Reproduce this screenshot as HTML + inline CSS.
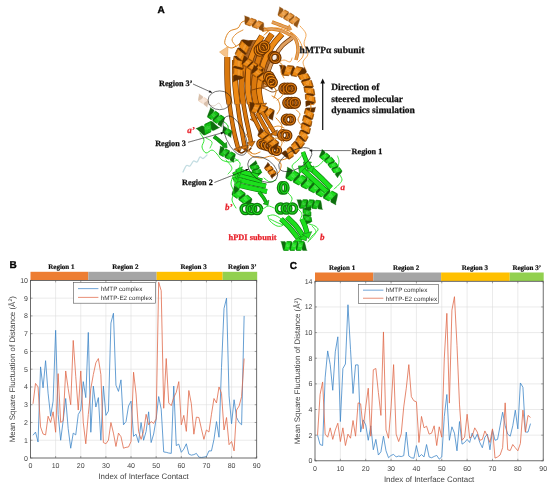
<!DOCTYPE html>
<html><head><meta charset="utf-8"><title>Figure</title>
<style>
html,body{margin:0;padding:0;background:#fff;}
svg{display:block;font-family:"Liberation Sans",sans-serif;}
</style></head><body>
<svg width="550" height="488" viewBox="0 0 550 488" text-rendering="geometricPrecision">
<rect width="550" height="488" fill="#fff"/>
<defs><filter id="soft2" x="-2%" y="-2%" width="104%" height="104%"><feGaussianBlur stdDeviation="0.3"/></filter><filter id="soft" x="-5%" y="-5%" width="110%" height="110%"><feGaussianBlur stdDeviation="0.45"/></filter></defs>
<g id="protein" filter="url(#soft)">
<path d="M266.0 33.0 C267.5 32.2 271.7 28.5 275.0 28.0 C278.3 27.5 282.5 28.7 286.0 30.0 C289.5 31.3 293.3 33.3 296.0 36.0 C298.7 38.7 300.8 42.7 302.0 46.0 C303.2 49.3 303.7 53.3 303.0 56.0 C302.3 58.7 298.8 61.0 298.0 62.0" fill="none" stroke="#f0a04a" stroke-width="1.0" stroke-linecap="round" opacity="1"/>
<path d="M300.0 26.0 C301.0 27.3 305.3 31.0 306.0 34.0 C306.7 37.0 303.7 40.7 304.0 44.0 C304.3 47.3 308.2 51.0 308.0 54.0 C307.8 57.0 303.3 59.3 303.0 62.0 C302.7 64.7 305.5 68.7 306.0 70.0" fill="none" stroke="#f0a04a" stroke-width="0.9" stroke-linecap="round" opacity="1"/>
<path d="M279.0 62.0 C279.8 61.7 282.2 60.0 284.0 60.0 C285.8 60.0 288.7 62.3 290.0 62.0 C291.3 61.7 291.7 58.7 292.0 58.0" fill="none" stroke="#f0a04a" stroke-width="0.9" stroke-linecap="round" opacity="1"/>
<g opacity="1">
<path d="M296.0 60.0 C296.3 58.3 298.0 53.3 298.0 50.0 C298.0 46.7 297.3 42.8 296.0 40.0 C294.7 37.2 291.0 34.2 290.0 33.0" fill="none" stroke="#d9780c" stroke-width="3.4" stroke-linecap="butt"/>
<path d="M296.0 60.0 C296.3 58.3 298.0 53.3 298.0 50.0 C298.0 46.7 297.3 42.8 296.0 40.0 C294.7 37.2 291.0 34.2 290.0 33.0" fill="none" stroke="#e0a060" stroke-width="2.1" stroke-linecap="butt"/>
</g>
<g opacity="1">
<path d="M272.0 22.0 C273.3 22.5 277.3 24.0 280.0 25.0 C282.7 26.0 286.7 27.5 288.0 28.0" fill="none" stroke="#d9780c" stroke-width="3.6" stroke-linecap="butt"/>
<path d="M272.0 22.0 C273.3 22.5 277.3 24.0 280.0 25.0 C282.7 26.0 286.7 27.5 288.0 28.0" fill="none" stroke="#e0a060" stroke-width="2.3" stroke-linecap="butt"/>
<path d="M291.7 29.4 L286.8 31.2 L289.2 24.8 Z" fill="#e0a060" stroke="#d9780c" stroke-width="0.6"/>
</g>
<g opacity="1">
<path d="M262.0 30.0 C263.7 29.8 268.7 28.8 272.0 29.0 C275.3 29.2 278.7 29.8 282.0 31.0 C285.3 32.2 290.3 35.2 292.0 36.0" fill="none" stroke="#d9780c" stroke-width="3.4" stroke-linecap="butt"/>
<path d="M262.0 30.0 C263.7 29.8 268.7 28.8 272.0 29.0 C275.3 29.2 278.7 29.8 282.0 31.0 C285.3 32.2 290.3 35.2 292.0 36.0" fill="none" stroke="#e0a060" stroke-width="2.1" stroke-linecap="butt"/>
</g>
<path d="M250.0 20.0 C248.7 20.3 244.0 20.7 242.0 22.0 C240.0 23.3 240.0 26.5 238.0 28.0 C236.0 29.5 232.0 29.5 230.0 31.0 C228.0 32.5 226.8 34.8 226.0 37.0 C225.2 39.2 224.2 42.2 225.0 44.0 C225.8 45.8 228.8 47.8 231.0 48.0 C233.2 48.2 236.0 46.3 238.0 45.0 C240.0 43.7 242.2 40.8 243.0 40.0" fill="none" stroke="#d9780c" stroke-width="0.9" stroke-linecap="round" opacity="1"/>
<path d="M243.0 30.0 C241.8 30.7 237.8 32.3 236.0 34.0 C234.2 35.7 232.0 38.0 232.0 40.0 C232.0 42.0 235.3 45.0 236.0 46.0" fill="none" stroke="#d9780c" stroke-width="0.8" stroke-linecap="round" opacity="1"/>
<path d="M264.0 27.0 C264.7 27.7 268.0 29.7 268.0 31.0 C268.0 32.3 264.7 34.3 264.0 35.0" fill="none" stroke="#d9780c" stroke-width="0.8" stroke-linecap="round" opacity="1"/>
<path d="M219.5 52 L228 46.5 L227.5 58.5 Z" fill="#f6c38a" stroke="#e39a45" stroke-width="0.5"/>
<path d="M240 46 L250 40 L262 40 L270 46 L270 60 L268 74 L270 86 L260 89 L246 84 L236 70 Z" fill="#9c520a" opacity="0.9"/>
<g opacity="1">
<path d="M292.0 38.0 C290.3 39.3 285.0 42.7 282.0 46.0 C279.0 49.3 276.3 53.7 274.0 58.0 C271.7 62.3 269.5 67.3 268.0 72.0 C266.5 76.7 265.5 83.7 265.0 86.0" fill="none" stroke="#6e3403" stroke-width="4.4" stroke-linecap="butt"/>
<path d="M292.0 38.0 C290.3 39.3 285.0 42.7 282.0 46.0 C279.0 49.3 276.3 53.7 274.0 58.0 C271.7 62.3 269.5 67.3 268.0 72.0 C266.5 76.7 265.5 83.7 265.0 86.0" fill="none" stroke="#e0a060" stroke-width="3.1" stroke-linecap="butt"/>
</g>
<g opacity="1">
<path d="M282.0 34.0 C280.3 36.0 275.0 41.3 272.0 46.0 C269.0 50.7 266.0 56.7 264.0 62.0 C262.0 67.3 260.8 73.0 260.0 78.0 C259.2 83.0 258.8 87.7 259.0 92.0 C259.2 96.3 260.7 102.0 261.0 104.0" fill="none" stroke="#6e3403" stroke-width="6.0" stroke-linecap="butt"/>
<path d="M282.0 34.0 C280.3 36.0 275.0 41.3 272.0 46.0 C269.0 50.7 266.0 56.7 264.0 62.0 C262.0 67.3 260.8 73.0 260.0 78.0 C259.2 83.0 258.8 87.7 259.0 92.0 C259.2 96.3 260.7 102.0 261.0 104.0" fill="none" stroke="#ee8a12" stroke-width="4.7" stroke-linecap="butt"/>
<path d="M262.1 110.5 L255.4 104.9 L266.6 103.1 Z" fill="#ee8a12" stroke="#6e3403" stroke-width="0.6"/>
</g>
<g opacity="1">
<path d="M272.0 34.0 C270.5 36.3 265.5 43.0 263.0 48.0 C260.5 53.0 258.4 58.7 257.0 64.0 C255.6 69.3 255.0 75.3 254.5 80.0 C254.0 84.7 253.8 88.0 254.0 92.0 C254.2 96.0 255.7 102.0 256.0 104.0" fill="none" stroke="#6e3403" stroke-width="6.0" stroke-linecap="butt"/>
<path d="M272.0 34.0 C270.5 36.3 265.5 43.0 263.0 48.0 C260.5 53.0 258.4 58.7 257.0 64.0 C255.6 69.3 255.0 75.3 254.5 80.0 C254.0 84.7 253.8 88.0 254.0 92.0 C254.2 96.0 255.7 102.0 256.0 104.0" fill="none" stroke="#d9780c" stroke-width="4.7" stroke-linecap="butt"/>
<path d="M257.1 110.5 L250.4 104.9 L261.6 103.1 Z" fill="#d9780c" stroke="#6e3403" stroke-width="0.6"/>
</g>
<g opacity="1">
<path d="M250.0 104.0 C250.3 105.3 251.3 109.7 252.0 112.0 C252.7 114.3 253.7 117.0 254.0 118.0" fill="none" stroke="#6e3403" stroke-width="4.4" stroke-linecap="butt"/>
<path d="M250.0 104.0 C250.3 105.3 251.3 109.7 252.0 112.0 C252.7 114.3 253.7 117.0 254.0 118.0" fill="none" stroke="#d9780c" stroke-width="3.1" stroke-linecap="butt"/>
<path d="M255.5 122.6 L250.0 119.3 L258.0 116.7 Z" fill="#d9780c" stroke="#6e3403" stroke-width="0.6"/>
</g>
<g opacity="1">
<path d="M262.0 36.0 C260.7 38.3 256.2 45.0 254.0 50.0 C251.8 55.0 250.0 60.7 249.0 66.0 C248.0 71.3 248.0 77.7 247.8 82.0 C247.6 86.3 247.6 88.3 248.0 92.0 C248.4 95.7 249.7 102.0 250.0 104.0" fill="none" stroke="#6e3403" stroke-width="6.0" stroke-linecap="butt"/>
<path d="M262.0 36.0 C260.7 38.3 256.2 45.0 254.0 50.0 C251.8 55.0 250.0 60.7 249.0 66.0 C248.0 71.3 248.0 77.7 247.8 82.0 C247.6 86.3 247.6 88.3 248.0 92.0 C248.4 95.7 249.7 102.0 250.0 104.0" fill="none" stroke="#ee8a12" stroke-width="4.7" stroke-linecap="butt"/>
</g>
<g opacity="1">
<path d="M243.5 104.0 C243.9 106.3 245.1 113.3 246.0 118.0 C246.9 122.7 248.2 128.0 249.0 132.0 C249.8 136.0 250.7 140.3 251.0 142.0" fill="none" stroke="#6e3403" stroke-width="4.4" stroke-linecap="butt"/>
<path d="M243.5 104.0 C243.9 106.3 245.1 113.3 246.0 118.0 C246.9 122.7 248.2 128.0 249.0 132.0 C249.8 136.0 250.7 140.3 251.0 142.0" fill="none" stroke="#d9780c" stroke-width="3.1" stroke-linecap="butt"/>
<path d="M251.9 146.7 L246.9 142.8 L255.1 141.2 Z" fill="#d9780c" stroke="#6e3403" stroke-width="0.6"/>
</g>
<g opacity="1">
<path d="M244.0 62.0 C243.6 65.0 242.2 75.0 241.8 80.0 C241.4 85.0 241.5 88.0 241.8 92.0 C242.1 96.0 243.2 102.0 243.5 104.0" fill="none" stroke="#6e3403" stroke-width="6.0" stroke-linecap="butt"/>
<path d="M244.0 62.0 C243.6 65.0 242.2 75.0 241.8 80.0 C241.4 85.0 241.5 88.0 241.8 92.0 C242.1 96.0 243.2 102.0 243.5 104.0" fill="none" stroke="#d9780c" stroke-width="4.7" stroke-linecap="butt"/>
</g>
<g opacity="1">
<path d="M237.5 104.0 C237.8 106.3 238.8 113.3 239.5 118.0 C240.2 122.7 241.2 127.3 242.0 132.0 C242.8 136.7 244.1 143.7 244.5 146.0" fill="none" stroke="#6e3403" stroke-width="4.4" stroke-linecap="butt"/>
<path d="M237.5 104.0 C237.8 106.3 238.8 113.3 239.5 118.0 C240.2 122.7 241.2 127.3 242.0 132.0 C242.8 136.7 244.1 143.7 244.5 146.0" fill="none" stroke="#d9780c" stroke-width="3.1" stroke-linecap="butt"/>
<path d="M245.4 150.8 L240.4 146.7 L248.6 145.3 Z" fill="#d9780c" stroke="#6e3403" stroke-width="0.6"/>
</g>
<g opacity="1">
<path d="M235.0 60.0 C235.0 63.3 234.8 74.7 235.0 80.0 C235.2 85.3 235.6 88.0 236.0 92.0 C236.4 96.0 237.2 102.0 237.5 104.0" fill="none" stroke="#6e3403" stroke-width="6.0" stroke-linecap="butt"/>
<path d="M235.0 60.0 C235.0 63.3 234.8 74.7 235.0 80.0 C235.2 85.3 235.6 88.0 236.0 92.0 C236.4 96.0 237.2 102.0 237.5 104.0" fill="none" stroke="#ee8a12" stroke-width="4.7" stroke-linecap="butt"/>
</g>
<g opacity="1">
<path d="M229.5 104.0 C229.8 106.3 230.7 113.0 231.5 118.0 C232.3 123.0 233.4 129.0 234.5 134.0 C235.6 139.0 237.4 145.7 238.0 148.0" fill="none" stroke="#6e3403" stroke-width="4.4" stroke-linecap="butt"/>
<path d="M229.5 104.0 C229.8 106.3 230.7 113.0 231.5 118.0 C232.3 123.0 233.4 129.0 234.5 134.0 C235.6 139.0 237.4 145.7 238.0 148.0" fill="none" stroke="#d9780c" stroke-width="3.1" stroke-linecap="butt"/>
<path d="M239.2 152.7 L233.9 149.0 L242.1 147.0 Z" fill="#d9780c" stroke="#6e3403" stroke-width="0.6"/>
</g>
<g opacity="1">
<path d="M227.3 57.0 C227.3 60.0 227.2 69.2 227.3 75.0 C227.4 80.8 227.6 87.2 228.0 92.0 C228.4 96.8 229.2 102.0 229.5 104.0" fill="none" stroke="#6e3403" stroke-width="6.0" stroke-linecap="butt"/>
<path d="M227.3 57.0 C227.3 60.0 227.2 69.2 227.3 75.0 C227.4 80.8 227.6 87.2 228.0 92.0 C228.4 96.8 229.2 102.0 229.5 104.0" fill="none" stroke="#d9780c" stroke-width="4.7" stroke-linecap="butt"/>
</g>
<path d="M238.0 150.0 C238.5 150.5 239.8 152.8 241.0 153.0 C242.2 153.2 244.3 151.3 245.0 151.0" fill="none" stroke="#6e3403" stroke-width="1.6" stroke-linecap="round" opacity="1"/>
<path d="M245.0 149.0 C245.5 149.3 247.0 151.2 248.0 151.0 C249.0 150.8 250.5 148.5 251.0 148.0" fill="none" stroke="#6e3403" stroke-width="1.6" stroke-linecap="round" opacity="1"/>
<g opacity="1">
<path d="M279.4 6.8 L279.6 7.6 L279.3 9.1 L278.8 11.2 L278.2 13.2 L277.9 14.8 L278.1 15.5 L281.9 17.6 L281.7 16.9 L281.9 15.3 L282.5 13.3 L283.0 11.2 L283.3 9.7 L283.1 8.9 Z" fill="#945617" stroke="#945617" stroke-width="0.3" stroke-linejoin="round"/>
<path d="M284.9 9.9 L285.1 10.7 L284.8 12.2 L284.2 14.3 L283.7 16.3 L283.4 17.9 L283.6 18.6 L287.3 20.7 L287.2 20.0 L287.4 18.4 L288.0 16.4 L288.5 14.3 L288.8 12.8 L288.6 12.0 Z" fill="#945617" stroke="#945617" stroke-width="0.3" stroke-linejoin="round"/>
<path d="M290.4 13.0 L290.6 13.7 L290.3 15.3 L289.7 17.4 L289.0 19.3 L288.6 20.8 L288.7 21.6 L292.3 24.0 L292.1 23.3 L292.5 21.7 L293.3 19.8 L294.0 17.8 L294.4 16.2 L294.3 15.5 Z" fill="#945617" stroke="#945617" stroke-width="0.3" stroke-linejoin="round"/>
<path d="M296.0 16.6 L296.1 17.4 L295.7 18.9 L294.9 20.9 L294.2 22.9 L293.8 24.4 L293.9 25.2 L297.4 27.6 L297.3 26.8 L297.7 25.3 L298.5 23.3 L299.2 21.3 L299.6 19.8 L299.5 19.1 Z" fill="#945617" stroke="#945617" stroke-width="0.3" stroke-linejoin="round"/>
<path d="M278.1 15.5 L278.4 15.5 L278.7 15.4 L279.2 15.0 L282.9 17.1 L282.5 17.5 L282.1 17.6 L281.9 17.6 Z" fill="#c67b2a" stroke="#c67b2a" stroke-width="0.3" stroke-linejoin="round"/>
<path d="M279.2 15.0 L279.7 14.5 L280.4 13.9 L281.1 13.2 L284.8 15.3 L284.1 16.0 L283.5 16.6 L282.9 17.1 Z" fill="#eb9a3e" stroke="#eb9a3e" stroke-width="0.3" stroke-linejoin="round"/>
<path d="M281.1 13.2 L281.6 12.7 L282.1 12.1 L282.6 11.6 L286.3 13.7 L285.8 14.2 L285.3 14.8 L284.8 15.3 Z" fill="#eda655" stroke="#eda655" stroke-width="0.3" stroke-linejoin="round"/>
<path d="M282.6 11.6 L283.1 11.0 L283.6 10.6 L284.1 10.2 L287.8 12.3 L287.4 12.7 L286.9 13.1 L286.3 13.7 Z" fill="#eb9a3e" stroke="#eb9a3e" stroke-width="0.3" stroke-linejoin="round"/>
<path d="M284.1 10.2 L284.4 10.0 L284.7 9.9 L284.9 9.9 L288.6 12.0 L288.4 12.0 L288.1 12.1 L287.8 12.3 Z" fill="#c67b2a" stroke="#c67b2a" stroke-width="0.3" stroke-linejoin="round"/>
<path d="M283.6 18.6 L283.9 18.6 L284.2 18.5 L284.7 18.1 L288.4 20.2 L288.0 20.6 L287.6 20.7 L287.3 20.7 Z" fill="#c67b2a" stroke="#c67b2a" stroke-width="0.3" stroke-linejoin="round"/>
<path d="M284.7 18.1 L285.2 17.6 L285.9 17.0 L286.5 16.3 L290.2 18.4 L289.5 19.1 L288.8 19.6 L288.4 20.2 Z" fill="#eb9a3e" stroke="#eb9a3e" stroke-width="0.3" stroke-linejoin="round"/>
<path d="M286.5 16.3 L287.1 15.7 L287.6 15.2 L288.1 14.7 L291.9 16.9 L291.3 17.4 L290.8 17.9 L290.2 18.4 Z" fill="#eda655" stroke="#eda655" stroke-width="0.3" stroke-linejoin="round"/>
<path d="M288.1 14.7 L288.6 14.1 L289.1 13.6 L289.6 13.3 L293.5 15.7 L293.0 16.0 L292.5 16.4 L291.9 16.9 Z" fill="#eb9a3e" stroke="#eb9a3e" stroke-width="0.3" stroke-linejoin="round"/>
<path d="M289.6 13.3 L289.9 13.1 L290.2 13.0 L290.4 13.0 L294.3 15.5 L294.1 15.4 L293.8 15.5 L293.5 15.7 Z" fill="#c67b2a" stroke="#c67b2a" stroke-width="0.3" stroke-linejoin="round"/>
<path d="M288.7 21.6 L289.0 21.6 L289.3 21.5 L289.8 21.2 L293.4 23.6 L292.9 23.9 L292.5 24.1 L292.3 24.0 Z" fill="#c67b2a" stroke="#c67b2a" stroke-width="0.3" stroke-linejoin="round"/>
<path d="M289.8 21.2 L290.4 20.8 L291.1 20.2 L291.9 19.6 L295.4 22.0 L294.6 22.6 L294.0 23.2 L293.4 23.6 Z" fill="#eb9a3e" stroke="#eb9a3e" stroke-width="0.3" stroke-linejoin="round"/>
<path d="M291.9 19.6 L292.4 19.1 L293.0 18.6 L293.5 18.1 L297.0 20.5 L296.5 21.0 L295.9 21.5 L295.4 22.0 Z" fill="#eda655" stroke="#eda655" stroke-width="0.3" stroke-linejoin="round"/>
<path d="M293.5 18.1 L294.1 17.6 L294.7 17.2 L295.1 16.8 L298.7 19.3 L298.2 19.6 L297.6 20.0 L297.0 20.5 Z" fill="#eb9a3e" stroke="#eb9a3e" stroke-width="0.3" stroke-linejoin="round"/>
<path d="M295.1 16.8 L295.5 16.6 L295.8 16.6 L296.0 16.6 L299.5 19.1 L299.3 19.0 L299.0 19.1 L298.7 19.3 Z" fill="#c67b2a" stroke="#c67b2a" stroke-width="0.3" stroke-linejoin="round"/>
</g>
<g opacity="1">
<path d="M244.4 15.7 L244.8 16.4 L244.9 18.0 L244.8 20.0 L244.8 22.1 L244.9 23.6 L245.3 24.3 L250.1 26.0 L249.7 25.3 L249.6 23.8 L249.6 21.7 L249.7 19.7 L249.6 18.1 L249.2 17.4 Z" fill="#894b0e" stroke="#894b0e" stroke-width="0.3" stroke-linejoin="round"/>
<path d="M251.4 18.2 L251.9 18.9 L252.0 20.5 L251.9 22.5 L251.8 24.6 L251.9 26.1 L252.3 26.8 L257.0 28.6 L256.6 27.9 L256.5 26.3 L256.7 24.3 L256.8 22.2 L256.6 20.6 L256.2 19.9 Z" fill="#894b0e" stroke="#894b0e" stroke-width="0.3" stroke-linejoin="round"/>
<path d="M258.6 20.8 L259.0 21.6 L259.0 23.1 L258.9 25.2 L258.8 27.2 L258.8 28.8 L259.2 29.5 L263.9 31.4 L263.5 30.6 L263.5 29.1 L263.6 27.1 L263.8 25.0 L263.7 23.5 L263.3 22.7 Z" fill="#894b0e" stroke="#894b0e" stroke-width="0.3" stroke-linejoin="round"/>
<path d="M245.3 24.3 L245.6 24.3 L245.9 24.1 L246.4 23.8 L251.2 25.5 L250.7 25.8 L250.4 26.0 L250.1 26.0 Z" fill="#bf701f" stroke="#bf701f" stroke-width="0.3" stroke-linejoin="round"/>
<path d="M246.4 23.8 L246.9 23.2 L247.4 22.5 L248.0 21.8 L252.8 23.5 L252.2 24.2 L251.7 24.9 L251.2 25.5 Z" fill="#ea9232" stroke="#ea9232" stroke-width="0.3" stroke-linejoin="round"/>
<path d="M248.0 21.8 L248.4 21.2 L248.8 20.6 L249.3 20.1 L254.1 21.8 L253.6 22.3 L253.2 22.9 L252.8 23.5 Z" fill="#ed9f4b" stroke="#ed9f4b" stroke-width="0.3" stroke-linejoin="round"/>
<path d="M249.3 20.1 L249.7 19.5 L250.2 19.0 L250.6 18.6 L255.4 20.3 L255.0 20.7 L254.5 21.2 L254.1 21.8 Z" fill="#ea9232" stroke="#ea9232" stroke-width="0.3" stroke-linejoin="round"/>
<path d="M250.6 18.6 L250.9 18.3 L251.2 18.2 L251.4 18.2 L256.2 19.9 L256.0 19.9 L255.7 20.0 L255.4 20.3 Z" fill="#bf701f" stroke="#bf701f" stroke-width="0.3" stroke-linejoin="round"/>
<path d="M252.3 26.8 L252.6 26.8 L253.0 26.6 L253.4 26.3 L258.1 28.1 L257.6 28.4 L257.3 28.6 L257.0 28.6 Z" fill="#bf701f" stroke="#bf701f" stroke-width="0.3" stroke-linejoin="round"/>
<path d="M253.4 26.3 L253.9 25.7 L254.5 25.1 L255.0 24.3 L259.7 26.2 L259.1 26.9 L258.6 27.5 L258.1 28.1 Z" fill="#ea9232" stroke="#ea9232" stroke-width="0.3" stroke-linejoin="round"/>
<path d="M255.0 24.3 L255.5 23.7 L255.9 23.1 L256.3 22.6 L261.1 24.5 L260.7 25.0 L260.2 25.6 L259.7 26.2 Z" fill="#ed9f4b" stroke="#ed9f4b" stroke-width="0.3" stroke-linejoin="round"/>
<path d="M256.3 22.6 L256.9 22.0 L257.3 21.5 L257.8 21.2 L262.5 23.0 L262.1 23.4 L261.6 23.9 L261.1 24.5 Z" fill="#ea9232" stroke="#ea9232" stroke-width="0.3" stroke-linejoin="round"/>
<path d="M257.8 21.2 L258.1 20.9 L258.4 20.8 L258.6 20.8 L263.3 22.7 L263.1 22.7 L262.8 22.8 L262.5 23.0 Z" fill="#bf701f" stroke="#bf701f" stroke-width="0.3" stroke-linejoin="round"/>
</g>
<g opacity="1">
<path d="M252.9 40.5 L252.0 40.8 L249.9 40.7 L247.2 40.2 L244.5 39.8 L242.5 39.7 L241.5 40.0 L239.0 45.5 L239.9 45.1 L242.0 45.3 L244.7 45.7 L247.4 46.2 L249.4 46.3 L250.4 45.9 Z" fill="#612e03" stroke="#612e03" stroke-width="0.3" stroke-linejoin="round"/>
<path d="M249.2 48.5 L248.2 48.9 L246.2 48.7 L243.5 48.3 L240.8 47.9 L238.7 47.7 L237.8 48.1 L235.2 53.6 L236.2 53.2 L238.2 53.3 L240.9 53.8 L243.6 54.2 L245.6 54.4 L246.6 54.0 Z" fill="#612e03" stroke="#612e03" stroke-width="0.3" stroke-linejoin="round"/>
<path d="M245.4 56.6 L244.4 56.9 L242.4 56.8 L239.7 56.4 L237.0 55.9 L235.0 55.8 L234.0 56.2 L232.9 64.4 L233.5 63.6 L235.4 62.8 L238.1 62.0 L240.7 61.2 L242.6 60.4 L242.8 62.0 Z" fill="#612e03" stroke="#612e03" stroke-width="0.3" stroke-linejoin="round"/>
<path d="M243.3 62.5 L242.6 63.3 L240.7 64.1 L238.1 64.9 L235.5 65.7 L233.6 66.5 L232.9 67.2 L233.1 73.3 L233.8 72.5 L235.7 71.7 L238.3 70.9 L240.9 70.1 L242.8 69.3 L243.5 68.6 Z" fill="#612e03" stroke="#612e03" stroke-width="0.3" stroke-linejoin="round"/>
<path d="M243.6 71.4 L242.9 72.2 L241.0 72.9 L238.4 73.8 L235.8 74.6 L233.9 75.4 L233.2 76.1 L233.3 82.2 L234.0 81.4 L235.9 80.6 L238.5 79.8 L241.1 79.0 L243.0 78.2 L243.7 77.4 Z" fill="#612e03" stroke="#612e03" stroke-width="0.3" stroke-linejoin="round"/>
<path d="M241.5 40.0 L241.5 40.4 L241.7 40.9 L242.2 41.4 L239.6 46.9 L239.2 46.3 L239.0 45.9 L239.0 45.5 Z" fill="#a85b0a" stroke="#a85b0a" stroke-width="0.3" stroke-linejoin="round"/>
<path d="M242.2 41.4 L242.9 42.1 L243.7 42.9 L244.7 43.7 L242.1 49.2 L241.2 48.4 L240.3 47.6 L239.6 46.9 Z" fill="#ee8a12" stroke="#ee8a12" stroke-width="0.3" stroke-linejoin="round"/>
<path d="M244.7 43.7 L245.4 44.3 L246.2 45.0 L246.9 45.6 L244.3 51.1 L243.6 50.4 L242.9 49.8 L242.1 49.2 Z" fill="#f0982e" stroke="#f0982e" stroke-width="0.3" stroke-linejoin="round"/>
<path d="M246.9 45.6 L247.6 46.3 L248.3 46.9 L248.8 47.4 L246.2 52.9 L245.7 52.4 L245.1 51.7 L244.3 51.1 Z" fill="#ee8a12" stroke="#ee8a12" stroke-width="0.3" stroke-linejoin="round"/>
<path d="M248.8 47.4 L249.0 47.9 L249.2 48.2 L249.2 48.5 L246.6 54.0 L246.6 53.7 L246.5 53.3 L246.2 52.9 Z" fill="#a85b0a" stroke="#a85b0a" stroke-width="0.3" stroke-linejoin="round"/>
<path d="M237.8 48.1 L237.7 48.5 L238.0 48.9 L238.4 49.5 L235.9 55.0 L235.4 54.4 L235.2 53.9 L235.2 53.6 Z" fill="#a85b0a" stroke="#a85b0a" stroke-width="0.3" stroke-linejoin="round"/>
<path d="M238.4 49.5 L239.1 50.2 L240.0 51.0 L240.9 51.8 L238.4 57.3 L237.4 56.4 L236.6 55.7 L235.9 55.0 Z" fill="#ee8a12" stroke="#ee8a12" stroke-width="0.3" stroke-linejoin="round"/>
<path d="M240.9 51.8 L241.7 52.4 L242.4 53.0 L243.1 53.6 L240.5 59.1 L239.8 58.5 L239.1 57.9 L238.4 57.3 Z" fill="#f0982e" stroke="#f0982e" stroke-width="0.3" stroke-linejoin="round"/>
<path d="M243.1 53.6 L243.9 54.3 L244.5 54.9 L245.0 55.5 L242.4 61.0 L241.9 60.4 L241.3 59.8 L240.5 59.1 Z" fill="#ee8a12" stroke="#ee8a12" stroke-width="0.3" stroke-linejoin="round"/>
<path d="M245.0 55.5 L245.3 55.9 L245.4 56.3 L245.4 56.6 L242.8 62.0 L242.9 61.8 L242.7 61.4 L242.4 61.0 Z" fill="#a85b0a" stroke="#a85b0a" stroke-width="0.3" stroke-linejoin="round"/>
<path d="M234.0 56.2 L234.0 56.5 L234.2 57.0 L234.7 57.5 L234.1 65.3 L233.4 65.0 L233.0 64.7 L232.9 64.4 Z" fill="#a85b0a" stroke="#a85b0a" stroke-width="0.3" stroke-linejoin="round"/>
<path d="M234.7 57.5 L235.4 58.2 L236.2 59.0 L237.2 60.2 L237.3 66.3 L236.1 66.0 L235.0 65.6 L234.1 65.3 Z" fill="#ee8a12" stroke="#ee8a12" stroke-width="0.3" stroke-linejoin="round"/>
<path d="M237.2 60.2 L238.1 60.5 L239.1 60.7 L240.0 60.9 L240.1 67.0 L239.2 66.7 L238.3 66.5 L237.3 66.3 Z" fill="#f0982e" stroke="#f0982e" stroke-width="0.3" stroke-linejoin="round"/>
<path d="M240.0 60.9 L240.9 61.2 L241.8 61.5 L242.5 61.7 L242.6 67.8 L241.9 67.5 L241.1 67.2 L240.1 67.0 Z" fill="#ee8a12" stroke="#ee8a12" stroke-width="0.3" stroke-linejoin="round"/>
<path d="M242.5 61.7 L242.9 62.0 L243.2 62.2 L243.3 62.5 L243.5 68.6 L243.4 68.3 L243.1 68.0 L242.6 67.8 Z" fill="#a85b0a" stroke="#a85b0a" stroke-width="0.3" stroke-linejoin="round"/>
<path d="M232.9 67.2 L233.1 67.6 L233.5 67.9 L234.2 68.2 L234.3 74.2 L233.7 73.9 L233.2 73.6 L233.1 73.3 Z" fill="#a85b0a" stroke="#a85b0a" stroke-width="0.3" stroke-linejoin="round"/>
<path d="M234.2 68.2 L235.1 68.5 L236.2 68.8 L237.4 69.1 L237.6 75.2 L236.4 74.8 L235.3 74.5 L234.3 74.2 Z" fill="#ee8a12" stroke="#ee8a12" stroke-width="0.3" stroke-linejoin="round"/>
<path d="M237.4 69.1 L238.4 69.3 L239.3 69.6 L240.2 69.8 L240.4 75.8 L239.4 75.6 L238.5 75.4 L237.6 75.2 Z" fill="#f0982e" stroke="#f0982e" stroke-width="0.3" stroke-linejoin="round"/>
<path d="M240.2 69.8 L241.2 70.1 L242.0 70.3 L242.7 70.6 L242.9 76.7 L242.2 76.4 L241.3 76.1 L240.4 75.8 Z" fill="#ee8a12" stroke="#ee8a12" stroke-width="0.3" stroke-linejoin="round"/>
<path d="M242.7 70.6 L243.2 70.9 L243.5 71.1 L243.6 71.4 L243.7 77.4 L243.6 77.2 L243.3 76.9 L242.9 76.7 Z" fill="#a85b0a" stroke="#a85b0a" stroke-width="0.3" stroke-linejoin="round"/>
</g>
<g opacity="1">
<ellipse cx="259.8" cy="50.3" rx="4.6" ry="4.8" fill="none" stroke="#6e3403" stroke-width="3.4"/>
<ellipse cx="259.8" cy="50.3" rx="4.6" ry="4.8" fill="none" stroke="#ee8a12" stroke-width="1.18"/>
<ellipse cx="262.0" cy="48.5" rx="4.6" ry="4.8" fill="none" stroke="#6e3403" stroke-width="3.4"/>
<ellipse cx="262.0" cy="48.5" rx="4.6" ry="4.8" fill="none" stroke="#ee8a12" stroke-width="1.18"/>
<ellipse cx="264.2" cy="46.7" rx="4.6" ry="4.8" fill="none" stroke="#6e3403" stroke-width="3.4"/>
<ellipse cx="264.2" cy="46.7" rx="4.6" ry="4.8" fill="none" stroke="#ee8a12" stroke-width="1.18"/>
</g>
<g opacity="1">
<path d="M243.8 55.6 L243.9 56.4 L243.5 58.0 L242.9 60.0 L242.2 62.1 L241.8 63.7 L241.9 64.5 L245.6 66.7 L245.4 66.0 L245.8 64.4 L246.5 62.3 L247.2 60.2 L247.5 58.6 L247.4 57.9 Z" fill="#612e03" stroke="#612e03" stroke-width="0.3" stroke-linejoin="round"/>
<path d="M249.1 58.9 L249.2 59.7 L248.9 61.3 L248.2 63.4 L247.5 65.4 L247.1 67.0 L247.3 67.8 L250.9 70.1 L250.8 69.3 L251.1 67.7 L251.8 65.6 L252.5 63.6 L252.9 62.0 L252.7 61.2 Z" fill="#612e03" stroke="#612e03" stroke-width="0.3" stroke-linejoin="round"/>
<path d="M254.4 62.3 L254.6 63.0 L254.2 64.6 L253.5 66.7 L252.8 68.8 L252.5 70.4 L252.6 71.1 L256.2 73.4 L256.1 72.6 L256.5 71.0 L257.1 69.0 L257.8 66.9 L258.2 65.3 L258.1 64.5 Z" fill="#612e03" stroke="#612e03" stroke-width="0.3" stroke-linejoin="round"/>
<path d="M259.8 65.6 L259.9 66.4 L259.5 68.0 L258.9 70.0 L258.2 72.1 L257.8 73.7 L257.9 74.5 L261.6 76.7 L261.4 76.0 L261.8 74.4 L262.5 72.3 L263.2 70.2 L263.5 68.6 L263.4 67.9 Z" fill="#612e03" stroke="#612e03" stroke-width="0.3" stroke-linejoin="round"/>
<path d="M241.9 64.5 L242.2 64.5 L242.6 64.3 L243.0 64.0 L246.7 66.3 L246.2 66.6 L245.8 66.8 L245.6 66.7 Z" fill="#a85b0a" stroke="#a85b0a" stroke-width="0.3" stroke-linejoin="round"/>
<path d="M243.0 64.0 L243.6 63.5 L244.3 62.9 L245.0 62.2 L248.7 64.4 L247.9 65.2 L247.3 65.8 L246.7 66.3 Z" fill="#ee8a12" stroke="#ee8a12" stroke-width="0.3" stroke-linejoin="round"/>
<path d="M245.0 62.2 L245.6 61.6 L246.1 61.1 L246.7 60.6 L250.3 62.8 L249.8 63.4 L249.2 63.9 L248.7 64.4 Z" fill="#f0982e" stroke="#f0982e" stroke-width="0.3" stroke-linejoin="round"/>
<path d="M246.7 60.6 L247.3 60.0 L247.8 59.5 L248.3 59.2 L251.9 61.5 L251.4 61.8 L250.9 62.3 L250.3 62.8 Z" fill="#ee8a12" stroke="#ee8a12" stroke-width="0.3" stroke-linejoin="round"/>
<path d="M248.3 59.2 L248.6 59.0 L248.9 58.9 L249.1 58.9 L252.7 61.2 L252.5 61.2 L252.3 61.2 L251.9 61.5 Z" fill="#a85b0a" stroke="#a85b0a" stroke-width="0.3" stroke-linejoin="round"/>
<path d="M247.3 67.8 L247.5 67.8 L247.9 67.7 L248.4 67.3 L252.0 69.6 L251.5 69.9 L251.1 70.1 L250.9 70.1 Z" fill="#a85b0a" stroke="#a85b0a" stroke-width="0.3" stroke-linejoin="round"/>
<path d="M248.4 67.3 L249.0 66.8 L249.6 66.2 L250.4 65.5 L254.0 67.8 L253.3 68.5 L252.6 69.1 L252.0 69.6 Z" fill="#ee8a12" stroke="#ee8a12" stroke-width="0.3" stroke-linejoin="round"/>
<path d="M250.4 65.5 L250.9 65.0 L251.5 64.4 L252.0 63.9 L255.6 66.2 L255.1 66.7 L254.5 67.2 L254.0 67.8 Z" fill="#f0982e" stroke="#f0982e" stroke-width="0.3" stroke-linejoin="round"/>
<path d="M252.0 63.9 L252.6 63.4 L253.1 62.9 L253.6 62.5 L257.2 64.8 L256.8 65.1 L256.2 65.6 L255.6 66.2 Z" fill="#ee8a12" stroke="#ee8a12" stroke-width="0.3" stroke-linejoin="round"/>
<path d="M253.6 62.5 L254.0 62.3 L254.2 62.2 L254.4 62.3 L258.1 64.5 L257.9 64.5 L257.6 64.6 L257.2 64.8 Z" fill="#a85b0a" stroke="#a85b0a" stroke-width="0.3" stroke-linejoin="round"/>
<path d="M252.6 71.1 L252.9 71.2 L253.2 71.0 L253.7 70.7 L257.3 72.9 L256.9 73.3 L256.5 73.4 L256.2 73.4 Z" fill="#a85b0a" stroke="#a85b0a" stroke-width="0.3" stroke-linejoin="round"/>
<path d="M253.7 70.7 L254.3 70.2 L255.0 69.6 L255.7 68.8 L259.3 71.1 L258.6 71.8 L257.9 72.4 L257.3 72.9 Z" fill="#ee8a12" stroke="#ee8a12" stroke-width="0.3" stroke-linejoin="round"/>
<path d="M255.7 68.8 L256.3 68.3 L256.8 67.8 L257.3 67.2 L261.0 69.5 L260.4 70.0 L259.9 70.6 L259.3 71.1 Z" fill="#f0982e" stroke="#f0982e" stroke-width="0.3" stroke-linejoin="round"/>
<path d="M257.3 67.2 L257.9 66.7 L258.5 66.2 L258.9 65.9 L262.6 68.1 L262.1 68.5 L261.6 69.0 L261.0 69.5 Z" fill="#ee8a12" stroke="#ee8a12" stroke-width="0.3" stroke-linejoin="round"/>
<path d="M258.9 65.9 L259.3 65.6 L259.6 65.6 L259.8 65.6 L263.4 67.9 L263.2 67.8 L262.9 67.9 L262.6 68.1 Z" fill="#a85b0a" stroke="#a85b0a" stroke-width="0.3" stroke-linejoin="round"/>
</g>
<g opacity="1">
<path d="M253.8 65.0 L253.9 65.8 L253.4 67.4 L252.6 69.5 L251.8 71.5 L251.4 73.1 L251.5 73.9 L255.4 76.9 L255.3 76.0 L255.7 74.4 L256.5 72.4 L257.3 70.3 L257.8 68.7 L257.6 67.9 Z" fill="#612e03" stroke="#612e03" stroke-width="0.3" stroke-linejoin="round"/>
<path d="M259.5 69.3 L259.6 70.1 L259.1 71.7 L258.3 73.8 L257.5 75.8 L257.1 77.4 L257.2 78.2 L261.1 81.1 L261.0 80.3 L261.4 78.7 L262.2 76.7 L263.0 74.6 L263.5 73.0 L263.3 72.2 Z" fill="#612e03" stroke="#612e03" stroke-width="0.3" stroke-linejoin="round"/>
<path d="M265.2 73.6 L265.3 74.4 L264.8 76.0 L264.0 78.0 L263.2 80.1 L262.7 81.7 L262.8 82.5 L266.7 85.5 L266.6 84.6 L267.0 83.1 L267.9 81.0 L268.7 79.0 L269.2 77.4 L269.1 76.6 Z" fill="#612e03" stroke="#612e03" stroke-width="0.3" stroke-linejoin="round"/>
<path d="M270.9 78.0 L271.0 78.8 L270.5 80.4 L269.7 82.4 L268.8 84.5 L268.4 86.1 L268.5 86.9 L272.3 89.8 L272.2 89.0 L272.7 87.4 L273.5 85.4 L274.3 83.4 L274.8 81.8 L274.7 80.9 Z" fill="#612e03" stroke="#612e03" stroke-width="0.3" stroke-linejoin="round"/>
<path d="M251.5 73.9 L251.8 74.0 L252.2 73.9 L252.7 73.6 L256.6 76.5 L256.1 76.8 L255.7 76.9 L255.4 76.9 Z" fill="#a85b0a" stroke="#a85b0a" stroke-width="0.3" stroke-linejoin="round"/>
<path d="M252.7 73.6 L253.4 73.2 L254.1 72.7 L254.9 72.0 L258.8 75.0 L258.0 75.6 L257.3 76.1 L256.6 76.5 Z" fill="#ee8a12" stroke="#ee8a12" stroke-width="0.3" stroke-linejoin="round"/>
<path d="M254.9 72.0 L255.6 71.6 L256.2 71.1 L256.8 70.6 L260.6 73.5 L260.1 74.0 L259.4 74.5 L258.8 75.0 Z" fill="#f0982e" stroke="#f0982e" stroke-width="0.3" stroke-linejoin="round"/>
<path d="M256.8 70.6 L257.4 70.1 L258.0 69.7 L258.6 69.4 L262.4 72.3 L261.9 72.6 L261.3 73.0 L260.6 73.5 Z" fill="#ee8a12" stroke="#ee8a12" stroke-width="0.3" stroke-linejoin="round"/>
<path d="M258.6 69.4 L258.9 69.3 L259.2 69.2 L259.5 69.3 L263.3 72.2 L263.1 72.1 L262.8 72.2 L262.4 72.3 Z" fill="#a85b0a" stroke="#a85b0a" stroke-width="0.3" stroke-linejoin="round"/>
<path d="M257.2 78.2 L257.5 78.3 L257.9 78.2 L258.4 77.9 L262.3 80.8 L261.7 81.1 L261.4 81.2 L261.1 81.1 Z" fill="#a85b0a" stroke="#a85b0a" stroke-width="0.3" stroke-linejoin="round"/>
<path d="M258.4 77.9 L259.1 77.5 L259.8 76.9 L260.7 76.3 L264.5 79.2 L263.7 79.8 L262.9 80.4 L262.3 80.8 Z" fill="#ee8a12" stroke="#ee8a12" stroke-width="0.3" stroke-linejoin="round"/>
<path d="M260.7 76.3 L261.3 75.8 L261.9 75.4 L262.5 74.9 L266.4 77.9 L265.8 78.3 L265.1 78.8 L264.5 79.2 Z" fill="#f0982e" stroke="#f0982e" stroke-width="0.3" stroke-linejoin="round"/>
<path d="M262.5 74.9 L263.1 74.4 L263.7 74.0 L264.3 73.7 L268.2 76.7 L267.6 77.0 L267.0 77.4 L266.4 77.9 Z" fill="#ee8a12" stroke="#ee8a12" stroke-width="0.3" stroke-linejoin="round"/>
<path d="M264.3 73.7 L264.6 73.5 L265.0 73.5 L265.2 73.6 L269.1 76.6 L268.9 76.5 L268.6 76.5 L268.2 76.7 Z" fill="#a85b0a" stroke="#a85b0a" stroke-width="0.3" stroke-linejoin="round"/>
<path d="M262.8 82.5 L263.1 82.6 L263.5 82.5 L264.1 82.2 L267.9 85.2 L267.4 85.4 L266.9 85.5 L266.7 85.5 Z" fill="#a85b0a" stroke="#a85b0a" stroke-width="0.3" stroke-linejoin="round"/>
<path d="M264.1 82.2 L264.7 81.8 L265.5 81.2 L266.3 80.6 L270.1 83.6 L269.3 84.2 L268.6 84.8 L267.9 85.2 Z" fill="#ee8a12" stroke="#ee8a12" stroke-width="0.3" stroke-linejoin="round"/>
<path d="M266.3 80.6 L266.9 80.2 L267.6 79.7 L268.2 79.3 L272.0 82.2 L271.4 82.7 L270.8 83.1 L270.1 83.6 Z" fill="#f0982e" stroke="#f0982e" stroke-width="0.3" stroke-linejoin="round"/>
<path d="M268.2 79.3 L268.8 78.8 L269.4 78.4 L270.0 78.1 L273.8 81.1 L273.3 81.4 L272.7 81.8 L272.0 82.2 Z" fill="#ee8a12" stroke="#ee8a12" stroke-width="0.3" stroke-linejoin="round"/>
<path d="M270.0 78.1 L270.4 77.9 L270.7 77.9 L270.9 78.0 L274.7 80.9 L274.5 80.9 L274.2 80.9 L273.8 81.1 Z" fill="#a85b0a" stroke="#a85b0a" stroke-width="0.3" stroke-linejoin="round"/>
</g>
<circle cx="274.6" cy="57.4" r="4" fill="#fff" opacity="0.8"/>
<g opacity="1">
<ellipse cx="273.9" cy="57.1" rx="4.6" ry="4.6" fill="none" stroke="#6e3403" stroke-width="3.4"/>
<ellipse cx="273.9" cy="57.1" rx="4.6" ry="4.6" fill="none" stroke="#d9780c" stroke-width="1.18"/>
<ellipse cx="275.3" cy="57.7" rx="4.6" ry="4.6" fill="none" stroke="#6e3403" stroke-width="3.4"/>
<ellipse cx="275.3" cy="57.7" rx="4.6" ry="4.6" fill="none" stroke="#d9780c" stroke-width="1.18"/>
</g>
<g opacity="1">
<ellipse cx="268.9" cy="76.7" rx="4.2" ry="4.2" fill="none" stroke="#6e3403" stroke-width="3.4"/>
<ellipse cx="268.9" cy="76.7" rx="4.2" ry="4.2" fill="none" stroke="#ee8a12" stroke-width="1.18"/>
<ellipse cx="270.5" cy="79.5" rx="4.2" ry="4.2" fill="none" stroke="#6e3403" stroke-width="3.4"/>
<ellipse cx="270.5" cy="79.5" rx="4.2" ry="4.2" fill="none" stroke="#ee8a12" stroke-width="1.18"/>
<ellipse cx="272.1" cy="82.3" rx="4.2" ry="4.2" fill="none" stroke="#6e3403" stroke-width="3.4"/>
<ellipse cx="272.1" cy="82.3" rx="4.2" ry="4.2" fill="none" stroke="#ee8a12" stroke-width="1.18"/>
</g>
<path d="M252.0 90.0 C253.7 89.7 258.7 87.7 262.0 88.0 C265.3 88.3 269.3 91.7 272.0 92.0 C274.7 92.3 277.0 90.3 278.0 90.0" fill="none" stroke="#6e3403" stroke-width="0.8" stroke-linecap="round" opacity="1"/>
<g opacity="1">
<path d="M279.1 65.1 L279.8 65.8 L280.4 67.6 L280.9 70.2 L281.5 72.7 L282.1 74.6 L282.8 75.3 L288.6 75.7 L287.9 75.0 L287.3 73.1 L286.8 70.5 L286.2 68.0 L285.6 66.1 L284.9 65.4 Z" fill="#612e03" stroke="#612e03" stroke-width="0.3" stroke-linejoin="round"/>
<path d="M287.7 65.6 L288.4 66.3 L289.0 68.2 L289.5 70.7 L290.1 73.3 L290.7 75.1 L291.4 75.8 L296.4 76.6 L295.8 75.8 L295.5 73.9 L295.3 71.3 L295.2 68.7 L294.2 66.7 L293.5 66.0 Z" fill="#612e03" stroke="#612e03" stroke-width="0.3" stroke-linejoin="round"/>
<path d="M297.0 66.5 L297.6 67.4 L297.9 69.3 L298.0 71.9 L298.2 74.5 L298.5 76.4 L299.1 77.2 L304.8 78.5 L304.2 77.7 L303.9 75.8 L303.8 73.2 L303.6 70.6 L303.3 68.6 L302.7 67.8 Z" fill="#612e03" stroke="#612e03" stroke-width="0.3" stroke-linejoin="round"/>
<path d="M282.8 75.3 L283.1 75.2 L283.4 74.8 L283.8 74.2 L289.6 74.6 L289.3 75.2 L288.9 75.6 L288.6 75.7 Z" fill="#a85b0a" stroke="#a85b0a" stroke-width="0.3" stroke-linejoin="round"/>
<path d="M283.8 74.2 L284.2 73.4 L284.6 72.4 L285.0 71.2 L290.8 71.6 L290.4 72.7 L290.0 73.7 L289.6 74.6 Z" fill="#ee8a12" stroke="#ee8a12" stroke-width="0.3" stroke-linejoin="round"/>
<path d="M285.0 71.2 L285.3 70.3 L285.6 69.5 L285.9 68.6 L291.7 69.0 L291.4 69.8 L291.1 70.7 L290.8 71.6 Z" fill="#f0982e" stroke="#f0982e" stroke-width="0.3" stroke-linejoin="round"/>
<path d="M285.9 68.6 L286.2 67.7 L286.5 67.0 L286.9 66.3 L292.7 66.7 L292.4 67.3 L292.0 68.1 L291.7 69.0 Z" fill="#ee8a12" stroke="#ee8a12" stroke-width="0.3" stroke-linejoin="round"/>
<path d="M286.9 66.3 L287.2 65.9 L287.4 65.7 L287.7 65.6 L293.5 66.0 L293.3 66.0 L293.0 66.3 L292.7 66.7 Z" fill="#a85b0a" stroke="#a85b0a" stroke-width="0.3" stroke-linejoin="round"/>
<path d="M291.4 75.8 L291.7 75.7 L292.0 75.4 L292.4 74.8 L297.5 75.7 L297.1 76.3 L296.7 76.6 L296.4 76.6 Z" fill="#a85b0a" stroke="#a85b0a" stroke-width="0.3" stroke-linejoin="round"/>
<path d="M292.4 74.8 L292.8 73.9 L293.2 72.9 L293.6 71.8 L299.2 73.0 L298.6 74.0 L298.0 75.0 L297.5 75.7 Z" fill="#ee8a12" stroke="#ee8a12" stroke-width="0.3" stroke-linejoin="round"/>
<path d="M293.6 71.8 L293.9 70.9 L294.3 70.1 L294.7 69.3 L300.5 70.5 L300.0 71.3 L299.6 72.1 L299.2 73.0 Z" fill="#f0982e" stroke="#f0982e" stroke-width="0.3" stroke-linejoin="round"/>
<path d="M294.7 69.3 L295.2 68.4 L295.7 67.7 L296.1 67.1 L301.8 68.4 L301.4 69.0 L300.9 69.7 L300.5 70.5 Z" fill="#ee8a12" stroke="#ee8a12" stroke-width="0.3" stroke-linejoin="round"/>
<path d="M296.1 67.1 L296.4 66.8 L296.7 66.6 L297.0 66.5 L302.7 67.8 L302.5 67.9 L302.2 68.1 L301.8 68.4 Z" fill="#a85b0a" stroke="#a85b0a" stroke-width="0.3" stroke-linejoin="round"/>
</g>
<g opacity="1">
<ellipse cx="284.5" cy="88.6" rx="4.6" ry="4.4" fill="none" stroke="#6e3403" stroke-width="3.4"/>
<ellipse cx="284.5" cy="88.6" rx="4.6" ry="4.4" fill="none" stroke="#d9780c" stroke-width="1.18"/>
<ellipse cx="287.7" cy="88.6" rx="4.6" ry="4.4" fill="none" stroke="#6e3403" stroke-width="3.4"/>
<ellipse cx="287.7" cy="88.6" rx="4.6" ry="4.4" fill="none" stroke="#d9780c" stroke-width="1.18"/>
<ellipse cx="290.9" cy="88.6" rx="4.6" ry="4.4" fill="none" stroke="#6e3403" stroke-width="3.4"/>
<ellipse cx="290.9" cy="88.6" rx="4.6" ry="4.4" fill="none" stroke="#d9780c" stroke-width="1.18"/>
</g>
<g opacity="1">
<ellipse cx="288.4" cy="102.8" rx="4.6" ry="4.4" fill="none" stroke="#6e3403" stroke-width="3.4"/>
<ellipse cx="288.4" cy="102.8" rx="4.6" ry="4.4" fill="none" stroke="#d9780c" stroke-width="1.18"/>
<ellipse cx="291.6" cy="102.8" rx="4.6" ry="4.4" fill="none" stroke="#6e3403" stroke-width="3.4"/>
<ellipse cx="291.6" cy="102.8" rx="4.6" ry="4.4" fill="none" stroke="#d9780c" stroke-width="1.18"/>
<ellipse cx="294.8" cy="102.8" rx="4.6" ry="4.4" fill="none" stroke="#6e3403" stroke-width="3.4"/>
<ellipse cx="294.8" cy="102.8" rx="4.6" ry="4.4" fill="none" stroke="#d9780c" stroke-width="1.18"/>
</g>
<g opacity="1">
<ellipse cx="286.7" cy="119.6" rx="4.4" ry="4.4" fill="none" stroke="#6e3403" stroke-width="3.4"/>
<ellipse cx="286.7" cy="119.6" rx="4.4" ry="4.4" fill="none" stroke="#d9780c" stroke-width="1.18"/>
<ellipse cx="290.1" cy="119.6" rx="4.4" ry="4.4" fill="none" stroke="#6e3403" stroke-width="3.4"/>
<ellipse cx="290.1" cy="119.6" rx="4.4" ry="4.4" fill="none" stroke="#d9780c" stroke-width="1.18"/>
</g>
<g opacity="1">
<ellipse cx="283.0" cy="135.1" rx="4.4" ry="4.4" fill="none" stroke="#6e3403" stroke-width="3.4"/>
<ellipse cx="283.0" cy="135.1" rx="4.4" ry="4.4" fill="none" stroke="#d9780c" stroke-width="1.18"/>
<ellipse cx="286.4" cy="135.5" rx="4.4" ry="4.4" fill="none" stroke="#6e3403" stroke-width="3.4"/>
<ellipse cx="286.4" cy="135.5" rx="4.4" ry="4.4" fill="none" stroke="#d9780c" stroke-width="1.18"/>
</g>
<g opacity="1">
<path d="M304.0 67.1 L303.8 68.0 L302.6 69.4 L300.8 71.1 L299.0 72.8 L297.8 74.2 L297.6 75.0 L300.1 79.6 L300.4 78.7 L301.6 77.3 L303.3 75.6 L305.1 73.9 L306.3 72.5 L306.6 71.6 Z" fill="#612e03" stroke="#612e03" stroke-width="0.3" stroke-linejoin="round"/>
<path d="M307.7 73.8 L307.5 74.6 L306.3 76.0 L304.5 77.7 L302.8 79.4 L301.5 80.8 L301.3 81.7 L303.8 86.2 L304.1 85.4 L305.3 84.0 L307.0 82.3 L308.8 80.6 L310.0 79.2 L310.3 78.3 Z" fill="#612e03" stroke="#612e03" stroke-width="0.3" stroke-linejoin="round"/>
<path d="M311.4 80.4 L311.2 81.3 L310.0 82.7 L308.1 84.4 L305.9 85.5 L304.3 86.5 L303.8 87.3 L304.8 92.3 L305.3 91.6 L306.9 90.6 L309.1 89.5 L311.3 88.4 L312.9 87.5 L313.4 86.7 Z" fill="#612e03" stroke="#612e03" stroke-width="0.3" stroke-linejoin="round"/>
<path d="M313.9 89.1 L313.4 89.9 L311.8 90.8 L309.6 91.9 L307.4 93.0 L305.8 94.0 L305.3 94.7 L305.5 99.2 L306.1 98.5 L307.8 97.8 L310.2 97.1 L312.5 96.3 L314.2 95.6 L314.8 94.9 Z" fill="#612e03" stroke="#612e03" stroke-width="0.3" stroke-linejoin="round"/>
<path d="M314.9 97.4 L314.3 98.0 L312.6 98.8 L310.3 99.5 L307.9 100.3 L306.2 101.0 L305.6 101.6 L305.9 106.8 L306.5 106.2 L308.2 105.4 L310.5 104.7 L312.9 103.9 L314.6 103.2 L315.2 102.5 Z" fill="#612e03" stroke="#612e03" stroke-width="0.3" stroke-linejoin="round"/>
<path d="M297.6 75.0 L297.8 75.2 L298.3 75.3 L298.9 75.2 L301.5 79.8 L300.8 79.8 L300.4 79.8 L300.1 79.6 Z" fill="#a85b0a" stroke="#a85b0a" stroke-width="0.3" stroke-linejoin="round"/>
<path d="M298.9 75.2 L299.8 75.1 L300.8 74.9 L301.9 74.6 L304.4 79.1 L303.3 79.4 L302.3 79.6 L301.5 79.8 Z" fill="#ee8a12" stroke="#ee8a12" stroke-width="0.3" stroke-linejoin="round"/>
<path d="M301.9 74.6 L302.8 74.4 L303.6 74.2 L304.4 74.0 L306.9 78.5 L306.1 78.7 L305.3 78.9 L304.4 79.1 Z" fill="#f0982e" stroke="#f0982e" stroke-width="0.3" stroke-linejoin="round"/>
<path d="M304.4 74.0 L305.3 73.7 L306.1 73.6 L306.8 73.5 L309.3 78.1 L308.6 78.1 L307.8 78.3 L306.9 78.5 Z" fill="#ee8a12" stroke="#ee8a12" stroke-width="0.3" stroke-linejoin="round"/>
<path d="M306.8 73.5 L307.2 73.5 L307.6 73.6 L307.7 73.8 L310.3 78.3 L310.1 78.1 L309.7 78.1 L309.3 78.1 Z" fill="#a85b0a" stroke="#a85b0a" stroke-width="0.3" stroke-linejoin="round"/>
<path d="M301.3 81.7 L301.5 81.9 L302.0 82.0 L302.7 81.9 L304.6 85.5 L303.9 85.3 L303.5 85.1 L303.8 86.2 Z" fill="#a85b0a" stroke="#a85b0a" stroke-width="0.3" stroke-linejoin="round"/>
<path d="M302.7 81.9 L303.5 81.8 L304.5 81.5 L305.6 81.3 L307.6 85.8 L306.5 85.7 L305.4 85.6 L304.6 85.5 Z" fill="#ee8a12" stroke="#ee8a12" stroke-width="0.3" stroke-linejoin="round"/>
<path d="M305.6 81.3 L306.5 81.0 L307.3 80.8 L308.1 80.6 L310.2 85.9 L309.3 85.8 L308.5 85.8 L307.6 85.8 Z" fill="#f0982e" stroke="#f0982e" stroke-width="0.3" stroke-linejoin="round"/>
<path d="M308.1 80.6 L309.0 80.4 L309.8 80.3 L310.5 80.2 L312.5 86.2 L311.9 86.1 L311.1 86.0 L310.2 85.9 Z" fill="#ee8a12" stroke="#ee8a12" stroke-width="0.3" stroke-linejoin="round"/>
<path d="M310.5 80.2 L310.9 80.2 L311.3 80.3 L311.4 80.4 L313.4 86.7 L313.3 86.5 L313.0 86.3 L312.5 86.2 Z" fill="#a85b0a" stroke="#a85b0a" stroke-width="0.3" stroke-linejoin="round"/>
<path d="M303.8 87.3 L304.0 87.5 L304.4 87.7 L305.0 87.9 L306.1 92.9 L305.4 92.8 L305.0 92.6 L304.8 92.3 Z" fill="#a85b0a" stroke="#a85b0a" stroke-width="0.3" stroke-linejoin="round"/>
<path d="M305.0 87.9 L305.9 88.0 L306.9 88.1 L308.1 88.1 L309.1 93.2 L308.0 93.2 L306.9 93.1 L306.1 92.9 Z" fill="#ee8a12" stroke="#ee8a12" stroke-width="0.3" stroke-linejoin="round"/>
<path d="M308.1 88.1 L308.9 88.2 L309.8 88.2 L310.6 88.3 L311.7 93.4 L310.8 93.3 L310.0 93.3 L309.1 93.2 Z" fill="#f0982e" stroke="#f0982e" stroke-width="0.3" stroke-linejoin="round"/>
<path d="M310.6 88.3 L311.6 88.4 L312.4 88.5 L313.0 88.6 L314.0 94.3 L313.4 94.1 L312.6 93.5 L311.7 93.4 Z" fill="#ee8a12" stroke="#ee8a12" stroke-width="0.3" stroke-linejoin="round"/>
<path d="M313.0 88.6 L313.5 88.7 L313.7 88.9 L313.9 89.1 L314.8 94.9 L314.7 94.7 L314.4 94.5 L314.0 94.3 Z" fill="#a85b0a" stroke="#a85b0a" stroke-width="0.3" stroke-linejoin="round"/>
<path d="M305.3 94.7 L305.4 94.3 L305.8 94.6 L306.4 94.8 L306.6 100.0 L306.0 99.7 L305.6 99.5 L305.5 99.2 Z" fill="#a85b0a" stroke="#a85b0a" stroke-width="0.3" stroke-linejoin="round"/>
<path d="M306.4 94.8 L307.2 95.1 L308.2 95.3 L309.3 95.5 L309.6 100.7 L308.5 100.5 L307.5 100.2 L306.6 100.0 Z" fill="#ee8a12" stroke="#ee8a12" stroke-width="0.3" stroke-linejoin="round"/>
<path d="M309.3 95.5 L310.2 95.7 L311.0 95.9 L311.9 96.1 L312.1 101.2 L311.3 101.1 L310.4 100.9 L309.6 100.7 Z" fill="#f0982e" stroke="#f0982e" stroke-width="0.3" stroke-linejoin="round"/>
<path d="M311.9 96.1 L312.7 96.3 L313.5 96.5 L314.2 96.7 L314.4 101.9 L313.8 101.7 L313.0 101.5 L312.1 101.2 Z" fill="#ee8a12" stroke="#ee8a12" stroke-width="0.3" stroke-linejoin="round"/>
<path d="M314.2 96.7 L314.6 96.9 L314.8 97.1 L314.9 97.4 L315.2 102.5 L315.1 102.3 L314.8 102.1 L314.4 101.9 Z" fill="#a85b0a" stroke="#a85b0a" stroke-width="0.3" stroke-linejoin="round"/>
</g>
<g opacity="1">
<path d="M315.6 107.1 L314.9 107.5 L313.0 107.7 L310.6 107.7 L308.1 107.8 L306.3 107.9 L305.5 108.4 L304.3 113.3 L305.0 112.9 L306.9 112.7 L309.3 112.7 L311.8 112.6 L313.6 112.4 L314.4 112.0 Z" fill="#612e03" stroke="#612e03" stroke-width="0.3" stroke-linejoin="round"/>
<path d="M313.8 114.3 L313.1 114.8 L311.2 114.9 L308.8 115.0 L306.3 115.0 L304.5 115.2 L303.7 115.6 L302.5 120.5 L303.2 120.1 L305.1 119.9 L307.5 119.9 L310.0 119.8 L311.8 119.7 L312.6 119.2 Z" fill="#612e03" stroke="#612e03" stroke-width="0.3" stroke-linejoin="round"/>
<path d="M312.0 121.5 L311.2 122.0 L309.4 122.2 L307.0 122.2 L304.5 122.3 L302.7 122.6 L301.9 123.0 L300.9 128.0 L301.6 127.5 L303.5 127.3 L305.9 127.1 L308.4 127.0 L310.2 126.8 L311.0 126.3 Z" fill="#612e03" stroke="#612e03" stroke-width="0.3" stroke-linejoin="round"/>
<path d="M310.5 128.6 L309.7 129.1 L307.9 129.4 L305.4 129.5 L303.0 129.6 L301.2 129.8 L300.4 130.3 L299.2 133.7 L300.1 133.5 L301.9 133.8 L304.3 134.4 L306.9 134.3 L308.7 134.1 L309.4 133.6 Z" fill="#612e03" stroke="#612e03" stroke-width="0.3" stroke-linejoin="round"/>
<path d="M308.2 137.1 L307.3 137.4 L305.5 137.1 L303.1 136.5 L300.8 135.9 L298.9 135.6 L298.1 135.8 L295.6 140.2 L296.5 140.0 L298.3 140.3 L300.7 140.9 L303.0 141.5 L304.9 141.8 L305.7 141.6 Z" fill="#612e03" stroke="#612e03" stroke-width="0.3" stroke-linejoin="round"/>
<path d="M304.6 143.7 L303.7 143.9 L301.9 143.6 L299.5 143.0 L297.3 141.9 L295.6 141.2 L294.7 141.2 L291.4 145.0 L292.3 145.0 L294.0 145.6 L296.2 146.8 L298.3 147.9 L300.1 148.6 L300.9 148.5 Z" fill="#612e03" stroke="#612e03" stroke-width="0.3" stroke-linejoin="round"/>
<path d="M299.4 150.3 L298.5 150.3 L296.8 149.7 L294.6 148.5 L292.4 147.4 L290.7 146.7 L289.8 146.8 L287.0 149.3 L287.8 149.5 L289.3 150.6 L291.1 152.2 L293.4 153.4 L295.1 154.1 L296.0 154.1 Z" fill="#612e03" stroke="#612e03" stroke-width="0.3" stroke-linejoin="round"/>
<path d="M293.3 156.5 L292.5 156.3 L291.0 155.2 L289.2 153.6 L287.3 151.9 L285.8 150.8 L285.0 150.6 L280.8 153.5 L281.6 153.6 L283.1 154.7 L284.9 156.4 L286.8 158.0 L288.3 159.1 L289.1 159.3 Z" fill="#612e03" stroke="#612e03" stroke-width="0.3" stroke-linejoin="round"/>
<path d="M305.5 108.4 L305.6 108.7 L305.9 109.0 L306.4 109.5 L305.1 114.4 L304.6 114.0 L304.3 113.6 L304.3 113.3 Z" fill="#a85b0a" stroke="#a85b0a" stroke-width="0.3" stroke-linejoin="round"/>
<path d="M306.4 109.5 L307.1 109.9 L308.0 110.4 L309.0 111.0 L307.8 115.9 L306.8 115.4 L305.9 114.8 L305.1 114.4 Z" fill="#ee8a12" stroke="#ee8a12" stroke-width="0.3" stroke-linejoin="round"/>
<path d="M309.0 111.0 L309.8 111.4 L310.5 111.8 L311.3 112.2 L310.0 117.1 L309.3 116.7 L308.5 116.3 L307.8 115.9 Z" fill="#f0982e" stroke="#f0982e" stroke-width="0.3" stroke-linejoin="round"/>
<path d="M311.3 112.2 L312.0 112.7 L312.7 113.1 L313.3 113.5 L312.0 118.4 L311.5 118.0 L310.8 117.6 L310.0 117.1 Z" fill="#ee8a12" stroke="#ee8a12" stroke-width="0.3" stroke-linejoin="round"/>
<path d="M313.3 113.5 L313.6 113.8 L313.8 114.1 L313.8 114.3 L312.6 119.2 L312.6 119.0 L312.4 118.7 L312.0 118.4 Z" fill="#a85b0a" stroke="#a85b0a" stroke-width="0.3" stroke-linejoin="round"/>
<path d="M303.7 115.6 L303.8 115.9 L304.0 116.3 L304.6 116.7 L303.3 121.7 L302.8 121.3 L302.5 120.8 L302.5 120.5 Z" fill="#a85b0a" stroke="#a85b0a" stroke-width="0.3" stroke-linejoin="round"/>
<path d="M304.6 116.7 L305.3 117.2 L306.2 117.7 L307.2 118.2 L306.0 123.2 L305.0 122.7 L304.1 122.2 L303.3 121.7 Z" fill="#ee8a12" stroke="#ee8a12" stroke-width="0.3" stroke-linejoin="round"/>
<path d="M307.2 118.2 L307.9 118.6 L308.7 119.0 L309.4 119.4 L308.3 124.3 L307.6 123.9 L306.8 123.5 L306.0 123.2 Z" fill="#f0982e" stroke="#f0982e" stroke-width="0.3" stroke-linejoin="round"/>
<path d="M309.4 119.4 L310.2 119.9 L310.9 120.3 L311.5 120.7 L310.4 125.5 L309.8 125.1 L309.1 124.7 L308.3 124.3 Z" fill="#ee8a12" stroke="#ee8a12" stroke-width="0.3" stroke-linejoin="round"/>
<path d="M311.5 120.7 L311.8 121.0 L312.0 121.3 L312.0 121.5 L311.0 126.3 L310.9 126.1 L310.7 125.8 L310.4 125.5 Z" fill="#a85b0a" stroke="#a85b0a" stroke-width="0.3" stroke-linejoin="round"/>
<path d="M301.9 123.0 L302.0 123.3 L302.3 123.7 L302.8 124.1 L301.8 129.0 L301.3 128.6 L301.0 128.3 L300.9 128.0 Z" fill="#a85b0a" stroke="#a85b0a" stroke-width="0.3" stroke-linejoin="round"/>
<path d="M302.8 124.1 L303.6 124.5 L304.5 125.0 L305.5 125.5 L304.5 130.5 L303.5 129.9 L302.6 129.5 L301.8 129.0 Z" fill="#ee8a12" stroke="#ee8a12" stroke-width="0.3" stroke-linejoin="round"/>
<path d="M305.5 125.5 L306.3 125.9 L307.1 126.3 L307.8 126.6 L306.8 131.6 L306.0 131.2 L305.3 130.8 L304.5 130.5 Z" fill="#f0982e" stroke="#f0982e" stroke-width="0.3" stroke-linejoin="round"/>
<path d="M307.8 126.6 L308.6 127.0 L309.3 127.4 L309.9 127.8 L308.9 132.8 L308.3 132.4 L307.6 132.0 L306.8 131.6 Z" fill="#ee8a12" stroke="#ee8a12" stroke-width="0.3" stroke-linejoin="round"/>
<path d="M309.9 127.8 L310.2 128.1 L310.4 128.4 L310.5 128.6 L309.4 133.6 L309.4 133.3 L309.2 133.1 L308.9 132.8 Z" fill="#a85b0a" stroke="#a85b0a" stroke-width="0.3" stroke-linejoin="round"/>
<path d="M300.4 130.3 L300.5 130.6 L300.8 131.0 L301.3 131.4 L299.8 134.9 L299.4 134.4 L299.2 134.0 L299.2 133.7 Z" fill="#a85b0a" stroke="#a85b0a" stroke-width="0.3" stroke-linejoin="round"/>
<path d="M301.3 131.4 L302.1 131.8 L303.0 132.3 L304.0 132.8 L301.9 137.1 L301.1 136.3 L300.4 135.6 L299.8 134.9 Z" fill="#ee8a12" stroke="#ee8a12" stroke-width="0.3" stroke-linejoin="round"/>
<path d="M304.0 132.8 L304.8 133.2 L305.6 133.5 L306.3 133.9 L303.8 138.9 L303.2 138.3 L302.6 137.7 L301.9 137.1 Z" fill="#f0982e" stroke="#f0982e" stroke-width="0.3" stroke-linejoin="round"/>
<path d="M306.3 133.9 L307.1 134.3 L307.4 135.7 L307.9 136.2 L305.4 140.6 L305.0 140.1 L304.4 139.5 L303.8 138.9 Z" fill="#ee8a12" stroke="#ee8a12" stroke-width="0.3" stroke-linejoin="round"/>
<path d="M307.9 136.2 L308.1 136.6 L308.2 136.9 L308.2 137.1 L305.7 141.6 L305.8 141.3 L305.7 141.0 L305.4 140.6 Z" fill="#a85b0a" stroke="#a85b0a" stroke-width="0.3" stroke-linejoin="round"/>
<path d="M298.1 135.8 L298.1 136.1 L298.2 136.5 L298.6 137.0 L296.6 140.8 L295.8 140.9 L295.6 140.5 L295.6 140.2 Z" fill="#a85b0a" stroke="#a85b0a" stroke-width="0.3" stroke-linejoin="round"/>
<path d="M298.6 137.0 L299.2 137.7 L299.9 138.4 L300.8 139.2 L298.2 143.3 L297.6 142.4 L297.0 141.5 L296.6 140.8 Z" fill="#ee8a12" stroke="#ee8a12" stroke-width="0.3" stroke-linejoin="round"/>
<path d="M300.8 139.2 L301.4 139.8 L302.0 140.4 L302.6 141.0 L299.6 145.5 L299.2 144.8 L298.7 144.1 L298.2 143.3 Z" fill="#f0982e" stroke="#f0982e" stroke-width="0.3" stroke-linejoin="round"/>
<path d="M302.6 141.0 L303.3 141.6 L303.8 142.2 L304.2 142.7 L300.8 147.5 L300.5 146.9 L300.1 146.2 L299.6 145.5 Z" fill="#ee8a12" stroke="#ee8a12" stroke-width="0.3" stroke-linejoin="round"/>
<path d="M304.2 142.7 L304.5 143.1 L304.6 143.4 L304.6 143.7 L300.9 148.5 L301.0 148.3 L301.0 148.0 L300.8 147.5 Z" fill="#a85b0a" stroke="#a85b0a" stroke-width="0.3" stroke-linejoin="round"/>
<path d="M294.7 141.2 L294.6 141.5 L294.7 142.0 L295.0 142.5 L291.6 146.3 L291.4 145.7 L291.3 145.3 L291.4 145.0 Z" fill="#a85b0a" stroke="#a85b0a" stroke-width="0.3" stroke-linejoin="round"/>
<path d="M295.0 142.5 L295.4 143.3 L296.0 144.2 L296.6 145.1 L293.3 148.9 L292.6 148.0 L292.1 147.1 L291.6 146.3 Z" fill="#ee8a12" stroke="#ee8a12" stroke-width="0.3" stroke-linejoin="round"/>
<path d="M296.6 145.1 L297.1 145.8 L297.6 146.6 L298.1 147.3 L294.7 151.0 L294.2 150.3 L293.7 149.6 L293.3 148.9 Z" fill="#f0982e" stroke="#f0982e" stroke-width="0.3" stroke-linejoin="round"/>
<path d="M298.1 147.3 L298.5 148.0 L299.0 148.7 L299.3 149.3 L295.9 153.1 L295.6 152.5 L295.2 151.8 L294.7 151.0 Z" fill="#ee8a12" stroke="#ee8a12" stroke-width="0.3" stroke-linejoin="round"/>
<path d="M299.3 149.3 L299.4 149.8 L299.4 150.1 L299.4 150.3 L296.0 154.1 L296.1 153.9 L296.0 153.5 L295.9 153.1 Z" fill="#a85b0a" stroke="#a85b0a" stroke-width="0.3" stroke-linejoin="round"/>
<path d="M289.8 146.8 L289.7 147.1 L289.8 147.5 L290.1 148.1 L286.9 150.7 L286.8 150.0 L286.8 149.6 L287.0 149.3 Z" fill="#a85b0a" stroke="#a85b0a" stroke-width="0.3" stroke-linejoin="round"/>
<path d="M290.1 148.1 L290.5 148.9 L291.0 149.7 L291.7 150.7 L287.8 153.6 L287.4 152.5 L287.1 151.5 L286.9 150.7 Z" fill="#ee8a12" stroke="#ee8a12" stroke-width="0.3" stroke-linejoin="round"/>
<path d="M291.7 150.7 L292.2 151.4 L292.6 152.1 L293.1 152.8 L288.6 156.0 L288.4 155.2 L288.1 154.4 L287.8 153.6 Z" fill="#f0982e" stroke="#f0982e" stroke-width="0.3" stroke-linejoin="round"/>
<path d="M293.1 152.8 L293.6 153.6 L293.3 154.8 L293.5 155.5 L289.3 158.3 L289.1 157.7 L288.9 156.9 L288.6 156.0 Z" fill="#ee8a12" stroke="#ee8a12" stroke-width="0.3" stroke-linejoin="round"/>
<path d="M293.5 155.5 L293.5 156.0 L293.5 156.3 L293.3 156.5 L289.1 159.3 L289.3 159.1 L289.3 158.8 L289.3 158.3 Z" fill="#a85b0a" stroke="#a85b0a" stroke-width="0.3" stroke-linejoin="round"/>
</g>
<path d="M310.5 104.0 C311.1 104.1 313.2 105.0 314.0 104.5 C314.8 104.0 315.2 101.6 315.4 101.0" fill="none" stroke="#d9780c" stroke-width="1.0" stroke-linecap="round" opacity="1"/>
<path d="M310.5 104.0 C310.6 104.7 311.2 106.7 311.0 108.0 C310.8 109.3 309.8 111.3 309.5 112.0" fill="none" stroke="#d9780c" stroke-width="1.0" stroke-linecap="round" opacity="1"/>
<g opacity="1">
<path d="M249.5 102.1 L249.9 102.9 L250.0 104.7 L250.1 107.1 L250.1 109.6 L250.3 111.4 L250.7 112.1 L255.2 113.1 L254.8 112.4 L254.6 110.6 L254.6 108.1 L254.6 105.7 L254.4 103.9 L254.0 103.1 Z" fill="#612e03" stroke="#612e03" stroke-width="0.3" stroke-linejoin="round"/>
<path d="M256.1 103.6 L256.5 104.3 L256.7 106.2 L256.7 108.6 L256.8 111.0 L256.9 112.9 L257.4 113.6 L261.9 114.6 L261.4 113.9 L261.3 112.0 L261.2 109.6 L261.2 107.2 L261.0 105.3 L260.6 104.6 Z" fill="#612e03" stroke="#612e03" stroke-width="0.3" stroke-linejoin="round"/>
<path d="M262.7 105.1 L263.1 105.8 L263.3 107.6 L263.3 110.2 L262.8 112.5 L262.5 114.4 L262.7 115.2 L266.9 117.2 L266.6 116.4 L266.9 114.6 L267.5 112.2 L268.0 109.9 L268.3 108.0 L268.1 107.2 Z" fill="#612e03" stroke="#612e03" stroke-width="0.3" stroke-linejoin="round"/>
<path d="M270.0 108.2 L270.2 109.0 L270.0 110.8 L269.4 113.2 L268.9 115.6 L268.6 117.4 L268.8 118.2 L272.9 120.3 L272.7 119.5 L273.0 117.7 L273.5 115.3 L274.1 112.9 L274.4 111.1 L274.2 110.3 Z" fill="#612e03" stroke="#612e03" stroke-width="0.3" stroke-linejoin="round"/>
<path d="M250.7 112.1 L251.0 112.1 L251.3 111.8 L251.7 111.2 L256.2 112.2 L255.8 112.8 L255.5 113.1 L255.2 113.1 Z" fill="#a85b0a" stroke="#a85b0a" stroke-width="0.3" stroke-linejoin="round"/>
<path d="M251.7 111.2 L252.1 110.5 L252.6 109.6 L253.1 108.6 L257.6 109.6 L257.1 110.6 L256.6 111.5 L256.2 112.2 Z" fill="#ee8a12" stroke="#ee8a12" stroke-width="0.3" stroke-linejoin="round"/>
<path d="M253.1 108.6 L253.4 107.8 L253.8 107.0 L254.2 106.2 L258.7 107.3 L258.3 108.0 L258.0 108.8 L257.6 109.6 Z" fill="#f0982e" stroke="#f0982e" stroke-width="0.3" stroke-linejoin="round"/>
<path d="M254.2 106.2 L254.6 105.4 L255.0 104.7 L255.3 104.2 L259.8 105.2 L259.5 105.7 L259.1 106.4 L258.7 107.3 Z" fill="#ee8a12" stroke="#ee8a12" stroke-width="0.3" stroke-linejoin="round"/>
<path d="M255.3 104.2 L255.6 103.8 L255.9 103.6 L256.1 103.6 L260.6 104.6 L260.4 104.6 L260.1 104.8 L259.8 105.2 Z" fill="#a85b0a" stroke="#a85b0a" stroke-width="0.3" stroke-linejoin="round"/>
<path d="M257.4 113.6 L257.6 113.5 L257.9 113.2 L258.3 112.7 L261.9 113.6 L261.4 114.0 L261.1 114.2 L261.9 114.6 Z" fill="#a85b0a" stroke="#a85b0a" stroke-width="0.3" stroke-linejoin="round"/>
<path d="M258.3 112.7 L258.8 112.0 L259.2 111.0 L259.7 110.0 L263.9 111.3 L263.2 112.2 L262.5 112.9 L261.9 113.6 Z" fill="#ee8a12" stroke="#ee8a12" stroke-width="0.3" stroke-linejoin="round"/>
<path d="M259.7 110.0 L260.1 109.3 L260.5 108.5 L260.8 107.7 L265.6 109.3 L265.0 110.0 L264.5 110.6 L263.9 111.3 Z" fill="#f0982e" stroke="#f0982e" stroke-width="0.3" stroke-linejoin="round"/>
<path d="M260.8 107.7 L261.2 106.9 L261.6 106.2 L262.0 105.7 L267.2 107.6 L266.7 108.1 L266.2 108.6 L265.6 109.3 Z" fill="#ee8a12" stroke="#ee8a12" stroke-width="0.3" stroke-linejoin="round"/>
<path d="M262.0 105.7 L262.3 105.3 L262.5 105.1 L262.7 105.1 L268.1 107.2 L267.8 107.2 L267.6 107.3 L267.2 107.6 Z" fill="#a85b0a" stroke="#a85b0a" stroke-width="0.3" stroke-linejoin="round"/>
<path d="M262.7 115.2 L263.0 115.2 L263.4 115.0 L263.9 114.5 L268.0 116.6 L267.5 117.0 L267.1 117.2 L266.9 117.2 Z" fill="#a85b0a" stroke="#a85b0a" stroke-width="0.3" stroke-linejoin="round"/>
<path d="M263.9 114.5 L264.5 113.9 L265.2 113.1 L265.9 112.3 L270.0 114.3 L269.3 115.2 L268.6 116.0 L268.0 116.6 Z" fill="#ee8a12" stroke="#ee8a12" stroke-width="0.3" stroke-linejoin="round"/>
<path d="M265.9 112.3 L266.4 111.6 L267.0 110.9 L267.5 110.3 L271.7 112.4 L271.1 113.0 L270.6 113.7 L270.0 114.3 Z" fill="#f0982e" stroke="#f0982e" stroke-width="0.3" stroke-linejoin="round"/>
<path d="M267.5 110.3 L268.1 109.6 L268.7 109.0 L269.1 108.6 L273.3 110.7 L272.8 111.1 L272.2 111.7 L271.7 112.4 Z" fill="#ee8a12" stroke="#ee8a12" stroke-width="0.3" stroke-linejoin="round"/>
<path d="M269.1 108.6 L269.5 108.3 L269.8 108.2 L270.0 108.2 L274.2 110.3 L273.9 110.2 L273.6 110.4 L273.3 110.7 Z" fill="#a85b0a" stroke="#a85b0a" stroke-width="0.3" stroke-linejoin="round"/>
</g>
<g opacity="1">
<path d="M252.0 114.0 C253.0 116.0 256.0 122.0 258.0 126.0 C260.0 130.0 263.0 136.0 264.0 138.0" fill="none" stroke="#6e3403" stroke-width="4.2" stroke-linecap="butt"/>
<path d="M252.0 114.0 C253.0 116.0 256.0 122.0 258.0 126.0 C260.0 130.0 263.0 136.0 264.0 138.0" fill="none" stroke="#d9780c" stroke-width="2.9" stroke-linecap="butt"/>
<path d="M266.1 142.1 L260.4 139.8 L267.6 136.2 Z" fill="#d9780c" stroke="#6e3403" stroke-width="0.6"/>
</g>
<g opacity="1">
<path d="M257.0 113.0 C258.0 114.8 261.0 120.3 263.0 124.0 C265.0 127.7 268.0 133.2 269.0 135.0" fill="none" stroke="#6e3403" stroke-width="4.2" stroke-linecap="butt"/>
<path d="M257.0 113.0 C258.0 114.8 261.0 120.3 263.0 124.0 C265.0 127.7 268.0 133.2 269.0 135.0" fill="none" stroke="#d9780c" stroke-width="2.9" stroke-linecap="butt"/>
<path d="M271.2 139.1 L265.5 136.9 L272.5 133.1 Z" fill="#d9780c" stroke="#6e3403" stroke-width="0.6"/>
</g>
<g opacity="1">
<path d="M262.0 112.0 C263.0 113.7 266.0 118.7 268.0 122.0 C270.0 125.3 273.0 130.3 274.0 132.0" fill="none" stroke="#6e3403" stroke-width="4.2" stroke-linecap="butt"/>
<path d="M262.0 112.0 C263.0 113.7 266.0 118.7 268.0 122.0 C270.0 125.3 273.0 130.3 274.0 132.0" fill="none" stroke="#d9780c" stroke-width="2.9" stroke-linecap="butt"/>
<path d="M276.4 136.0 L270.6 134.1 L277.4 129.9 Z" fill="#d9780c" stroke="#6e3403" stroke-width="0.6"/>
</g>
<g opacity="1">
<ellipse cx="262.1" cy="144.0" rx="4.2" ry="4.0" fill="none" stroke="#6e3403" stroke-width="3.4"/>
<ellipse cx="262.1" cy="144.0" rx="4.2" ry="4.0" fill="none" stroke="#ee8a12" stroke-width="1.18"/>
<ellipse cx="265.5" cy="145.0" rx="4.2" ry="4.0" fill="none" stroke="#6e3403" stroke-width="3.4"/>
<ellipse cx="265.5" cy="145.0" rx="4.2" ry="4.0" fill="none" stroke="#ee8a12" stroke-width="1.18"/>
<ellipse cx="268.9" cy="146.0" rx="4.2" ry="4.0" fill="none" stroke="#6e3403" stroke-width="3.4"/>
<ellipse cx="268.9" cy="146.0" rx="4.2" ry="4.0" fill="none" stroke="#ee8a12" stroke-width="1.18"/>
</g>
<g opacity="1">
<ellipse cx="273.5" cy="149.5" rx="4.0" ry="3.8" fill="none" stroke="#6e3403" stroke-width="3.4"/>
<ellipse cx="273.5" cy="149.5" rx="4.0" ry="3.8" fill="none" stroke="#ee8a12" stroke-width="1.18"/>
<ellipse cx="276.5" cy="150.5" rx="4.0" ry="3.8" fill="none" stroke="#6e3403" stroke-width="3.4"/>
<ellipse cx="276.5" cy="150.5" rx="4.0" ry="3.8" fill="none" stroke="#ee8a12" stroke-width="1.18"/>
</g>
<g opacity="1">
<path d="M260.1 127.6 L260.2 128.3 L259.7 129.8 L259.0 131.7 L258.2 133.7 L257.8 135.1 L257.9 135.9 L261.3 138.5 L261.2 137.8 L261.7 136.3 L262.5 134.3 L263.2 132.4 L263.7 130.9 L263.6 130.2 Z" fill="#612e03" stroke="#612e03" stroke-width="0.3" stroke-linejoin="round"/>
<path d="M265.2 131.4 L265.3 132.2 L264.9 133.7 L264.1 135.6 L263.3 137.5 L262.9 139.0 L263.0 139.7 L266.5 142.4 L266.4 141.6 L266.8 140.1 L267.6 138.2 L268.4 136.3 L268.8 134.8 L268.7 134.0 Z" fill="#612e03" stroke="#612e03" stroke-width="0.3" stroke-linejoin="round"/>
<path d="M270.3 135.3 L270.5 136.0 L270.0 137.5 L269.2 139.4 L268.5 141.3 L267.8 142.7 L267.9 143.5 L271.2 146.3 L271.1 145.5 L271.7 144.1 L272.6 142.2 L273.5 140.3 L274.0 138.9 L274.0 138.1 Z" fill="#612e03" stroke="#612e03" stroke-width="0.3" stroke-linejoin="round"/>
<path d="M275.5 139.5 L275.6 140.2 L275.0 141.7 L274.1 143.5 L273.2 145.4 L272.7 146.9 L272.7 147.6 L276.1 150.5 L276.0 149.7 L276.5 148.2 L277.4 146.4 L278.3 144.5 L278.9 143.1 L278.8 142.3 Z" fill="#612e03" stroke="#612e03" stroke-width="0.3" stroke-linejoin="round"/>
<path d="M257.9 135.9 L258.1 135.9 L258.5 135.8 L259.0 135.6 L262.5 138.2 L262.0 138.5 L261.6 138.6 L261.3 138.5 Z" fill="#a85b0a" stroke="#a85b0a" stroke-width="0.3" stroke-linejoin="round"/>
<path d="M259.0 135.6 L259.6 135.2 L260.3 134.7 L261.0 134.1 L264.5 136.7 L263.8 137.3 L263.1 137.8 L262.5 138.2 Z" fill="#ee8a12" stroke="#ee8a12" stroke-width="0.3" stroke-linejoin="round"/>
<path d="M261.0 134.1 L261.6 133.6 L262.2 133.1 L262.7 132.7 L266.2 135.3 L265.7 135.8 L265.1 136.2 L264.5 136.7 Z" fill="#f0982e" stroke="#f0982e" stroke-width="0.3" stroke-linejoin="round"/>
<path d="M262.7 132.7 L263.3 132.2 L263.9 131.9 L264.4 131.6 L267.9 134.2 L267.4 134.5 L266.8 134.9 L266.2 135.3 Z" fill="#ee8a12" stroke="#ee8a12" stroke-width="0.3" stroke-linejoin="round"/>
<path d="M264.4 131.6 L264.7 131.4 L265.0 131.4 L265.2 131.4 L268.7 134.0 L268.5 134.0 L268.2 134.0 L267.9 134.2 Z" fill="#a85b0a" stroke="#a85b0a" stroke-width="0.3" stroke-linejoin="round"/>
<path d="M263.0 139.7 L263.2 139.8 L263.6 139.7 L264.1 139.4 L267.6 142.0 L267.1 142.3 L266.7 142.4 L266.5 142.4 Z" fill="#a85b0a" stroke="#a85b0a" stroke-width="0.3" stroke-linejoin="round"/>
<path d="M264.1 139.4 L264.7 139.0 L265.4 138.5 L266.2 137.9 L269.6 140.5 L268.9 141.1 L268.2 141.6 L267.6 142.0 Z" fill="#ee8a12" stroke="#ee8a12" stroke-width="0.3" stroke-linejoin="round"/>
<path d="M266.2 137.9 L266.7 137.4 L267.3 137.0 L267.9 136.6 L271.4 139.3 L270.8 139.7 L270.2 140.1 L269.6 140.5 Z" fill="#f0982e" stroke="#f0982e" stroke-width="0.3" stroke-linejoin="round"/>
<path d="M267.9 136.6 L268.5 136.1 L269.0 135.7 L269.5 135.4 L273.1 138.2 L272.6 138.5 L272.0 138.8 L271.4 139.3 Z" fill="#ee8a12" stroke="#ee8a12" stroke-width="0.3" stroke-linejoin="round"/>
<path d="M269.5 135.4 L269.9 135.3 L270.1 135.2 L270.3 135.3 L274.0 138.1 L273.8 138.1 L273.5 138.1 L273.1 138.2 Z" fill="#a85b0a" stroke="#a85b0a" stroke-width="0.3" stroke-linejoin="round"/>
<path d="M267.9 143.5 L268.1 143.5 L268.5 143.4 L269.0 143.2 L272.3 146.0 L271.8 146.3 L271.4 146.4 L271.2 146.3 Z" fill="#a85b0a" stroke="#a85b0a" stroke-width="0.3" stroke-linejoin="round"/>
<path d="M269.0 143.2 L269.7 142.8 L270.4 142.4 L271.2 141.8 L274.5 144.7 L273.7 145.2 L273.0 145.7 L272.3 146.0 Z" fill="#ee8a12" stroke="#ee8a12" stroke-width="0.3" stroke-linejoin="round"/>
<path d="M271.2 141.8 L271.8 141.4 L272.4 141.0 L272.9 140.6 L276.3 143.4 L275.7 143.8 L275.1 144.2 L274.5 144.7 Z" fill="#f0982e" stroke="#f0982e" stroke-width="0.3" stroke-linejoin="round"/>
<path d="M272.9 140.6 L273.6 140.2 L274.2 139.8 L274.7 139.6 L278.0 142.4 L277.5 142.6 L276.9 143.0 L276.3 143.4 Z" fill="#ee8a12" stroke="#ee8a12" stroke-width="0.3" stroke-linejoin="round"/>
<path d="M274.7 139.6 L275.0 139.4 L275.3 139.4 L275.5 139.5 L278.8 142.3 L278.6 142.2 L278.4 142.3 L278.0 142.4 Z" fill="#a85b0a" stroke="#a85b0a" stroke-width="0.3" stroke-linejoin="round"/>
</g>
<path d="M246.0 150.0 C247.0 151.0 249.3 154.7 252.0 156.0 C254.7 157.3 258.7 158.0 262.0 158.0 C265.3 158.0 269.0 155.7 272.0 156.0 C275.0 156.3 277.3 159.7 280.0 160.0 C282.7 160.3 286.7 158.3 288.0 158.0" fill="none" stroke="#d9780c" stroke-width="0.9" stroke-linecap="round" opacity="1"/>
<path d="M250.0 140.0 C249.5 141.3 246.7 145.8 247.0 148.0 C247.3 150.2 251.2 152.2 252.0 153.0" fill="none" stroke="#d9780c" stroke-width="0.9" stroke-linecap="round" opacity="1"/>
<path d="M275.0 158.0 C276.0 159.0 280.3 161.7 281.0 164.0 C281.7 166.3 280.2 170.0 279.0 172.0 C277.8 174.0 274.8 175.3 274.0 176.0" fill="none" stroke="#d9780c" stroke-width="0.9" stroke-linecap="round" opacity="1"/>
<g opacity="1">
<path d="M267.7 162.2 L267.7 162.8 L267.0 163.9 L266.1 165.3 L265.1 166.6 L264.5 167.7 L264.4 168.3 L266.6 170.9 L266.7 170.3 L267.3 169.2 L268.3 167.8 L269.3 166.5 L269.9 165.4 L269.9 164.8 Z" fill="#612e03" stroke="#612e03" stroke-width="0.3" stroke-linejoin="round"/>
<path d="M271.0 166.0 L270.9 166.6 L270.3 167.7 L269.3 169.1 L268.4 170.4 L267.7 171.5 L267.7 172.1 L269.5 174.6 L269.6 174.0 L270.4 173.0 L271.5 171.7 L272.6 170.5 L273.4 169.5 L273.2 168.6 Z" fill="#612e03" stroke="#612e03" stroke-width="0.3" stroke-linejoin="round"/>
<path d="M274.4 170.2 L274.2 170.8 L273.5 171.8 L272.4 173.0 L271.2 174.3 L270.5 175.3 L270.4 175.9 L272.2 178.7 L272.4 178.1 L273.1 177.1 L274.3 175.9 L275.4 174.6 L276.1 173.6 L276.3 173.0 Z" fill="#612e03" stroke="#612e03" stroke-width="0.3" stroke-linejoin="round"/>
<path d="M264.4 168.3 L264.6 168.4 L264.9 168.4 L265.3 168.3 L267.6 170.8 L267.1 171.0 L266.8 171.0 L266.6 170.9 Z" fill="#a85b0a" stroke="#a85b0a" stroke-width="0.3" stroke-linejoin="round"/>
<path d="M265.3 168.3 L265.9 168.0 L266.5 167.7 L267.2 167.4 L269.5 170.0 L268.8 170.3 L268.1 170.6 L267.6 170.8 Z" fill="#ee8a12" stroke="#ee8a12" stroke-width="0.3" stroke-linejoin="round"/>
<path d="M267.2 167.4 L267.8 167.1 L268.3 166.9 L268.8 166.6 L271.0 169.2 L270.5 169.4 L270.0 169.7 L269.5 170.0 Z" fill="#f0982e" stroke="#f0982e" stroke-width="0.3" stroke-linejoin="round"/>
<path d="M268.8 166.6 L269.4 166.3 L269.9 166.1 L270.3 166.0 L272.5 168.6 L272.1 168.7 L271.6 168.9 L271.0 169.2 Z" fill="#ee8a12" stroke="#ee8a12" stroke-width="0.3" stroke-linejoin="round"/>
<path d="M270.3 166.0 L270.6 165.9 L270.8 165.9 L271.0 166.0 L273.2 168.6 L273.1 168.5 L272.8 168.5 L272.5 168.6 Z" fill="#a85b0a" stroke="#a85b0a" stroke-width="0.3" stroke-linejoin="round"/>
<path d="M267.7 172.1 L267.9 172.2 L268.2 172.2 L268.6 172.1 L270.4 174.6 L269.9 174.7 L269.6 174.7 L269.5 174.6 Z" fill="#a85b0a" stroke="#a85b0a" stroke-width="0.3" stroke-linejoin="round"/>
<path d="M268.6 172.1 L269.2 171.8 L269.8 171.5 L270.5 171.2 L272.4 174.0 L271.6 174.2 L271.0 174.4 L270.4 174.6 Z" fill="#ee8a12" stroke="#ee8a12" stroke-width="0.3" stroke-linejoin="round"/>
<path d="M270.5 171.2 L271.0 170.9 L271.6 170.7 L272.1 170.5 L274.0 173.4 L273.5 173.6 L272.9 173.8 L272.4 174.0 Z" fill="#f0982e" stroke="#f0982e" stroke-width="0.3" stroke-linejoin="round"/>
<path d="M272.1 170.5 L272.7 170.3 L273.3 170.2 L273.7 170.1 L275.6 172.9 L275.1 173.0 L274.6 173.2 L274.0 173.4 Z" fill="#ee8a12" stroke="#ee8a12" stroke-width="0.3" stroke-linejoin="round"/>
<path d="M273.7 170.1 L274.0 170.1 L274.2 170.1 L274.4 170.2 L276.3 173.0 L276.1 172.9 L275.9 172.9 L275.6 172.9 Z" fill="#a85b0a" stroke="#a85b0a" stroke-width="0.3" stroke-linejoin="round"/>
</g>
<path d="M276.0 118.0 C277.0 119.3 281.5 123.3 282.0 126.0 C282.5 128.7 278.7 131.3 279.0 134.0 C279.3 136.7 283.2 140.7 284.0 142.0" fill="none" stroke="#d9780c" stroke-width="0.9" stroke-linecap="round" opacity="1"/>
<path d="M272.0 96.0 C273.0 96.7 276.7 98.0 278.0 100.0 C279.3 102.0 280.2 105.7 280.0 108.0 C279.8 110.3 277.5 113.0 277.0 114.0" fill="none" stroke="#d9780c" stroke-width="0.9" stroke-linecap="round" opacity="1"/>
<path d="M279.0 62.0 C279.7 62.7 282.7 64.3 283.0 66.0 C283.3 67.7 280.8 70.0 281.0 72.0 C281.2 74.0 283.5 77.0 284.0 78.0" fill="none" stroke="#d9780c" stroke-width="0.9" stroke-linecap="round" opacity="1"/>
<path d="M270.0 84.0 C271.0 85.0 275.3 87.7 276.0 90.0 C276.7 92.3 274.3 96.7 274.0 98.0" fill="none" stroke="#d9780c" stroke-width="0.9" stroke-linecap="round" opacity="1"/>
<path d="M246.0 134.0 C246.7 135.3 249.7 139.3 250.0 142.0 C250.3 144.7 247.3 148.0 248.0 150.0 C248.7 152.0 252.0 153.7 254.0 154.0 C256.0 154.3 259.0 152.3 260.0 152.0" fill="none" stroke="#d9780c" stroke-width="0.9" stroke-linecap="round" opacity="1"/>
<path d="M262.0 126.0 C263.3 126.3 267.3 128.0 270.0 128.0 C272.7 128.0 275.7 126.0 278.0 126.0 C280.3 126.0 283.0 127.7 284.0 128.0" fill="none" stroke="#d9780c" stroke-width="0.8" stroke-linecap="round" opacity="1"/>
<path d="M268.0 142.0 C269.3 141.3 273.7 138.0 276.0 138.0 C278.3 138.0 281.3 140.3 282.0 142.0 C282.7 143.7 280.3 147.0 280.0 148.0" fill="none" stroke="#d9780c" stroke-width="0.8" stroke-linecap="round" opacity="1"/>
<path d="M296.0 110.0 C296.7 110.7 299.7 112.3 300.0 114.0 C300.3 115.7 297.7 118.0 298.0 120.0 C298.3 122.0 301.3 125.0 302.0 126.0" fill="none" stroke="#d9780c" stroke-width="0.8" stroke-linecap="round" opacity="1"/>
<path d="M277.0 100.0 C277.8 99.3 280.8 97.7 282.0 96.0 C283.2 94.3 283.7 91.0 284.0 90.0" fill="none" stroke="#d9780c" stroke-width="0.8" stroke-linecap="round" opacity="1"/>
<g opacity="0.85">
<path d="M198.9 93.8 L199.2 94.5 L199.0 95.7 L198.7 97.3 L198.3 98.8 L198.2 100.1 L198.4 100.7 L202.3 103.3 L202.0 102.6 L202.1 101.4 L202.5 99.8 L202.9 98.3 L203.0 97.0 L202.8 96.4 Z" fill="#d3b69e" stroke="#d3b69e" stroke-width="0.3" stroke-linejoin="round"/>
<path d="M204.6 97.6 L204.8 98.3 L204.7 99.5 L204.3 101.0 L204.0 102.6 L203.6 103.7 L203.8 104.4 L207.4 107.3 L207.2 106.6 L207.5 105.4 L208.0 103.9 L208.5 102.4 L208.7 101.1 L208.5 100.5 Z" fill="#d3b69e" stroke="#d3b69e" stroke-width="0.3" stroke-linejoin="round"/>
<path d="M198.4 100.7 L198.7 100.8 L199.0 100.7 L199.4 100.6 L203.3 103.1 L202.9 103.3 L202.5 103.4 L202.3 103.3 Z" fill="#f4d8c1" stroke="#f4d8c1" stroke-width="0.3" stroke-linejoin="round"/>
<path d="M199.4 100.6 L199.9 100.3 L200.5 99.9 L201.1 99.5 L204.9 102.0 L204.3 102.5 L203.8 102.8 L203.3 103.1 Z" fill="#f8e2d0" stroke="#f8e2d0" stroke-width="0.3" stroke-linejoin="round"/>
<path d="M201.1 99.5 L201.5 99.1 L202.0 98.8 L202.4 98.5 L206.3 101.1 L205.9 101.4 L205.4 101.7 L204.9 102.0 Z" fill="#f9e5d6" stroke="#f9e5d6" stroke-width="0.3" stroke-linejoin="round"/>
<path d="M202.4 98.5 L202.9 98.1 L203.4 97.9 L203.8 97.7 L207.8 100.5 L207.3 100.6 L206.9 100.9 L206.3 101.1 Z" fill="#f8e2d0" stroke="#f8e2d0" stroke-width="0.3" stroke-linejoin="round"/>
<path d="M203.8 97.7 L204.1 97.6 L204.4 97.5 L204.6 97.6 L208.5 100.5 L208.3 100.4 L208.1 100.4 L207.8 100.5 Z" fill="#f4d8c1" stroke="#f4d8c1" stroke-width="0.3" stroke-linejoin="round"/>
</g>
<path d="M208.0 104.0 C209.0 104.3 212.2 106.2 214.0 106.0 C215.8 105.8 217.7 102.7 219.0 103.0 C220.3 103.3 221.5 107.2 222.0 108.0" fill="none" stroke="#d8c8b8" stroke-width="0.8" stroke-linecap="round" opacity="1"/>
<g opacity="1">
<path d="M210.3 107.5 L210.4 108.3 L209.8 110.1 L208.9 112.3 L208.0 114.6 L207.4 116.3 L207.5 117.1 L211.1 119.6 L211.0 118.8 L211.6 117.1 L212.5 114.8 L213.4 112.6 L214.0 110.8 L213.9 110.0 Z" fill="#096e09" stroke="#096e09" stroke-width="0.3" stroke-linejoin="round"/>
<path d="M215.6 111.2 L215.6 112.0 L215.1 113.8 L214.2 116.0 L213.2 118.3 L212.7 120.0 L212.8 120.8 L216.3 123.3 L216.2 122.5 L216.8 120.8 L217.8 118.5 L218.7 116.3 L219.2 114.5 L219.2 113.7 Z" fill="#096e09" stroke="#096e09" stroke-width="0.3" stroke-linejoin="round"/>
<path d="M220.9 115.0 L221.0 115.8 L220.4 117.5 L219.4 119.8 L218.5 122.0 L217.9 123.7 L217.9 124.6 L221.5 127.1 L221.4 126.3 L222.0 124.6 L223.0 122.3 L223.9 120.1 L224.5 118.4 L224.5 117.6 Z" fill="#096e09" stroke="#096e09" stroke-width="0.3" stroke-linejoin="round"/>
<path d="M207.5 117.1 L207.7 117.2 L208.2 117.0 L208.7 116.6 L212.3 119.2 L211.7 119.5 L211.3 119.7 L211.1 119.6 Z" fill="#0e9d0e" stroke="#0e9d0e" stroke-width="0.3" stroke-linejoin="round"/>
<path d="M208.7 116.6 L209.4 116.1 L210.1 115.4 L211.0 114.7 L214.6 117.2 L213.7 118.0 L213.0 118.6 L212.3 119.2 Z" fill="#14c414" stroke="#14c414" stroke-width="0.3" stroke-linejoin="round"/>
<path d="M211.0 114.7 L211.6 114.1 L212.2 113.5 L212.8 113.0 L216.4 115.5 L215.8 116.0 L215.2 116.6 L214.6 117.2 Z" fill="#30cb30" stroke="#30cb30" stroke-width="0.3" stroke-linejoin="round"/>
<path d="M212.8 113.0 L213.5 112.4 L214.1 111.9 L214.7 111.5 L218.3 114.0 L217.7 114.4 L217.1 114.9 L216.4 115.5 Z" fill="#14c414" stroke="#14c414" stroke-width="0.3" stroke-linejoin="round"/>
<path d="M214.7 111.5 L215.1 111.3 L215.4 111.2 L215.6 111.2 L219.2 113.7 L219.0 113.7 L218.7 113.8 L218.3 114.0 Z" fill="#0e9d0e" stroke="#0e9d0e" stroke-width="0.3" stroke-linejoin="round"/>
<path d="M212.8 120.8 L213.0 120.9 L213.4 120.7 L214.0 120.3 L217.5 122.9 L216.9 123.2 L216.5 123.4 L216.3 123.3 Z" fill="#0e9d0e" stroke="#0e9d0e" stroke-width="0.3" stroke-linejoin="round"/>
<path d="M214.0 120.3 L214.6 119.8 L215.4 119.1 L216.3 118.4 L219.8 121.0 L218.9 121.7 L218.2 122.3 L217.5 122.9 Z" fill="#14c414" stroke="#14c414" stroke-width="0.3" stroke-linejoin="round"/>
<path d="M216.3 118.4 L216.9 117.8 L217.5 117.2 L218.2 116.7 L221.7 119.3 L221.1 119.8 L220.4 120.4 L219.8 121.0 Z" fill="#30cb30" stroke="#30cb30" stroke-width="0.3" stroke-linejoin="round"/>
<path d="M218.2 116.7 L218.8 116.1 L219.5 115.6 L220.0 115.2 L223.6 117.8 L223.0 118.2 L222.4 118.7 L221.7 119.3 Z" fill="#14c414" stroke="#14c414" stroke-width="0.3" stroke-linejoin="round"/>
<path d="M220.0 115.2 L220.4 115.0 L220.7 114.9 L220.9 115.0 L224.5 117.6 L224.3 117.5 L223.9 117.6 L223.6 117.8 Z" fill="#0e9d0e" stroke="#0e9d0e" stroke-width="0.3" stroke-linejoin="round"/>
</g>
<g opacity="1">
<path d="M195.8 128.8 L196.9 129.0 L198.4 130.2 L200.2 132.0 L202.0 133.7 L203.5 134.9 L204.6 135.1 L210.7 132.0 L209.6 131.8 L208.1 130.6 L206.3 128.9 L204.5 127.1 L203.0 126.0 L201.9 125.8 Z" fill="#096e09" stroke="#096e09" stroke-width="0.3" stroke-linejoin="round"/>
<path d="M204.8 124.3 L205.9 124.5 L207.4 125.7 L209.2 127.5 L211.0 129.2 L212.5 130.4 L213.6 130.6 L219.7 127.5 L218.6 127.3 L217.1 126.1 L215.3 124.4 L213.5 122.6 L212.0 121.5 L210.9 121.3 Z" fill="#096e09" stroke="#096e09" stroke-width="0.3" stroke-linejoin="round"/>
<path d="M204.6 135.1 L204.8 134.8 L205.0 134.3 L205.1 133.6 L211.2 130.5 L211.1 131.2 L211.0 131.7 L210.7 132.0 Z" fill="#0e9d0e" stroke="#0e9d0e" stroke-width="0.3" stroke-linejoin="round"/>
<path d="M205.1 133.6 L205.0 132.7 L204.9 131.6 L204.8 130.5 L210.9 127.4 L211.1 128.6 L211.2 129.6 L211.2 130.5 Z" fill="#14c414" stroke="#14c414" stroke-width="0.3" stroke-linejoin="round"/>
<path d="M204.8 130.5 L204.7 129.6 L204.6 128.7 L204.4 127.9 L210.6 124.8 L210.7 125.7 L210.8 126.5 L210.9 127.4 Z" fill="#30cb30" stroke="#30cb30" stroke-width="0.3" stroke-linejoin="round"/>
<path d="M204.4 127.9 L204.4 126.9 L204.3 126.1 L204.3 125.4 L210.5 122.3 L210.4 123.0 L210.5 123.9 L210.6 124.8 Z" fill="#14c414" stroke="#14c414" stroke-width="0.3" stroke-linejoin="round"/>
<path d="M204.3 125.4 L204.4 124.9 L204.6 124.5 L204.8 124.3 L210.9 121.3 L210.7 121.5 L210.5 121.8 L210.5 122.3 Z" fill="#0e9d0e" stroke="#0e9d0e" stroke-width="0.3" stroke-linejoin="round"/>
</g>
<path d="M223.0 121.0 C223.8 121.8 227.3 124.0 228.0 126.0 C228.7 128.0 227.2 131.8 227.0 133.0" fill="none" stroke="#14c414" stroke-width="1" stroke-linecap="round" opacity="1"/>
<g opacity="1">
<path d="M223.3 125.9 L223.6 126.5 L223.4 127.7 L223.1 129.2 L222.7 130.8 L222.5 132.0 L222.8 132.6 L226.2 134.6 L225.9 134.0 L226.1 132.8 L226.4 131.3 L226.8 129.7 L227.0 128.5 L226.7 127.9 Z" fill="#096e09" stroke="#096e09" stroke-width="0.3" stroke-linejoin="round"/>
<path d="M228.3 128.9 L228.6 129.5 L228.4 130.7 L228.1 132.2 L227.7 133.8 L227.5 135.0 L227.8 135.6 L231.2 137.6 L230.9 137.0 L231.1 135.8 L231.4 134.3 L231.8 132.7 L232.0 131.5 L231.7 130.9 Z" fill="#096e09" stroke="#096e09" stroke-width="0.3" stroke-linejoin="round"/>
<path d="M222.8 132.6 L223.0 132.6 L223.3 132.5 L223.7 132.3 L227.1 134.3 L226.7 134.5 L226.4 134.6 L226.2 134.6 Z" fill="#0e9d0e" stroke="#0e9d0e" stroke-width="0.3" stroke-linejoin="round"/>
<path d="M223.7 132.3 L224.1 132.0 L224.6 131.5 L225.2 131.1 L228.6 133.1 L228.0 133.6 L227.5 134.0 L227.1 134.3 Z" fill="#14c414" stroke="#14c414" stroke-width="0.3" stroke-linejoin="round"/>
<path d="M225.2 131.1 L225.6 130.7 L226.0 130.3 L226.4 130.0 L229.8 132.0 L229.4 132.4 L229.0 132.7 L228.6 133.1 Z" fill="#30cb30" stroke="#30cb30" stroke-width="0.3" stroke-linejoin="round"/>
<path d="M226.4 130.0 L226.9 129.6 L227.3 129.3 L227.7 129.0 L231.1 131.1 L230.7 131.3 L230.3 131.6 L229.8 132.0 Z" fill="#14c414" stroke="#14c414" stroke-width="0.3" stroke-linejoin="round"/>
<path d="M227.7 129.0 L227.9 128.9 L228.2 128.9 L228.3 128.9 L231.7 130.9 L231.6 130.9 L231.3 130.9 L231.1 131.1 Z" fill="#0e9d0e" stroke="#0e9d0e" stroke-width="0.3" stroke-linejoin="round"/>
</g>
<g opacity="1">
<path d="M214.0 136.5 C214.8 137.2 217.3 139.1 219.0 140.5 C220.7 141.9 223.2 144.2 224.0 145.0" fill="none" stroke="#0a7d0a" stroke-width="3.8" stroke-linecap="butt"/>
<path d="M214.0 136.5 C214.8 137.2 217.3 139.1 219.0 140.5 C220.7 141.9 223.2 144.2 224.0 145.0" fill="none" stroke="#10a510" stroke-width="2.5" stroke-linecap="butt"/>
<path d="M227.1 147.8 L221.6 147.7 L226.4 142.3 Z" fill="#10a510" stroke="#0a7d0a" stroke-width="0.6"/>
</g>
<path d="M200.0 133.0 C200.7 134.2 203.7 137.7 204.0 140.0 C204.3 142.3 201.7 144.8 202.0 147.0 C202.3 149.2 204.3 152.5 206.0 153.0 C207.7 153.5 210.2 149.8 212.0 150.0 C213.8 150.2 215.3 152.3 217.0 154.0 C218.7 155.7 219.8 158.7 222.0 160.0 C224.2 161.3 227.3 162.0 230.0 162.0 C232.7 162.0 236.7 160.3 238.0 160.0" fill="none" stroke="#1fe01f" stroke-width="0.9" stroke-linecap="round" opacity="1"/>
<path d="M206.0 138.0 C207.0 138.7 211.3 140.3 212.0 142.0 C212.7 143.7 210.3 147.0 210.0 148.0" fill="none" stroke="#1fe01f" stroke-width="0.8" stroke-linecap="round" opacity="1"/>
<g opacity="1">
<path d="M220.1 146.1 L220.3 146.8 L220.1 148.3 L219.7 150.3 L219.3 152.4 L219.1 153.9 L219.3 154.6 L223.1 156.5 L222.9 155.8 L223.1 154.3 L223.5 152.3 L223.9 150.2 L224.1 148.7 L223.9 148.0 Z" fill="#096e09" stroke="#096e09" stroke-width="0.3" stroke-linejoin="round"/>
<path d="M225.7 148.9 L225.9 149.6 L225.7 151.1 L225.3 153.1 L224.9 155.2 L224.7 156.7 L224.9 157.4 L228.4 159.3 L228.2 158.6 L228.5 157.0 L229.1 155.1 L229.5 153.0 L229.7 151.5 L229.5 150.8 Z" fill="#096e09" stroke="#096e09" stroke-width="0.3" stroke-linejoin="round"/>
<path d="M231.5 151.9 L231.7 152.6 L231.4 154.1 L230.8 156.1 L230.2 158.1 L229.9 159.6 L230.1 160.3 L233.8 162.5 L233.6 161.8 L233.9 160.3 L234.5 158.3 L235.1 156.3 L235.4 154.8 L235.2 154.1 Z" fill="#096e09" stroke="#096e09" stroke-width="0.3" stroke-linejoin="round"/>
<path d="M219.3 154.6 L219.6 154.6 L219.9 154.5 L220.3 154.1 L224.1 156.0 L223.7 156.4 L223.4 156.5 L223.1 156.5 Z" fill="#0e9d0e" stroke="#0e9d0e" stroke-width="0.3" stroke-linejoin="round"/>
<path d="M220.3 154.1 L220.9 153.6 L221.4 153.0 L222.1 152.2 L225.9 154.1 L225.3 154.9 L224.7 155.5 L224.1 156.0 Z" fill="#14c414" stroke="#14c414" stroke-width="0.3" stroke-linejoin="round"/>
<path d="M222.1 152.2 L222.6 151.7 L223.0 151.1 L223.5 150.6 L227.3 152.5 L226.8 153.0 L226.4 153.6 L225.9 154.1 Z" fill="#30cb30" stroke="#30cb30" stroke-width="0.3" stroke-linejoin="round"/>
<path d="M223.5 150.6 L224.0 150.0 L224.5 149.5 L224.9 149.2 L228.7 151.1 L228.3 151.5 L227.8 151.9 L227.3 152.5 Z" fill="#14c414" stroke="#14c414" stroke-width="0.3" stroke-linejoin="round"/>
<path d="M224.9 149.2 L225.2 149.0 L225.5 148.9 L225.7 148.9 L229.5 150.8 L229.3 150.8 L229.0 150.9 L228.7 151.1 Z" fill="#0e9d0e" stroke="#0e9d0e" stroke-width="0.3" stroke-linejoin="round"/>
<path d="M224.9 157.4 L225.2 157.4 L225.5 157.3 L225.9 156.9 L229.5 158.9 L229.0 159.2 L228.6 159.3 L228.4 159.3 Z" fill="#0e9d0e" stroke="#0e9d0e" stroke-width="0.3" stroke-linejoin="round"/>
<path d="M225.9 156.9 L226.5 156.4 L227.1 155.8 L227.7 155.0 L231.3 157.1 L230.7 157.8 L230.0 158.4 L229.5 158.9 Z" fill="#14c414" stroke="#14c414" stroke-width="0.3" stroke-linejoin="round"/>
<path d="M227.7 155.0 L228.2 154.5 L228.6 153.9 L229.1 153.4 L232.9 155.6 L232.4 156.1 L231.9 156.6 L231.3 157.1 Z" fill="#30cb30" stroke="#30cb30" stroke-width="0.3" stroke-linejoin="round"/>
<path d="M229.1 153.4 L229.6 152.8 L230.1 152.4 L230.7 152.1 L234.4 154.3 L233.9 154.6 L233.4 155.1 L232.9 155.6 Z" fill="#14c414" stroke="#14c414" stroke-width="0.3" stroke-linejoin="round"/>
<path d="M230.7 152.1 L231.1 151.9 L231.3 151.8 L231.5 151.9 L235.2 154.1 L235.0 154.0 L234.7 154.1 L234.4 154.3 Z" fill="#0e9d0e" stroke="#0e9d0e" stroke-width="0.3" stroke-linejoin="round"/>
</g>
<path d="M234.0 158.0 C235.0 158.8 239.3 161.0 240.0 163.0 C240.7 165.0 239.2 167.8 238.0 170.0 C236.8 172.2 233.5 173.7 233.0 176.0 C232.5 178.3 234.7 182.7 235.0 184.0" fill="none" stroke="#1fe01f" stroke-width="0.9" stroke-linecap="round" opacity="1"/>
<path d="M226.0 160.0 C227.0 161.3 231.7 165.7 232.0 168.0 C232.3 170.3 228.7 173.0 228.0 174.0" fill="none" stroke="#1fe01f" stroke-width="0.8" stroke-linecap="round" opacity="1"/>
<path d="M207.0 155.0 C206.3 155.6 204.2 158.2 203.0 158.5 C201.8 158.8 201.0 156.4 200.0 157.0 C199.0 157.6 198.1 161.3 197.0 162.0 C195.9 162.7 194.7 160.3 193.5 161.0 C192.3 161.7 191.2 165.2 190.0 166.0 C188.8 166.8 187.7 164.5 186.5 165.5 C185.3 166.5 183.6 170.9 183.0 172.0" fill="none" stroke="#c3dde2" stroke-width="1.3" stroke-linecap="round" opacity="1"/>
<g opacity="1">
<path d="M255.7 160.4 L255.4 161.0 L254.3 162.1 L252.7 163.3 L251.1 164.6 L249.9 165.6 L249.7 166.3 L251.2 169.3 L251.5 168.7 L252.6 167.7 L254.2 166.4 L255.8 165.1 L256.9 164.1 L257.2 163.5 Z" fill="#096e09" stroke="#096e09" stroke-width="0.3" stroke-linejoin="round"/>
<path d="M257.9 164.9 L257.6 165.5 L256.5 166.6 L254.9 167.8 L253.3 169.1 L252.2 170.1 L251.9 170.8 L253.4 173.8 L253.7 173.2 L254.9 172.2 L256.5 170.9 L258.1 169.6 L259.2 168.6 L259.5 168.0 Z" fill="#096e09" stroke="#096e09" stroke-width="0.3" stroke-linejoin="round"/>
<path d="M260.2 169.4 L259.9 170.0 L258.8 171.1 L257.2 172.3 L255.6 173.6 L254.4 174.6 L254.2 175.3 L255.7 178.3 L256.0 177.7 L257.1 176.7 L258.7 175.4 L260.3 174.1 L261.4 173.1 L261.7 172.5 Z" fill="#096e09" stroke="#096e09" stroke-width="0.3" stroke-linejoin="round"/>
<path d="M249.7 166.3 L249.8 166.4 L250.2 166.4 L250.7 166.3 L252.3 169.4 L251.7 169.5 L251.4 169.4 L251.2 169.3 Z" fill="#0e9d0e" stroke="#0e9d0e" stroke-width="0.3" stroke-linejoin="round"/>
<path d="M250.7 166.3 L251.4 166.2 L252.3 166.0 L253.2 165.8 L254.7 168.8 L253.8 169.1 L253.0 169.3 L252.3 169.4 Z" fill="#14c414" stroke="#14c414" stroke-width="0.3" stroke-linejoin="round"/>
<path d="M253.2 165.8 L253.9 165.6 L254.6 165.4 L255.2 165.2 L256.8 168.3 L256.1 168.4 L255.4 168.6 L254.7 168.8 Z" fill="#30cb30" stroke="#30cb30" stroke-width="0.3" stroke-linejoin="round"/>
<path d="M255.2 165.2 L256.0 165.0 L256.6 164.9 L257.2 164.8 L258.7 167.9 L258.2 167.9 L257.5 168.1 L256.8 168.3 Z" fill="#14c414" stroke="#14c414" stroke-width="0.3" stroke-linejoin="round"/>
<path d="M257.2 164.8 L257.6 164.8 L257.8 164.8 L257.9 164.9 L259.5 168.0 L259.3 167.9 L259.1 167.8 L258.7 167.9 Z" fill="#0e9d0e" stroke="#0e9d0e" stroke-width="0.3" stroke-linejoin="round"/>
<path d="M251.9 170.8 L252.1 170.9 L252.4 170.9 L253.0 170.8 L254.5 173.9 L254.0 174.0 L253.6 173.9 L253.4 173.8 Z" fill="#0e9d0e" stroke="#0e9d0e" stroke-width="0.3" stroke-linejoin="round"/>
<path d="M253.0 170.8 L253.7 170.7 L254.5 170.5 L255.4 170.3 L257.0 173.3 L256.0 173.6 L255.2 173.8 L254.5 173.9 Z" fill="#14c414" stroke="#14c414" stroke-width="0.3" stroke-linejoin="round"/>
<path d="M255.4 170.3 L256.1 170.1 L256.8 169.9 L257.5 169.7 L259.0 172.8 L258.4 172.9 L257.7 173.1 L257.0 173.3 Z" fill="#30cb30" stroke="#30cb30" stroke-width="0.3" stroke-linejoin="round"/>
<path d="M257.5 169.7 L258.2 169.5 L258.9 169.4 L259.4 169.3 L261.0 172.4 L260.4 172.4 L259.8 172.6 L259.0 172.8 Z" fill="#14c414" stroke="#14c414" stroke-width="0.3" stroke-linejoin="round"/>
<path d="M259.4 169.3 L259.8 169.3 L260.1 169.3 L260.2 169.4 L261.7 172.5 L261.6 172.4 L261.3 172.3 L261.0 172.4 Z" fill="#0e9d0e" stroke="#0e9d0e" stroke-width="0.3" stroke-linejoin="round"/>
</g>
<g opacity="1">
<path d="M266.0 186.0 C263.7 185.5 256.7 184.1 252.0 183.0 C247.3 181.9 240.3 180.1 238.0 179.5" fill="none" stroke="#0a7d0a" stroke-width="5.2" stroke-linecap="butt"/>
<path d="M266.0 186.0 C263.7 185.5 256.7 184.1 252.0 183.0 C247.3 181.9 240.3 180.1 238.0 179.5" fill="none" stroke="#1fe01f" stroke-width="3.9" stroke-linecap="butt"/>
<path d="M232.5 178.1 L239.2 174.7 L236.8 184.3 Z" fill="#1fe01f" stroke="#0a7d0a" stroke-width="0.6"/>
</g>
<g opacity="1">
<path d="M267.0 191.5 C264.7 191.0 257.5 189.5 253.0 188.5 C248.5 187.5 242.2 186.0 240.0 185.5" fill="none" stroke="#0a7d0a" stroke-width="5.2" stroke-linecap="butt"/>
<path d="M267.0 191.5 C264.7 191.0 257.5 189.5 253.0 188.5 C248.5 187.5 242.2 186.0 240.0 185.5" fill="none" stroke="#1fe01f" stroke-width="3.9" stroke-linecap="butt"/>
<path d="M234.4 184.2 L241.1 180.7 L238.9 190.3 Z" fill="#1fe01f" stroke="#0a7d0a" stroke-width="0.6"/>
</g>
<g opacity="1">
<path d="M262.0 181.0 C259.8 180.4 253.0 178.6 249.0 177.5 C245.0 176.4 239.8 175.0 238.0 174.5" fill="none" stroke="#0a7d0a" stroke-width="5.2" stroke-linecap="butt"/>
<path d="M262.0 181.0 C259.8 180.4 253.0 178.6 249.0 177.5 C245.0 176.4 239.8 175.0 238.0 174.5" fill="none" stroke="#1fe01f" stroke-width="3.9" stroke-linecap="butt"/>
<path d="M232.5 173.0 L239.3 169.7 L236.7 179.3 Z" fill="#1fe01f" stroke="#0a7d0a" stroke-width="0.6"/>
</g>
<g opacity="1">
<path d="M258.0 176.5 C256.3 176.0 250.8 174.3 248.0 173.5 C245.2 172.7 242.2 171.8 241.0 171.5" fill="none" stroke="#0a7d0a" stroke-width="5.2" stroke-linecap="butt"/>
<path d="M258.0 176.5 C256.3 176.0 250.8 174.3 248.0 173.5 C245.2 172.7 242.2 171.8 241.0 171.5" fill="none" stroke="#1fe01f" stroke-width="3.9" stroke-linecap="butt"/>
<path d="M235.5 169.9 L242.4 166.8 L239.6 176.2 Z" fill="#1fe01f" stroke="#0a7d0a" stroke-width="0.6"/>
</g>
<g opacity="1">
<path d="M234.0 185.3 L234.2 186.2 L233.8 188.0 L233.1 190.2 L232.3 192.4 L231.9 194.2 L232.1 195.0 L236.7 198.3 L236.4 197.4 L236.8 195.7 L237.6 193.4 L238.4 191.2 L238.8 189.5 L238.5 188.6 Z" fill="#096e09" stroke="#096e09" stroke-width="0.3" stroke-linejoin="round"/>
<path d="M240.7 190.1 L240.9 191.0 L240.5 192.7 L239.7 195.0 L239.0 197.2 L238.6 198.9 L238.8 199.8 L243.0 203.0 L242.8 202.1 L243.3 200.4 L244.3 198.2 L245.0 196.0 L245.4 194.2 L245.2 193.3 Z" fill="#096e09" stroke="#096e09" stroke-width="0.3" stroke-linejoin="round"/>
<path d="M247.6 195.1 L247.7 196.0 L247.2 197.7 L246.3 199.9 L245.4 202.1 L244.8 203.8 L245.0 204.7 L249.3 208.2 L249.1 207.3 L249.7 205.6 L250.6 203.5 L251.5 201.3 L252.0 199.6 L251.9 198.7 Z" fill="#096e09" stroke="#096e09" stroke-width="0.3" stroke-linejoin="round"/>
<path d="M232.1 195.0 L232.4 195.1 L232.9 195.0 L233.4 194.7 L238.0 198.0 L237.4 198.3 L237.0 198.4 L236.7 198.3 Z" fill="#13aa13" stroke="#13aa13" stroke-width="0.3" stroke-linejoin="round"/>
<path d="M233.4 194.7 L234.2 194.3 L235.0 193.7 L235.8 193.0 L240.4 196.3 L239.5 196.9 L238.7 197.5 L238.0 198.0 Z" fill="#1fe01f" stroke="#1fe01f" stroke-width="0.3" stroke-linejoin="round"/>
<path d="M235.8 193.0 L236.5 192.5 L237.1 192.0 L237.8 191.5 L242.3 194.8 L241.7 195.2 L241.0 195.8 L240.4 196.3 Z" fill="#3ae43a" stroke="#3ae43a" stroke-width="0.3" stroke-linejoin="round"/>
<path d="M237.8 191.5 L238.5 191.0 L239.1 190.6 L239.7 190.2 L244.2 193.5 L243.7 193.8 L243.0 194.2 L242.3 194.8 Z" fill="#1fe01f" stroke="#1fe01f" stroke-width="0.3" stroke-linejoin="round"/>
<path d="M239.7 190.2 L240.1 190.1 L240.4 190.0 L240.7 190.1 L245.2 193.3 L245.0 193.3 L244.6 193.3 L244.2 193.5 Z" fill="#13aa13" stroke="#13aa13" stroke-width="0.3" stroke-linejoin="round"/>
<path d="M238.8 199.8 L239.1 199.9 L239.6 199.8 L240.1 199.5 L244.3 202.8 L243.7 203.0 L243.3 203.1 L243.0 203.0 Z" fill="#13aa13" stroke="#13aa13" stroke-width="0.3" stroke-linejoin="round"/>
<path d="M240.1 199.5 L240.8 199.0 L241.6 198.5 L242.5 197.8 L246.8 201.3 L245.9 201.9 L245.1 202.4 L244.3 202.8 Z" fill="#1fe01f" stroke="#1fe01f" stroke-width="0.3" stroke-linejoin="round"/>
<path d="M242.5 197.8 L243.2 197.3 L243.8 196.8 L244.4 196.3 L248.9 199.9 L248.2 200.3 L247.5 200.8 L246.8 201.3 Z" fill="#3ae43a" stroke="#3ae43a" stroke-width="0.3" stroke-linejoin="round"/>
<path d="M244.4 196.3 L245.1 195.8 L245.8 195.3 L246.6 195.2 L250.9 198.8 L250.3 199.0 L249.6 199.4 L248.9 199.9 Z" fill="#1fe01f" stroke="#1fe01f" stroke-width="0.3" stroke-linejoin="round"/>
<path d="M246.6 195.2 L247.0 195.1 L247.3 195.0 L247.6 195.1 L251.9 198.7 L251.6 198.6 L251.3 198.6 L250.9 198.8 Z" fill="#13aa13" stroke="#13aa13" stroke-width="0.3" stroke-linejoin="round"/>
</g>
<g opacity="1">
<ellipse cx="245.5" cy="209.0" rx="4.3" ry="4.5" fill="none" stroke="#0a7d0a" stroke-width="3.5"/>
<ellipse cx="245.5" cy="209.0" rx="4.3" ry="4.5" fill="none" stroke="#1fe01f" stroke-width="1.24"/>
<ellipse cx="251.3" cy="209.0" rx="4.3" ry="4.5" fill="none" stroke="#0a7d0a" stroke-width="3.5"/>
<ellipse cx="251.3" cy="209.0" rx="4.3" ry="4.5" fill="none" stroke="#1fe01f" stroke-width="1.24"/>
<ellipse cx="257.1" cy="209.0" rx="4.3" ry="4.5" fill="none" stroke="#0a7d0a" stroke-width="3.5"/>
<ellipse cx="257.1" cy="209.0" rx="4.3" ry="4.5" fill="none" stroke="#1fe01f" stroke-width="1.24"/>
</g>
<g opacity="1">
<path d="M259.0 192.0 C259.7 192.8 261.8 195.3 263.0 197.0 C264.2 198.7 265.5 201.2 266.0 202.0" fill="none" stroke="#0a7d0a" stroke-width="3.6" stroke-linecap="butt"/>
<path d="M259.0 192.0 C259.7 192.8 261.8 195.3 263.0 197.0 C264.2 198.7 265.5 201.2 266.0 202.0" fill="none" stroke="#14c414" stroke-width="2.3" stroke-linecap="butt"/>
<path d="M268.0 205.4 L263.1 203.8 L268.9 200.2 Z" fill="#14c414" stroke="#0a7d0a" stroke-width="0.6"/>
</g>
<path d="M233.0 176.0 C232.7 177.3 230.8 181.3 231.0 184.0 C231.2 186.7 233.8 189.3 234.0 192.0 C234.2 194.7 231.7 197.3 232.0 200.0 C232.3 202.7 235.3 206.7 236.0 208.0" fill="none" stroke="#1fe01f" stroke-width="0.9" stroke-linecap="round" opacity="1"/>
<path d="M262.0 210.0 C263.0 209.3 266.0 206.3 268.0 206.0 C270.0 205.7 273.0 207.7 274.0 208.0" fill="none" stroke="#1fe01f" stroke-width="0.9" stroke-linecap="round" opacity="1"/>
<g opacity="1">
<ellipse cx="282.0" cy="187.8" rx="3.6" ry="5.2" fill="none" stroke="#0a7d0a" stroke-width="3.3"/>
<ellipse cx="282.0" cy="187.8" rx="3.6" ry="5.2" fill="none" stroke="#1fe01f" stroke-width="1.12"/>
<ellipse cx="284.4" cy="187.8" rx="3.6" ry="5.2" fill="none" stroke="#0a7d0a" stroke-width="3.3"/>
<ellipse cx="284.4" cy="187.8" rx="3.6" ry="5.2" fill="none" stroke="#1fe01f" stroke-width="1.12"/>
</g>
<g opacity="1">
<ellipse cx="280.7" cy="208.5" rx="4.3" ry="4.5" fill="none" stroke="#0a7d0a" stroke-width="3.5"/>
<ellipse cx="280.7" cy="208.5" rx="4.3" ry="4.5" fill="none" stroke="#1fe01f" stroke-width="1.24"/>
<ellipse cx="286.5" cy="208.5" rx="4.3" ry="4.5" fill="none" stroke="#0a7d0a" stroke-width="3.5"/>
<ellipse cx="286.5" cy="208.5" rx="4.3" ry="4.5" fill="none" stroke="#1fe01f" stroke-width="1.24"/>
<ellipse cx="292.3" cy="208.5" rx="4.3" ry="4.5" fill="none" stroke="#0a7d0a" stroke-width="3.5"/>
<ellipse cx="292.3" cy="208.5" rx="4.3" ry="4.5" fill="none" stroke="#1fe01f" stroke-width="1.24"/>
</g>
<path d="M268.0 216.0 C269.0 215.8 271.8 214.5 274.0 215.0 C276.2 215.5 279.5 217.3 281.0 219.0 C282.5 220.7 283.7 223.8 283.0 225.0 C282.3 226.2 279.2 226.7 277.0 226.0 C274.8 225.3 271.5 222.7 270.0 221.0 C268.5 219.3 268.3 216.8 268.0 216.0" fill="none" stroke="#1fe01f" stroke-width="0.9" stroke-linecap="round" opacity="1"/>
<path d="M264.0 178.0 C265.0 178.7 268.0 181.7 270.0 182.0 C272.0 182.3 275.0 180.3 276.0 180.0" fill="none" stroke="#1fe01f" stroke-width="0.9" stroke-linecap="round" opacity="1"/>
<path d="M287.0 192.0 C287.8 193.0 291.5 196.0 292.0 198.0 C292.5 200.0 290.3 203.0 290.0 204.0" fill="none" stroke="#1fe01f" stroke-width="0.9" stroke-linecap="round" opacity="1"/>
<g opacity="1">
<path d="M287.2 167.0 L287.5 167.9 L287.2 170.0 L286.6 172.6 L286.0 175.2 L285.7 177.3 L285.9 178.2 L291.0 181.0 L290.7 180.0 L291.0 178.0 L291.7 175.4 L292.3 172.7 L292.6 170.7 L292.3 169.7 Z" fill="#096e09" stroke="#096e09" stroke-width="0.3" stroke-linejoin="round"/>
<path d="M294.7 171.0 L295.0 172.0 L294.7 174.0 L294.1 176.7 L293.4 179.3 L293.1 181.3 L293.4 182.3 L298.5 185.1 L298.2 184.1 L298.5 182.1 L299.1 179.4 L299.8 176.8 L300.1 174.8 L299.8 173.8 Z" fill="#096e09" stroke="#096e09" stroke-width="0.3" stroke-linejoin="round"/>
<path d="M302.2 175.1 L302.5 176.1 L302.2 178.1 L301.5 180.7 L301.0 183.4 L300.7 185.5 L301.1 186.4 L306.2 189.0 L305.9 188.0 L306.1 186.0 L306.7 183.3 L307.2 180.7 L307.5 178.6 L307.1 177.7 Z" fill="#096e09" stroke="#096e09" stroke-width="0.3" stroke-linejoin="round"/>
<path d="M309.6 178.9 L309.9 179.9 L309.7 181.9 L309.1 184.6 L308.6 187.2 L308.4 189.3 L308.7 190.2 L313.6 192.8 L313.3 191.8 L313.6 189.8 L314.3 187.2 L314.8 184.5 L315.1 182.4 L314.7 181.5 Z" fill="#096e09" stroke="#096e09" stroke-width="0.3" stroke-linejoin="round"/>
<path d="M317.3 182.8 L317.6 183.8 L317.3 185.8 L316.7 188.5 L316.0 191.1 L315.7 193.1 L316.0 194.1 L321.1 196.9 L320.8 195.9 L321.1 193.9 L321.7 191.2 L322.4 188.6 L322.7 186.6 L322.4 185.6 Z" fill="#096e09" stroke="#096e09" stroke-width="0.3" stroke-linejoin="round"/>
<path d="M324.8 186.9 L325.1 187.9 L324.8 189.9 L324.1 192.5 L323.5 195.2 L323.2 197.2 L323.5 198.2 L328.6 200.9 L328.3 200.0 L328.6 197.9 L329.2 195.3 L329.8 192.7 L330.1 190.6 L329.9 189.7 Z" fill="#096e09" stroke="#096e09" stroke-width="0.3" stroke-linejoin="round"/>
<path d="M332.2 191.0 L332.5 191.9 L332.2 194.0 L331.6 196.6 L331.0 199.2 L330.7 201.3 L330.9 202.2 L336.0 205.0 L335.7 204.0 L336.0 202.0 L336.7 199.4 L337.3 196.7 L337.6 194.7 L337.3 193.7 Z" fill="#096e09" stroke="#096e09" stroke-width="0.3" stroke-linejoin="round"/>
<path d="M285.9 178.2 L286.3 178.3 L286.8 178.0 L287.3 177.6 L292.4 180.4 L291.8 180.8 L291.4 181.0 L291.0 181.0 Z" fill="#13aa13" stroke="#13aa13" stroke-width="0.3" stroke-linejoin="round"/>
<path d="M287.3 177.6 L288.1 177.0 L288.9 176.2 L289.7 175.3 L294.8 178.0 L294.0 178.9 L293.1 179.7 L292.4 180.4 Z" fill="#1fe01f" stroke="#1fe01f" stroke-width="0.3" stroke-linejoin="round"/>
<path d="M289.7 175.3 L290.4 174.6 L291.1 173.9 L291.7 173.2 L296.8 175.9 L296.1 176.6 L295.5 177.3 L294.8 178.0 Z" fill="#3ae43a" stroke="#3ae43a" stroke-width="0.3" stroke-linejoin="round"/>
<path d="M291.7 173.2 L292.4 172.5 L293.1 171.9 L293.6 171.4 L298.7 174.2 L298.1 174.6 L297.5 175.2 L296.8 175.9 Z" fill="#1fe01f" stroke="#1fe01f" stroke-width="0.3" stroke-linejoin="round"/>
<path d="M293.6 171.4 L294.1 171.1 L294.4 171.0 L294.7 171.0 L299.8 173.8 L299.5 173.8 L299.2 173.9 L298.7 174.2 Z" fill="#13aa13" stroke="#13aa13" stroke-width="0.3" stroke-linejoin="round"/>
<path d="M293.4 182.3 L293.8 182.3 L294.2 182.1 L294.8 181.7 L299.9 184.5 L299.3 184.9 L298.8 185.1 L298.5 185.1 Z" fill="#13aa13" stroke="#13aa13" stroke-width="0.3" stroke-linejoin="round"/>
<path d="M294.8 181.7 L295.5 181.0 L296.3 180.2 L297.2 179.3 L302.3 182.1 L301.5 183.0 L300.7 183.9 L299.9 184.5 Z" fill="#1fe01f" stroke="#1fe01f" stroke-width="0.3" stroke-linejoin="round"/>
<path d="M297.2 179.3 L297.9 178.6 L298.5 177.9 L299.2 177.3 L304.2 179.9 L303.6 180.6 L303.0 181.4 L302.3 182.1 Z" fill="#3ae43a" stroke="#3ae43a" stroke-width="0.3" stroke-linejoin="round"/>
<path d="M299.2 177.3 L299.9 176.5 L300.5 175.9 L301.1 175.5 L306.1 178.1 L305.5 178.6 L304.9 179.2 L304.2 179.9 Z" fill="#1fe01f" stroke="#1fe01f" stroke-width="0.3" stroke-linejoin="round"/>
<path d="M301.1 175.5 L301.5 175.2 L301.9 175.1 L302.2 175.1 L307.1 177.7 L306.9 177.7 L306.5 177.8 L306.1 178.1 Z" fill="#13aa13" stroke="#13aa13" stroke-width="0.3" stroke-linejoin="round"/>
<path d="M301.1 186.4 L301.4 186.4 L301.9 186.2 L302.4 185.7 L307.6 188.3 L307.0 188.8 L306.6 189.0 L306.2 189.0 Z" fill="#13aa13" stroke="#13aa13" stroke-width="0.3" stroke-linejoin="round"/>
<path d="M302.4 185.7 L303.1 185.1 L303.9 184.2 L304.8 183.3 L309.9 185.9 L309.1 186.8 L308.3 187.7 L307.6 188.3 Z" fill="#1fe01f" stroke="#1fe01f" stroke-width="0.3" stroke-linejoin="round"/>
<path d="M304.8 183.3 L305.4 182.6 L306.0 181.9 L306.6 181.2 L311.8 183.7 L311.2 184.4 L310.6 185.2 L309.9 185.9 Z" fill="#3ae43a" stroke="#3ae43a" stroke-width="0.3" stroke-linejoin="round"/>
<path d="M306.6 181.2 L307.3 180.4 L308.0 179.8 L308.5 179.3 L313.7 181.9 L313.1 182.4 L312.5 183.0 L311.8 183.7 Z" fill="#1fe01f" stroke="#1fe01f" stroke-width="0.3" stroke-linejoin="round"/>
<path d="M308.5 179.3 L308.9 179.0 L309.3 178.9 L309.6 178.9 L314.7 181.5 L314.5 181.5 L314.1 181.6 L313.7 181.9 Z" fill="#13aa13" stroke="#13aa13" stroke-width="0.3" stroke-linejoin="round"/>
<path d="M308.7 190.2 L309.0 190.2 L309.5 190.0 L310.0 189.5 L315.0 192.2 L314.4 192.6 L314.0 192.8 L313.6 192.8 Z" fill="#13aa13" stroke="#13aa13" stroke-width="0.3" stroke-linejoin="round"/>
<path d="M310.0 189.5 L310.7 188.9 L311.5 188.0 L312.4 187.1 L317.4 189.8 L316.6 190.7 L315.8 191.5 L315.0 192.2 Z" fill="#1fe01f" stroke="#1fe01f" stroke-width="0.3" stroke-linejoin="round"/>
<path d="M312.4 187.1 L313.0 186.4 L313.6 185.7 L314.2 185.0 L319.4 187.7 L318.7 188.4 L318.1 189.1 L317.4 189.8 Z" fill="#3ae43a" stroke="#3ae43a" stroke-width="0.3" stroke-linejoin="round"/>
<path d="M314.2 185.0 L314.9 184.2 L315.6 183.6 L316.3 183.2 L321.3 185.9 L320.8 186.4 L320.1 187.0 L319.4 187.7 Z" fill="#1fe01f" stroke="#1fe01f" stroke-width="0.3" stroke-linejoin="round"/>
<path d="M316.3 183.2 L316.7 182.9 L317.1 182.8 L317.3 182.8 L322.4 185.6 L322.1 185.6 L321.8 185.7 L321.3 185.9 Z" fill="#13aa13" stroke="#13aa13" stroke-width="0.3" stroke-linejoin="round"/>
<path d="M316.0 194.1 L316.4 194.1 L316.8 193.9 L317.4 193.5 L322.5 196.2 L321.9 196.7 L321.4 196.9 L321.1 196.9 Z" fill="#13aa13" stroke="#13aa13" stroke-width="0.3" stroke-linejoin="round"/>
<path d="M317.4 193.5 L318.1 192.8 L319.0 192.0 L319.8 191.1 L324.9 193.9 L324.0 194.8 L323.2 195.6 L322.5 196.2 Z" fill="#1fe01f" stroke="#1fe01f" stroke-width="0.3" stroke-linejoin="round"/>
<path d="M319.8 191.1 L320.5 190.4 L321.1 189.7 L321.8 189.0 L326.9 191.8 L326.2 192.5 L325.6 193.2 L324.9 193.9 Z" fill="#3ae43a" stroke="#3ae43a" stroke-width="0.3" stroke-linejoin="round"/>
<path d="M321.8 189.0 L322.5 188.3 L323.1 187.7 L323.7 187.3 L328.8 190.0 L328.2 190.5 L327.6 191.1 L326.9 191.8 Z" fill="#1fe01f" stroke="#1fe01f" stroke-width="0.3" stroke-linejoin="round"/>
<path d="M323.7 187.3 L324.2 187.0 L324.5 186.9 L324.8 186.9 L329.9 189.7 L329.6 189.6 L329.2 189.7 L328.8 190.0 Z" fill="#13aa13" stroke="#13aa13" stroke-width="0.3" stroke-linejoin="round"/>
<path d="M323.5 198.2 L323.8 198.2 L324.3 198.0 L324.9 197.5 L330.0 200.3 L329.4 200.7 L328.9 200.9 L328.6 200.9 Z" fill="#13aa13" stroke="#13aa13" stroke-width="0.3" stroke-linejoin="round"/>
<path d="M324.9 197.5 L325.6 196.9 L326.4 196.1 L327.3 195.2 L332.4 198.0 L331.5 198.9 L330.7 199.7 L330.0 200.3 Z" fill="#1fe01f" stroke="#1fe01f" stroke-width="0.3" stroke-linejoin="round"/>
<path d="M327.3 195.2 L327.9 194.5 L328.6 193.8 L329.2 193.1 L334.3 195.9 L333.7 196.5 L333.0 197.2 L332.4 198.0 Z" fill="#3ae43a" stroke="#3ae43a" stroke-width="0.3" stroke-linejoin="round"/>
<path d="M329.2 193.1 L330.0 192.4 L330.6 191.8 L331.2 191.3 L336.3 194.1 L335.7 194.6 L335.0 195.2 L334.3 195.9 Z" fill="#1fe01f" stroke="#1fe01f" stroke-width="0.3" stroke-linejoin="round"/>
<path d="M331.2 191.3 L331.6 191.1 L332.0 190.9 L332.2 191.0 L337.3 193.7 L337.1 193.7 L336.7 193.8 L336.3 194.1 Z" fill="#13aa13" stroke="#13aa13" stroke-width="0.3" stroke-linejoin="round"/>
</g>
<g opacity="1">
<path d="M331.0 188.0 C329.2 186.2 323.8 180.7 320.0 177.0 C316.2 173.3 310.0 167.8 308.0 166.0" fill="none" stroke="#0a7d0a" stroke-width="5.5" stroke-linecap="butt"/>
<path d="M331.0 188.0 C329.2 186.2 323.8 180.7 320.0 177.0 C316.2 173.3 310.0 167.8 308.0 166.0" fill="none" stroke="#1fe01f" stroke-width="4.2" stroke-linecap="butt"/>
<path d="M303.5 161.9 L311.5 162.1 L304.5 169.9 Z" fill="#1fe01f" stroke="#0a7d0a" stroke-width="0.6"/>
</g>
<g opacity="1">
<path d="M326.0 191.0 C324.0 189.2 317.8 183.5 314.0 180.0 C310.2 176.5 304.8 171.7 303.0 170.0" fill="none" stroke="#0a7d0a" stroke-width="5.5" stroke-linecap="butt"/>
<path d="M326.0 191.0 C324.0 189.2 317.8 183.5 314.0 180.0 C310.2 176.5 304.8 171.7 303.0 170.0" fill="none" stroke="#1fe01f" stroke-width="4.2" stroke-linecap="butt"/>
<path d="M298.5 165.9 L306.5 166.1 L299.5 173.9 Z" fill="#1fe01f" stroke="#0a7d0a" stroke-width="0.6"/>
</g>
<g opacity="1">
<path d="M321.9 149.3 L322.0 150.0 L321.5 151.4 L320.7 153.2 L319.9 155.0 L319.4 156.4 L319.5 157.1 L322.7 159.8 L322.6 159.0 L323.1 157.6 L323.9 155.9 L324.7 154.1 L325.2 152.7 L325.1 151.9 Z" fill="#096e09" stroke="#096e09" stroke-width="0.3" stroke-linejoin="round"/>
<path d="M326.7 153.2 L326.7 153.9 L326.3 155.3 L325.5 157.1 L324.6 158.9 L324.2 160.3 L324.2 161.0 L326.7 163.2 L326.8 162.5 L327.6 161.2 L328.7 159.7 L329.5 158.0 L330.0 156.5 L329.9 155.8 Z" fill="#096e09" stroke="#096e09" stroke-width="0.3" stroke-linejoin="round"/>
<path d="M332.0 157.7 L331.9 158.4 L331.1 159.7 L330.0 161.2 L328.8 162.8 L328.0 164.1 L327.9 164.8 L330.4 168.1 L330.5 167.4 L331.3 166.1 L332.5 164.6 L333.7 163.0 L334.5 161.7 L334.6 161.0 Z" fill="#096e09" stroke="#096e09" stroke-width="0.3" stroke-linejoin="round"/>
<path d="M335.8 162.6 L335.7 163.3 L334.9 164.6 L333.7 166.1 L332.5 167.6 L331.7 168.9 L331.6 169.6 L334.0 173.0 L334.1 172.3 L335.0 171.0 L336.2 169.5 L337.4 167.9 L338.2 166.7 L338.3 166.0 Z" fill="#096e09" stroke="#096e09" stroke-width="0.3" stroke-linejoin="round"/>
<path d="M339.5 167.6 L339.4 168.3 L338.6 169.5 L337.4 171.1 L336.1 172.6 L335.3 173.8 L335.2 174.6 L337.7 177.9 L337.8 177.2 L338.6 176.0 L339.8 174.4 L341.1 172.9 L341.9 171.7 L342.0 171.0 Z" fill="#096e09" stroke="#096e09" stroke-width="0.3" stroke-linejoin="round"/>
<path d="M319.5 157.1 L319.7 157.2 L320.1 157.1 L320.6 156.9 L323.8 159.5 L323.3 159.7 L323.0 159.8 L322.7 159.8 Z" fill="#13aa13" stroke="#13aa13" stroke-width="0.3" stroke-linejoin="round"/>
<path d="M320.6 156.9 L321.2 156.5 L321.8 156.0 L322.6 155.5 L325.8 158.2 L325.1 158.7 L324.4 159.2 L323.8 159.5 Z" fill="#1fe01f" stroke="#1fe01f" stroke-width="0.3" stroke-linejoin="round"/>
<path d="M322.6 155.5 L323.1 155.1 L323.7 154.7 L324.2 154.3 L327.5 156.9 L326.9 157.3 L326.4 157.7 L325.8 158.2 Z" fill="#3ae43a" stroke="#3ae43a" stroke-width="0.3" stroke-linejoin="round"/>
<path d="M324.2 154.3 L324.8 153.9 L325.4 153.5 L325.9 153.3 L329.1 155.9 L328.6 156.2 L328.1 156.5 L327.5 156.9 Z" fill="#1fe01f" stroke="#1fe01f" stroke-width="0.3" stroke-linejoin="round"/>
<path d="M325.9 153.3 L326.2 153.2 L326.5 153.1 L326.7 153.2 L329.9 155.8 L329.7 155.8 L329.5 155.8 L329.1 155.9 Z" fill="#13aa13" stroke="#13aa13" stroke-width="0.3" stroke-linejoin="round"/>
<path d="M324.2 161.0 L324.5 161.1 L324.8 161.0 L325.3 160.8 L327.8 163.2 L327.3 163.3 L326.9 163.3 L326.7 163.2 Z" fill="#13aa13" stroke="#13aa13" stroke-width="0.3" stroke-linejoin="round"/>
<path d="M325.3 160.8 L325.9 160.4 L326.6 159.9 L327.3 159.4 L330.1 162.4 L329.2 162.7 L328.5 163.0 L327.8 163.2 Z" fill="#1fe01f" stroke="#1fe01f" stroke-width="0.3" stroke-linejoin="round"/>
<path d="M327.3 159.4 L327.9 159.0 L328.5 158.6 L329.0 158.2 L332.0 161.6 L331.3 161.8 L330.7 162.1 L330.1 162.4 Z" fill="#3ae43a" stroke="#3ae43a" stroke-width="0.3" stroke-linejoin="round"/>
<path d="M329.0 158.2 L329.6 157.8 L330.2 157.4 L330.6 157.2 L333.8 160.9 L333.3 161.1 L332.6 161.3 L332.0 161.6 Z" fill="#1fe01f" stroke="#1fe01f" stroke-width="0.3" stroke-linejoin="round"/>
<path d="M330.6 157.2 L331.0 157.1 L331.2 157.0 L332.0 157.7 L334.6 161.0 L334.4 160.9 L334.1 160.9 L333.8 160.9 Z" fill="#13aa13" stroke="#13aa13" stroke-width="0.3" stroke-linejoin="round"/>
<path d="M327.9 164.8 L328.1 164.9 L328.5 164.9 L329.0 164.8 L331.5 168.1 L331.0 168.2 L330.6 168.2 L330.4 168.1 Z" fill="#13aa13" stroke="#13aa13" stroke-width="0.3" stroke-linejoin="round"/>
<path d="M329.0 164.8 L329.7 164.6 L330.4 164.3 L331.3 163.9 L333.8 167.2 L333.0 167.6 L332.2 167.8 L331.5 168.1 Z" fill="#1fe01f" stroke="#1fe01f" stroke-width="0.3" stroke-linejoin="round"/>
<path d="M331.3 163.9 L331.9 163.6 L332.5 163.4 L333.2 163.1 L335.7 166.5 L335.1 166.7 L334.4 167.0 L333.8 167.2 Z" fill="#3ae43a" stroke="#3ae43a" stroke-width="0.3" stroke-linejoin="round"/>
<path d="M333.2 163.1 L333.8 162.9 L334.5 162.6 L335.0 162.5 L337.5 165.9 L337.0 166.0 L336.4 166.2 L335.7 166.5 Z" fill="#1fe01f" stroke="#1fe01f" stroke-width="0.3" stroke-linejoin="round"/>
<path d="M335.0 162.5 L335.3 162.5 L335.6 162.5 L335.8 162.6 L338.3 166.0 L338.2 165.9 L337.9 165.9 L337.5 165.9 Z" fill="#13aa13" stroke="#13aa13" stroke-width="0.3" stroke-linejoin="round"/>
<path d="M331.6 169.6 L331.8 169.7 L332.1 169.7 L332.7 169.6 L335.1 173.0 L334.6 173.1 L334.2 173.1 L334.0 173.0 Z" fill="#13aa13" stroke="#13aa13" stroke-width="0.3" stroke-linejoin="round"/>
<path d="M332.7 169.6 L333.3 169.4 L334.1 169.1 L335.0 168.8 L337.4 172.2 L336.6 172.5 L335.8 172.8 L335.1 173.0 Z" fill="#1fe01f" stroke="#1fe01f" stroke-width="0.3" stroke-linejoin="round"/>
<path d="M335.0 168.8 L335.6 168.6 L336.3 168.3 L336.9 168.1 L339.4 171.4 L338.7 171.7 L338.1 171.9 L337.4 172.2 Z" fill="#3ae43a" stroke="#3ae43a" stroke-width="0.3" stroke-linejoin="round"/>
<path d="M336.9 168.1 L337.6 167.8 L338.2 167.6 L338.7 167.5 L341.2 170.9 L340.7 171.0 L340.0 171.2 L339.4 171.4 Z" fill="#1fe01f" stroke="#1fe01f" stroke-width="0.3" stroke-linejoin="round"/>
<path d="M338.7 167.5 L339.1 167.4 L339.3 167.5 L339.5 167.6 L342.0 171.0 L341.8 170.9 L341.5 170.8 L341.2 170.9 Z" fill="#13aa13" stroke="#13aa13" stroke-width="0.3" stroke-linejoin="round"/>
</g>
<path d="M340.0 175.0 C340.3 175.8 342.2 178.3 342.0 180.0 C341.8 181.7 339.8 183.5 338.5 185.0 C337.2 186.5 334.8 188.3 334.0 189.0" fill="none" stroke="#1fe01f" stroke-width="0.9" stroke-linecap="round" opacity="1"/>
<path d="M337.5 156.0 C337.8 156.8 338.9 159.3 339.0 161.0 C339.1 162.7 338.2 165.2 338.0 166.0" fill="none" stroke="#1fe01f" stroke-width="0.8" stroke-linecap="round" opacity="1"/>
<g opacity="1">
<path d="M303.0 152.0 C303.5 153.3 304.8 157.3 306.0 160.0 C307.2 162.7 309.3 166.7 310.0 168.0" fill="none" stroke="#0a7d0a" stroke-width="4.5" stroke-linecap="butt"/>
<path d="M303.0 152.0 C303.5 153.3 304.8 157.3 306.0 160.0 C307.2 162.7 309.3 166.7 310.0 168.0" fill="none" stroke="#1fe01f" stroke-width="3.2" stroke-linecap="butt"/>
<path d="M312.2 172.4 L306.2 169.9 L313.8 166.1 Z" fill="#1fe01f" stroke="#0a7d0a" stroke-width="0.6"/>
</g>
<path d="M310.0 168.0 C311.3 167.7 315.7 167.3 318.0 166.0 C320.3 164.7 323.0 161.0 324.0 160.0" fill="none" stroke="#1fe01f" stroke-width="0.9" stroke-linecap="round" opacity="1"/>
<path d="M296.0 172.0 C295.3 171.0 291.7 168.0 292.0 166.0 C292.3 164.0 296.2 162.0 298.0 160.0 C299.8 158.0 302.2 155.0 303.0 154.0" fill="none" stroke="#1fe01f" stroke-width="0.9" stroke-linecap="round" opacity="1"/>
<g opacity="1">
<path d="M296.7 199.8 L297.2 200.3 L297.7 201.9 L298.3 204.0 L298.8 206.1 L299.3 207.7 L299.8 208.2 L304.2 208.2 L303.6 207.7 L303.1 206.1 L302.6 204.0 L302.0 201.9 L301.5 200.3 L301.0 199.8 Z" fill="#096e09" stroke="#096e09" stroke-width="0.3" stroke-linejoin="round"/>
<path d="M303.0 199.8 L303.5 200.3 L304.1 201.9 L304.6 204.0 L305.1 206.1 L305.7 207.7 L306.2 208.2 L310.5 208.2 L310.0 207.7 L309.5 206.1 L308.9 204.0 L308.4 201.9 L307.9 200.3 L307.3 199.8 Z" fill="#096e09" stroke="#096e09" stroke-width="0.3" stroke-linejoin="round"/>
<path d="M309.4 199.8 L309.9 200.3 L310.4 201.9 L311.0 204.0 L311.5 206.1 L311.6 207.7 L312.1 208.3 L316.4 208.8 L315.9 208.1 L315.5 206.5 L315.3 204.4 L315.0 202.2 L314.6 200.6 L314.1 200.0 Z" fill="#096e09" stroke="#096e09" stroke-width="0.3" stroke-linejoin="round"/>
<path d="M316.2 200.2 L316.6 200.8 L317.0 202.4 L317.3 204.6 L317.6 206.8 L317.9 208.4 L318.4 209.0 L322.7 209.5 L322.2 208.8 L321.9 207.2 L321.6 205.1 L321.3 202.9 L320.9 201.3 L320.5 200.7 Z" fill="#096e09" stroke="#096e09" stroke-width="0.3" stroke-linejoin="round"/>
<path d="M299.8 208.2 L300.1 208.1 L300.3 207.8 L300.5 207.3 L304.9 207.3 L304.6 207.8 L304.4 208.1 L304.2 208.2 Z" fill="#0e9d0e" stroke="#0e9d0e" stroke-width="0.3" stroke-linejoin="round"/>
<path d="M300.5 207.3 L300.8 206.5 L301.0 205.6 L301.3 204.7 L305.6 204.7 L305.3 205.6 L305.1 206.5 L304.9 207.3 Z" fill="#14c414" stroke="#14c414" stroke-width="0.3" stroke-linejoin="round"/>
<path d="M301.3 204.7 L301.4 203.9 L301.6 203.2 L301.8 202.4 L306.1 202.4 L305.9 203.2 L305.8 203.9 L305.6 204.7 Z" fill="#30cb30" stroke="#30cb30" stroke-width="0.3" stroke-linejoin="round"/>
<path d="M301.8 202.4 L302.0 201.6 L302.2 201.0 L302.4 200.4 L306.8 200.4 L306.6 201.0 L306.3 201.6 L306.1 202.4 Z" fill="#14c414" stroke="#14c414" stroke-width="0.3" stroke-linejoin="round"/>
<path d="M302.4 200.4 L302.6 200.0 L302.8 199.8 L303.0 199.8 L307.3 199.8 L307.1 199.8 L307.0 200.0 L306.8 200.4 Z" fill="#0e9d0e" stroke="#0e9d0e" stroke-width="0.3" stroke-linejoin="round"/>
<path d="M306.2 208.2 L306.4 208.1 L306.7 207.8 L306.9 207.3 L311.2 207.3 L311.0 207.8 L310.7 208.1 L310.5 208.2 Z" fill="#0e9d0e" stroke="#0e9d0e" stroke-width="0.3" stroke-linejoin="round"/>
<path d="M306.9 207.3 L307.1 206.5 L307.4 205.6 L307.6 204.7 L311.9 204.7 L311.7 205.6 L311.5 206.5 L311.2 207.3 Z" fill="#14c414" stroke="#14c414" stroke-width="0.3" stroke-linejoin="round"/>
<path d="M307.6 204.7 L307.8 203.9 L308.0 203.2 L308.2 202.4 L312.7 202.5 L312.4 203.2 L312.1 203.9 L311.9 204.7 Z" fill="#30cb30" stroke="#30cb30" stroke-width="0.3" stroke-linejoin="round"/>
<path d="M308.2 202.4 L308.4 201.6 L308.6 201.0 L308.8 200.4 L313.5 200.6 L313.2 201.1 L312.9 201.7 L312.7 202.5 Z" fill="#14c414" stroke="#14c414" stroke-width="0.3" stroke-linejoin="round"/>
<path d="M308.8 200.4 L309.0 200.0 L309.2 199.8 L309.4 199.8 L314.1 200.0 L313.9 200.0 L313.7 200.2 L313.5 200.6 Z" fill="#0e9d0e" stroke="#0e9d0e" stroke-width="0.3" stroke-linejoin="round"/>
<path d="M312.1 208.3 L312.3 208.2 L312.6 207.9 L312.9 207.4 L317.2 207.9 L316.9 208.4 L316.6 208.7 L316.4 208.8 Z" fill="#0e9d0e" stroke="#0e9d0e" stroke-width="0.3" stroke-linejoin="round"/>
<path d="M312.9 207.4 L313.2 206.7 L313.5 205.8 L313.9 204.9 L318.2 205.4 L317.8 206.3 L317.5 207.2 L317.2 207.9 Z" fill="#14c414" stroke="#14c414" stroke-width="0.3" stroke-linejoin="round"/>
<path d="M313.9 204.9 L314.1 204.1 L314.4 203.4 L314.7 202.7 L319.0 203.2 L318.7 203.9 L318.4 204.6 L318.2 205.4 Z" fill="#30cb30" stroke="#30cb30" stroke-width="0.3" stroke-linejoin="round"/>
<path d="M314.7 202.7 L315.0 202.0 L315.3 201.3 L315.5 200.8 L319.8 201.3 L319.5 201.8 L319.3 202.4 L319.0 203.2 Z" fill="#14c414" stroke="#14c414" stroke-width="0.3" stroke-linejoin="round"/>
<path d="M315.5 200.8 L315.8 200.4 L316.0 200.2 L316.2 200.2 L320.5 200.7 L320.3 200.7 L320.0 200.9 L319.8 201.3 Z" fill="#0e9d0e" stroke="#0e9d0e" stroke-width="0.3" stroke-linejoin="round"/>
</g>
<g opacity="1">
<path d="M311.0 205.9 L310.5 206.4 L309.0 206.9 L307.0 207.4 L305.0 207.9 L303.5 208.4 L303.0 208.9 L303.0 213.1 L303.5 212.6 L305.0 212.0 L307.0 211.5 L309.0 211.0 L310.5 210.5 L311.0 210.0 Z" fill="#096e09" stroke="#096e09" stroke-width="0.3" stroke-linejoin="round"/>
<path d="M311.0 212.0 L310.5 212.5 L309.0 213.0 L307.0 213.5 L305.0 214.0 L303.5 214.5 L303.0 215.0 L303.4 219.7 L303.8 219.1 L305.2 218.4 L307.1 217.6 L309.0 216.8 L310.5 216.6 L311.0 216.1 Z" fill="#096e09" stroke="#096e09" stroke-width="0.3" stroke-linejoin="round"/>
<path d="M311.1 217.3 L310.7 217.9 L309.3 218.7 L307.4 219.5 L305.5 220.3 L304.2 221.0 L303.7 221.6 L304.4 225.7 L304.8 225.1 L306.2 224.4 L308.1 223.5 L310.0 222.7 L311.3 222.0 L311.8 221.4 Z" fill="#096e09" stroke="#096e09" stroke-width="0.3" stroke-linejoin="round"/>
<path d="M303.0 208.9 L303.1 209.2 L303.4 209.4 L303.9 209.6 L303.9 213.7 L303.4 213.5 L303.1 213.3 L303.0 213.1 Z" fill="#0e9d0e" stroke="#0e9d0e" stroke-width="0.3" stroke-linejoin="round"/>
<path d="M303.9 209.6 L304.6 209.8 L305.4 210.1 L306.4 210.3 L306.4 214.4 L305.4 214.2 L304.6 214.0 L303.9 213.7 Z" fill="#14c414" stroke="#14c414" stroke-width="0.3" stroke-linejoin="round"/>
<path d="M306.4 210.3 L307.1 210.5 L307.8 210.6 L308.5 210.8 L308.5 214.9 L307.8 214.8 L307.1 214.6 L306.4 214.4 Z" fill="#30cb30" stroke="#30cb30" stroke-width="0.3" stroke-linejoin="round"/>
<path d="M308.5 210.8 L309.2 211.0 L309.9 211.2 L310.4 211.4 L310.4 215.5 L309.9 215.3 L309.2 215.1 L308.5 214.9 Z" fill="#14c414" stroke="#14c414" stroke-width="0.3" stroke-linejoin="round"/>
<path d="M310.4 211.4 L310.7 211.6 L310.9 211.8 L311.0 212.0 L311.0 216.1 L310.9 215.9 L310.7 215.7 L310.4 215.5 Z" fill="#0e9d0e" stroke="#0e9d0e" stroke-width="0.3" stroke-linejoin="round"/>
<path d="M303.0 215.0 L303.1 215.2 L303.4 215.4 L303.9 215.7 L304.4 220.2 L303.9 220.1 L303.5 219.9 L303.4 219.7 Z" fill="#0e9d0e" stroke="#0e9d0e" stroke-width="0.3" stroke-linejoin="round"/>
<path d="M303.9 215.7 L304.6 215.9 L305.4 216.1 L306.4 216.3 L307.0 220.5 L306.0 220.4 L305.1 220.3 L304.4 220.2 Z" fill="#14c414" stroke="#14c414" stroke-width="0.3" stroke-linejoin="round"/>
<path d="M306.4 216.3 L307.1 216.5 L307.8 216.7 L308.5 216.9 L309.1 220.7 L308.4 220.6 L307.7 220.6 L307.0 220.5 Z" fill="#30cb30" stroke="#30cb30" stroke-width="0.3" stroke-linejoin="round"/>
<path d="M308.5 216.9 L309.2 216.7 L309.9 216.8 L310.4 216.9 L311.1 221.0 L310.5 220.8 L309.9 220.7 L309.1 220.7 Z" fill="#14c414" stroke="#14c414" stroke-width="0.3" stroke-linejoin="round"/>
<path d="M310.4 216.9 L310.8 217.0 L311.0 217.2 L311.1 217.3 L311.8 221.4 L311.7 221.2 L311.5 221.1 L311.1 221.0 Z" fill="#0e9d0e" stroke="#0e9d0e" stroke-width="0.3" stroke-linejoin="round"/>
</g>
<g opacity="1">
<path d="M281.0 219.0 C282.5 220.5 287.2 224.8 290.0 228.0 C292.8 231.2 296.7 236.3 298.0 238.0" fill="none" stroke="#0a7d0a" stroke-width="5.2" stroke-linecap="butt"/>
<path d="M281.0 219.0 C282.5 220.5 287.2 224.8 290.0 228.0 C292.8 231.2 296.7 236.3 298.0 238.0" fill="none" stroke="#1fe01f" stroke-width="3.9" stroke-linecap="butt"/>
<path d="M301.6 242.5 L294.1 241.1 L301.9 234.9 Z" fill="#1fe01f" stroke="#0a7d0a" stroke-width="0.6"/>
</g>
<g opacity="1">
<path d="M287.0 217.0 C288.5 218.5 293.3 222.8 296.0 226.0 C298.7 229.2 301.8 234.3 303.0 236.0" fill="none" stroke="#0a7d0a" stroke-width="5.2" stroke-linecap="butt"/>
<path d="M287.0 217.0 C288.5 218.5 293.3 222.8 296.0 226.0 C298.7 229.2 301.8 234.3 303.0 236.0" fill="none" stroke="#1fe01f" stroke-width="3.9" stroke-linecap="butt"/>
<path d="M306.3 240.7 L299.0 238.8 L307.0 233.2 Z" fill="#1fe01f" stroke="#0a7d0a" stroke-width="0.6"/>
</g>
<g opacity="1">
<path d="M302.0 219.0 C302.5 220.2 304.2 223.7 305.0 226.0 C305.8 228.3 306.7 231.8 307.0 233.0" fill="none" stroke="#0a7d0a" stroke-width="5.2" stroke-linecap="butt"/>
<path d="M302.0 219.0 C302.5 220.2 304.2 223.7 305.0 226.0 C305.8 228.3 306.7 231.8 307.0 233.0" fill="none" stroke="#1fe01f" stroke-width="3.9" stroke-linecap="butt"/>
<path d="M308.6 238.5 L302.3 234.4 L311.7 231.6 Z" fill="#1fe01f" stroke="#0a7d0a" stroke-width="0.6"/>
</g>
<g opacity="1">
<path d="M280.7 241.5 L281.2 242.1 L281.7 243.8 L282.3 246.0 L282.8 248.2 L283.3 249.9 L283.8 250.5 L288.2 250.5 L287.6 249.9 L287.1 248.2 L286.6 246.0 L286.0 243.8 L285.5 242.1 L285.0 241.5 Z" fill="#096e09" stroke="#096e09" stroke-width="0.3" stroke-linejoin="round"/>
<path d="M287.0 241.5 L287.5 242.1 L288.1 243.8 L288.6 246.0 L289.1 248.2 L289.7 249.9 L290.2 250.5 L294.5 250.5 L294.0 249.9 L293.4 248.2 L292.9 246.0 L292.4 243.8 L291.8 242.1 L291.3 241.5 Z" fill="#096e09" stroke="#096e09" stroke-width="0.3" stroke-linejoin="round"/>
<path d="M293.3 241.5 L293.9 242.1 L294.4 243.8 L294.9 246.0 L295.5 248.2 L296.0 249.9 L296.5 250.5 L300.8 250.5 L300.3 249.9 L299.8 248.2 L299.2 246.0 L298.7 243.8 L298.2 242.1 L297.7 241.5 Z" fill="#096e09" stroke="#096e09" stroke-width="0.3" stroke-linejoin="round"/>
<path d="M299.7 241.5 L300.2 242.1 L300.7 243.8 L301.3 246.0 L301.8 248.2 L302.3 249.9 L302.8 250.5 L307.2 250.5 L306.6 249.9 L306.1 248.2 L305.6 246.0 L305.0 243.8 L304.5 242.1 L304.0 241.5 Z" fill="#096e09" stroke="#096e09" stroke-width="0.3" stroke-linejoin="round"/>
<path d="M283.8 250.5 L284.1 250.4 L284.3 250.0 L284.5 249.5 L288.9 249.5 L288.6 250.0 L288.4 250.4 L288.2 250.5 Z" fill="#13aa13" stroke="#13aa13" stroke-width="0.3" stroke-linejoin="round"/>
<path d="M284.5 249.5 L284.8 248.7 L285.0 247.7 L285.3 246.7 L289.6 246.7 L289.3 247.7 L289.1 248.7 L288.9 249.5 Z" fill="#1fe01f" stroke="#1fe01f" stroke-width="0.3" stroke-linejoin="round"/>
<path d="M285.3 246.7 L285.5 245.9 L285.6 245.1 L285.8 244.3 L290.1 244.3 L289.9 245.1 L289.8 245.9 L289.6 246.7 Z" fill="#3ae43a" stroke="#3ae43a" stroke-width="0.3" stroke-linejoin="round"/>
<path d="M285.8 244.3 L286.0 243.5 L286.2 242.8 L286.4 242.2 L290.8 242.2 L290.5 242.8 L290.3 243.5 L290.1 244.3 Z" fill="#1fe01f" stroke="#1fe01f" stroke-width="0.3" stroke-linejoin="round"/>
<path d="M286.4 242.2 L286.6 241.8 L286.8 241.6 L287.0 241.5 L291.3 241.5 L291.1 241.6 L290.9 241.8 L290.8 242.2 Z" fill="#13aa13" stroke="#13aa13" stroke-width="0.3" stroke-linejoin="round"/>
<path d="M290.2 250.5 L290.4 250.4 L290.6 250.0 L290.9 249.5 L295.2 249.5 L295.0 250.0 L294.7 250.4 L294.5 250.5 Z" fill="#13aa13" stroke="#13aa13" stroke-width="0.3" stroke-linejoin="round"/>
<path d="M290.9 249.5 L291.1 248.7 L291.4 247.7 L291.6 246.7 L295.9 246.7 L295.7 247.7 L295.4 248.7 L295.2 249.5 Z" fill="#1fe01f" stroke="#1fe01f" stroke-width="0.3" stroke-linejoin="round"/>
<path d="M291.6 246.7 L291.8 245.9 L292.0 245.1 L292.1 244.3 L296.4 244.3 L296.3 245.1 L296.1 245.9 L295.9 246.7 Z" fill="#3ae43a" stroke="#3ae43a" stroke-width="0.3" stroke-linejoin="round"/>
<path d="M292.1 244.3 L292.4 243.5 L292.6 242.8 L292.8 242.2 L297.1 242.2 L296.9 242.8 L296.7 243.5 L296.4 244.3 Z" fill="#1fe01f" stroke="#1fe01f" stroke-width="0.3" stroke-linejoin="round"/>
<path d="M292.8 242.2 L293.0 241.8 L293.2 241.6 L293.3 241.5 L297.7 241.5 L297.5 241.6 L297.3 241.8 L297.1 242.2 Z" fill="#13aa13" stroke="#13aa13" stroke-width="0.3" stroke-linejoin="round"/>
<path d="M296.5 250.5 L296.7 250.4 L297.0 250.0 L297.2 249.5 L301.5 249.5 L301.3 250.0 L301.1 250.4 L300.8 250.5 Z" fill="#13aa13" stroke="#13aa13" stroke-width="0.3" stroke-linejoin="round"/>
<path d="M297.2 249.5 L297.5 248.7 L297.7 247.7 L297.9 246.7 L302.2 246.7 L302.0 247.7 L301.8 248.7 L301.5 249.5 Z" fill="#1fe01f" stroke="#1fe01f" stroke-width="0.3" stroke-linejoin="round"/>
<path d="M297.9 246.7 L298.1 245.9 L298.3 245.1 L298.5 244.3 L302.8 244.3 L302.6 245.1 L302.4 245.9 L302.2 246.7 Z" fill="#3ae43a" stroke="#3ae43a" stroke-width="0.3" stroke-linejoin="round"/>
<path d="M298.5 244.3 L298.7 243.5 L298.9 242.8 L299.1 242.2 L303.4 242.2 L303.2 242.8 L303.0 243.5 L302.8 244.3 Z" fill="#1fe01f" stroke="#1fe01f" stroke-width="0.3" stroke-linejoin="round"/>
<path d="M299.1 242.2 L299.3 241.8 L299.5 241.6 L299.7 241.5 L304.0 241.5 L303.8 241.6 L303.6 241.8 L303.4 242.2 Z" fill="#13aa13" stroke="#13aa13" stroke-width="0.3" stroke-linejoin="round"/>
</g>
<path d="M309.0 224.0 C310.0 224.3 313.5 225.0 315.0 226.0 C316.5 227.0 318.5 228.3 318.0 230.0 C317.5 231.7 313.7 234.0 312.0 236.0 C310.3 238.0 308.7 241.0 308.0 242.0" fill="none" stroke="#1fe01f" stroke-width="0.9" stroke-linecap="round" opacity="1"/>
<path d="M312.0 226.0 C312.7 227.0 316.3 229.7 316.0 232.0 C315.7 234.3 311.0 238.7 310.0 240.0" fill="none" stroke="#1fe01f" stroke-width="0.8" stroke-linecap="round" opacity="1"/>
<path d="M270.0 219.0 C271.0 219.5 273.8 221.0 276.0 222.0 C278.2 223.0 281.8 224.5 283.0 225.0" fill="none" stroke="#1fe01f" stroke-width="0.9" stroke-linecap="round" opacity="1"/>
<path d="M298.0 209.0 C298.7 209.8 301.7 212.2 302.0 214.0 C302.3 215.8 300.3 219.0 300.0 220.0" fill="none" stroke="#1fe01f" stroke-width="0.9" stroke-linecap="round" opacity="1"/>
</g>
<g id="labels" filter="url(#soft2)">

<text x="157.5" y="13.2" font-weight="bold" font-size="10" fill="#000" stroke="#000" stroke-width="0.35">A</text>
<text x="299.6" y="52.6" font-family="Liberation Serif, serif" font-weight="bold" stroke-width="0.25" paint-order="stroke" font-size="9.5" fill="#111" stroke="#111">hMTPα subunit</text>
<text x="331.2" y="89.9" font-family="Liberation Serif, serif" font-weight="bold" stroke-width="0.25" paint-order="stroke" font-size="9.5" fill="#111" stroke="#111">Direction of</text>
<text x="331.2" y="101.7" font-family="Liberation Serif, serif" font-weight="bold" stroke-width="0.25" paint-order="stroke" font-size="9.5" fill="#111" stroke="#111">steered molecular</text>
<text x="331.2" y="113.2" font-family="Liberation Serif, serif" font-weight="bold" stroke-width="0.25" paint-order="stroke" font-size="9.5" fill="#111" stroke="#111">dynamics simulation</text>
<line x1="322.7" y1="130" x2="322.7" y2="82" stroke="#111" stroke-width="1.2"/>
<path d="M322.7 78.6 L320.4 83.6 L325 83.6 Z" fill="#111"/>
<text x="159" y="85.6" font-family="Liberation Serif, serif" font-weight="bold" stroke-width="0.25" paint-order="stroke" font-size="8.2" fill="#111" stroke="#111">Region 3’</text>
<line x1="193" y1="84" x2="212" y2="92.6" stroke="#111" stroke-width="0.6"/>
<path d="M212.0 92.6 L208.7 92.5 L209.8 90.2 Z" fill="#111"/>
<text x="155.2" y="146" font-family="Liberation Serif, serif" font-weight="bold" stroke-width="0.25" paint-order="stroke" font-size="8.2" fill="#111" stroke="#111">Region 3</text>
<line x1="188" y1="142.3" x2="223.8" y2="132.4" stroke="#111" stroke-width="0.6"/>
<path d="M223.8 132.4 L221.3 134.5 L220.6 131.9 Z" fill="#111"/>
<text x="182.1" y="184.8" font-family="Liberation Serif, serif" font-weight="bold" stroke-width="0.25" paint-order="stroke" font-size="8.2" fill="#111" stroke="#111">Region 2</text>
<line x1="214.4" y1="182.5" x2="248.7" y2="169" stroke="#111" stroke-width="0.6"/>
<path d="M248.7 169.0 L246.4 171.3 L245.4 168.9 Z" fill="#111"/>
<text x="351.6" y="153.8" font-family="Liberation Serif, serif" font-weight="bold" stroke-width="0.25" paint-order="stroke" font-size="8.2" fill="#111" stroke="#111">Region 1</text>
<line x1="350.7" y1="150.6" x2="310.5" y2="150.6" stroke="#111" stroke-width="0.6"/>
<path d="M309 150.6 L312.2 149.2 L312.2 152 Z" fill="#111"/>
<text x="187.3" y="133.3" font-family="Liberation Serif, serif" font-weight="bold" stroke-width="0.25" paint-order="stroke" font-style="italic" font-size="9" fill="#e8202a" stroke="#e8202a">a’</text>
<text x="340.4" y="190.3" font-family="Liberation Serif, serif" font-weight="bold" stroke-width="0.25" paint-order="stroke" font-style="italic" font-size="9" fill="#e8202a" stroke="#e8202a">a</text>
<text x="225" y="209.8" font-family="Liberation Serif, serif" font-weight="bold" stroke-width="0.25" paint-order="stroke" font-style="italic" font-size="9" fill="#e8202a" stroke="#e8202a">b’</text>
<text x="320" y="240" font-family="Liberation Serif, serif" font-weight="bold" stroke-width="0.25" paint-order="stroke" font-style="italic" font-size="9" fill="#e8202a" stroke="#e8202a">b</text>
<text x="228.6" y="239.6" font-family="Liberation Serif, serif" font-weight="bold" stroke-width="0.25" paint-order="stroke" font-size="8.35" fill="#e8202a" stroke="#e8202a">hPDI subunit</text>
<ellipse cx="219.7" cy="100.3" rx="11.6" ry="9.4" fill="none" stroke="#222" stroke-width="0.6"/>
<ellipse cx="235.2" cy="135.6" rx="21" ry="9.5" transform="rotate(66 235.2 135.6)" fill="none" stroke="#222" stroke-width="0.6"/>
<ellipse cx="262.7" cy="169.5" rx="16.6" ry="10.8" transform="rotate(35 262.7 169.5)" fill="none" stroke="#222" stroke-width="0.6"/>
<ellipse cx="295.3" cy="159.6" rx="18.3" ry="9.2" transform="rotate(-29 295.3 159.6)" fill="none" stroke="#222" stroke-width="0.6"/>

</g>
<g id="chartB" filter="url(#soft2)">
<rect x="30.50" y="271.8" width="57.81" height="8.40" fill="#ed7d31"/>
<rect x="88.31" y="271.8" width="68.36" height="8.40" fill="#a5a5a5"/>
<rect x="156.67" y="271.8" width="65.97" height="8.40" fill="#ffc000"/>
<rect x="222.64" y="271.8" width="34.56" height="8.40" fill="#92d050"/>
<text x="61.4" y="268.6" text-anchor="middle" font-family="Liberation Serif, serif" font-weight="bold" font-size="7.0" fill="#111" stroke="#111" stroke-width="0.2">Region 1</text>
<text x="125.4" y="268.6" text-anchor="middle" font-family="Liberation Serif, serif" font-weight="bold" font-size="7.0" fill="#111" stroke="#111" stroke-width="0.2">Region 2</text>
<text x="193.5" y="268.6" text-anchor="middle" font-family="Liberation Serif, serif" font-weight="bold" font-size="7.0" fill="#111" stroke="#111" stroke-width="0.2">Region 3</text>
<text x="242.4" y="268.6" text-anchor="middle" font-family="Liberation Serif, serif" font-weight="bold" font-size="7.0" fill="#111" stroke="#111" stroke-width="0.2">Region 3’</text>
<rect x="30.5" y="280.4" width="226.2" height="177.60000000000002" fill="#fff"/>
<line x1="55.63" y1="280.4" x2="55.63" y2="458" stroke="#dedede" stroke-width="0.6"/>
<line x1="80.77" y1="280.4" x2="80.77" y2="458" stroke="#dedede" stroke-width="0.6"/>
<line x1="105.90" y1="280.4" x2="105.90" y2="458" stroke="#dedede" stroke-width="0.6"/>
<line x1="131.03" y1="280.4" x2="131.03" y2="458" stroke="#dedede" stroke-width="0.6"/>
<line x1="156.17" y1="280.4" x2="156.17" y2="458" stroke="#dedede" stroke-width="0.6"/>
<line x1="181.30" y1="280.4" x2="181.30" y2="458" stroke="#dedede" stroke-width="0.6"/>
<line x1="206.43" y1="280.4" x2="206.43" y2="458" stroke="#dedede" stroke-width="0.6"/>
<line x1="231.57" y1="280.4" x2="231.57" y2="458" stroke="#dedede" stroke-width="0.6"/>
<line x1="30.5" y1="440.24" x2="256.7" y2="440.24" stroke="#dedede" stroke-width="0.6"/>
<line x1="30.5" y1="422.48" x2="256.7" y2="422.48" stroke="#dedede" stroke-width="0.6"/>
<line x1="30.5" y1="404.72" x2="256.7" y2="404.72" stroke="#dedede" stroke-width="0.6"/>
<line x1="30.5" y1="386.96" x2="256.7" y2="386.96" stroke="#dedede" stroke-width="0.6"/>
<line x1="30.5" y1="369.20" x2="256.7" y2="369.20" stroke="#dedede" stroke-width="0.6"/>
<line x1="30.5" y1="351.44" x2="256.7" y2="351.44" stroke="#dedede" stroke-width="0.6"/>
<line x1="30.5" y1="333.68" x2="256.7" y2="333.68" stroke="#dedede" stroke-width="0.6"/>
<line x1="30.5" y1="315.92" x2="256.7" y2="315.92" stroke="#dedede" stroke-width="0.6"/>
<line x1="30.5" y1="298.16" x2="256.7" y2="298.16" stroke="#dedede" stroke-width="0.6"/>
<polyline points="33.01,435.27 35.53,432.07 38.04,442.02 40.55,366.89 43.07,387.85 45.58,360.68 48.09,393.18 50.61,416.26 53.12,401.17 55.63,330.31 58.15,414.49 60.66,440.24 63.17,420.70 65.69,398.50 68.20,428.70 70.71,448.23 73.23,433.14 75.74,434.91 78.25,414.49 80.77,410.05 83.28,381.63 85.79,397.62 88.31,332.44 90.82,432.25 93.33,386.07 95.85,407.03 98.36,397.62 100.87,440.24 103.39,386.07 105.90,415.38 108.41,411.11 110.93,323.02 113.44,313.26 115.95,385.18 118.47,391.40 120.98,379.86 123.49,424.79 126.01,421.59 128.52,405.96 131.03,401.17 133.55,436.33 136.06,434.20 138.57,442.55 141.09,422.48 143.60,440.24 146.11,431.36 148.63,411.82 151.14,442.55 153.65,434.02 156.17,418.93 158.68,396.55 161.19,409.16 163.71,451.96 166.22,452.32 168.73,453.03 171.25,453.38 173.76,386.07 176.27,445.57 178.79,444.15 181.30,452.32 183.81,449.12 186.33,443.79 188.84,454.09 191.35,455.16 193.87,454.63 196.38,453.38 198.89,457.11 201.41,457.47 203.92,457.11 206.43,456.58 208.95,450.90 211.46,450.90 213.97,439.35 216.49,421.59 219.00,437.22 221.51,367.42 224.03,308.46 226.54,298.16 229.05,395.84 231.57,423.72 234.08,399.75 236.59,417.51 239.11,422.48 241.62,424.79 244.13,315.92" fill="none" stroke="#3f86c8" stroke-width="0.8" stroke-linejoin="round"/>
<polyline points="33.01,403.83 35.53,383.41 38.04,386.96 40.55,426.92 43.07,434.02 45.58,434.91 48.09,416.26 50.61,422.48 53.12,411.82 55.63,432.25 58.15,373.64 60.66,422.48 63.17,420.70 65.69,370.98 68.20,388.74 70.71,404.72 73.23,340.43 75.74,376.30 78.25,410.05 80.77,370.98 83.28,422.48 85.79,443.79 88.31,414.49 90.82,388.74 93.33,374.53 95.85,362.81 98.36,358.54 100.87,374.53 103.39,442.55 105.90,443.79 108.41,440.24 110.93,422.48 113.44,433.14 115.95,446.46 118.47,433.14 120.98,436.69 123.49,448.23 126.01,447.34 128.52,446.99 131.03,441.48 133.55,372.22 136.06,394.06 138.57,431.36 141.09,439.35 143.60,431.36 146.11,414.31 148.63,424.79 151.14,421.59 153.65,423.37 156.17,418.93 158.68,282.18 161.19,290.70 163.71,408.27 166.22,358.54 168.73,402.94 171.25,405.61 173.76,397.62 176.27,392.29 178.79,381.63 181.30,424.79 183.81,415.38 186.33,431.36 188.84,390.51 191.35,403.83 193.87,434.20 196.38,417.15 198.89,417.51 201.41,428.87 203.92,439.35 206.43,429.94 208.95,432.07 211.46,414.31 213.97,398.50 216.49,402.94 219.00,386.96 221.51,393.35 224.03,429.94 226.54,417.51 229.05,444.68 231.57,441.48 234.08,450.90 236.59,410.05 239.11,405.96 241.62,396.55 244.13,358.54" fill="none" stroke="#e0694a" stroke-width="0.8" stroke-linejoin="round"/>
<rect x="30.5" y="280.4" width="226.2" height="177.60000000000002" fill="none" stroke="#484848" stroke-width="0.8"/>
<line x1="30.50" y1="458" x2="30.50" y2="456" stroke="#555" stroke-width="0.5"/>
<line x1="30.50" y1="280.4" x2="30.50" y2="282.4" stroke="#555" stroke-width="0.5"/>
<text x="30.50" y="468.3" text-anchor="middle" font-size="7" fill="#444">0</text>
<line x1="55.63" y1="458" x2="55.63" y2="456" stroke="#555" stroke-width="0.5"/>
<line x1="55.63" y1="280.4" x2="55.63" y2="282.4" stroke="#555" stroke-width="0.5"/>
<text x="55.63" y="468.3" text-anchor="middle" font-size="7" fill="#444">10</text>
<line x1="80.77" y1="458" x2="80.77" y2="456" stroke="#555" stroke-width="0.5"/>
<line x1="80.77" y1="280.4" x2="80.77" y2="282.4" stroke="#555" stroke-width="0.5"/>
<text x="80.77" y="468.3" text-anchor="middle" font-size="7" fill="#444">20</text>
<line x1="105.90" y1="458" x2="105.90" y2="456" stroke="#555" stroke-width="0.5"/>
<line x1="105.90" y1="280.4" x2="105.90" y2="282.4" stroke="#555" stroke-width="0.5"/>
<text x="105.90" y="468.3" text-anchor="middle" font-size="7" fill="#444">30</text>
<line x1="131.03" y1="458" x2="131.03" y2="456" stroke="#555" stroke-width="0.5"/>
<line x1="131.03" y1="280.4" x2="131.03" y2="282.4" stroke="#555" stroke-width="0.5"/>
<text x="131.03" y="468.3" text-anchor="middle" font-size="7" fill="#444">40</text>
<line x1="156.17" y1="458" x2="156.17" y2="456" stroke="#555" stroke-width="0.5"/>
<line x1="156.17" y1="280.4" x2="156.17" y2="282.4" stroke="#555" stroke-width="0.5"/>
<text x="156.17" y="468.3" text-anchor="middle" font-size="7" fill="#444">50</text>
<line x1="181.30" y1="458" x2="181.30" y2="456" stroke="#555" stroke-width="0.5"/>
<line x1="181.30" y1="280.4" x2="181.30" y2="282.4" stroke="#555" stroke-width="0.5"/>
<text x="181.30" y="468.3" text-anchor="middle" font-size="7" fill="#444">60</text>
<line x1="206.43" y1="458" x2="206.43" y2="456" stroke="#555" stroke-width="0.5"/>
<line x1="206.43" y1="280.4" x2="206.43" y2="282.4" stroke="#555" stroke-width="0.5"/>
<text x="206.43" y="468.3" text-anchor="middle" font-size="7" fill="#444">70</text>
<line x1="231.57" y1="458" x2="231.57" y2="456" stroke="#555" stroke-width="0.5"/>
<line x1="231.57" y1="280.4" x2="231.57" y2="282.4" stroke="#555" stroke-width="0.5"/>
<text x="231.57" y="468.3" text-anchor="middle" font-size="7" fill="#444">80</text>
<line x1="256.70" y1="458" x2="256.70" y2="456" stroke="#555" stroke-width="0.5"/>
<line x1="256.70" y1="280.4" x2="256.70" y2="282.4" stroke="#555" stroke-width="0.5"/>
<text x="256.70" y="468.3" text-anchor="middle" font-size="7" fill="#444">90</text>
<line x1="30.5" y1="458.00" x2="32.5" y2="458.00" stroke="#555" stroke-width="0.5"/>
<line x1="256.7" y1="458.00" x2="254.7" y2="458.00" stroke="#555" stroke-width="0.5"/>
<text x="28.0" y="460.50" text-anchor="end" font-size="7" fill="#444">0</text>
<line x1="30.5" y1="440.24" x2="32.5" y2="440.24" stroke="#555" stroke-width="0.5"/>
<line x1="256.7" y1="440.24" x2="254.7" y2="440.24" stroke="#555" stroke-width="0.5"/>
<text x="28.0" y="442.74" text-anchor="end" font-size="7" fill="#444">1</text>
<line x1="30.5" y1="422.48" x2="32.5" y2="422.48" stroke="#555" stroke-width="0.5"/>
<line x1="256.7" y1="422.48" x2="254.7" y2="422.48" stroke="#555" stroke-width="0.5"/>
<text x="28.0" y="424.98" text-anchor="end" font-size="7" fill="#444">2</text>
<line x1="30.5" y1="404.72" x2="32.5" y2="404.72" stroke="#555" stroke-width="0.5"/>
<line x1="256.7" y1="404.72" x2="254.7" y2="404.72" stroke="#555" stroke-width="0.5"/>
<text x="28.0" y="407.22" text-anchor="end" font-size="7" fill="#444">3</text>
<line x1="30.5" y1="386.96" x2="32.5" y2="386.96" stroke="#555" stroke-width="0.5"/>
<line x1="256.7" y1="386.96" x2="254.7" y2="386.96" stroke="#555" stroke-width="0.5"/>
<text x="28.0" y="389.46" text-anchor="end" font-size="7" fill="#444">4</text>
<line x1="30.5" y1="369.20" x2="32.5" y2="369.20" stroke="#555" stroke-width="0.5"/>
<line x1="256.7" y1="369.20" x2="254.7" y2="369.20" stroke="#555" stroke-width="0.5"/>
<text x="28.0" y="371.70" text-anchor="end" font-size="7" fill="#444">5</text>
<line x1="30.5" y1="351.44" x2="32.5" y2="351.44" stroke="#555" stroke-width="0.5"/>
<line x1="256.7" y1="351.44" x2="254.7" y2="351.44" stroke="#555" stroke-width="0.5"/>
<text x="28.0" y="353.94" text-anchor="end" font-size="7" fill="#444">6</text>
<line x1="30.5" y1="333.68" x2="32.5" y2="333.68" stroke="#555" stroke-width="0.5"/>
<line x1="256.7" y1="333.68" x2="254.7" y2="333.68" stroke="#555" stroke-width="0.5"/>
<text x="28.0" y="336.18" text-anchor="end" font-size="7" fill="#444">7</text>
<line x1="30.5" y1="315.92" x2="32.5" y2="315.92" stroke="#555" stroke-width="0.5"/>
<line x1="256.7" y1="315.92" x2="254.7" y2="315.92" stroke="#555" stroke-width="0.5"/>
<text x="28.0" y="318.42" text-anchor="end" font-size="7" fill="#444">8</text>
<line x1="30.5" y1="298.16" x2="32.5" y2="298.16" stroke="#555" stroke-width="0.5"/>
<line x1="256.7" y1="298.16" x2="254.7" y2="298.16" stroke="#555" stroke-width="0.5"/>
<text x="28.0" y="300.66" text-anchor="end" font-size="7" fill="#444">9</text>
<line x1="30.5" y1="280.40" x2="32.5" y2="280.40" stroke="#555" stroke-width="0.5"/>
<line x1="256.7" y1="280.40" x2="254.7" y2="280.40" stroke="#555" stroke-width="0.5"/>
<text x="28.0" y="282.90" text-anchor="end" font-size="7" fill="#444">10</text>
<text x="143.6" y="478.8" text-anchor="middle" font-size="7.9" fill="#444">Index of Interface Contact</text>
<text transform="translate(14.6,369.2) rotate(-90)" text-anchor="middle" font-size="7.95" fill="#444">Mean Square Fluctuation of Distance (Å<tspan dy="-2.6" font-size="5.2">2</tspan><tspan dy="2.6">)</tspan></text>
<rect x="73.4" y="282.4" width="81.9" height="20.80000000000001" fill="#fff" stroke="#555" stroke-width="0.6"/>
<line x1="78.0" y1="288.64" x2="98.4" y2="288.64" stroke="#3f86c8" stroke-width="0.75"/>
<line x1="78.0" y1="297.38" x2="98.4" y2="297.38" stroke="#e0694a" stroke-width="0.75"/>
<text x="100.7" y="290.94" font-size="6.25" fill="#333">hMTP complex</text>
<text x="100.7" y="299.68" font-size="6.25" fill="#333">hMTP-E2 complex</text>
<text x="9.6" y="268" font-weight="bold" font-size="10" fill="#000" stroke="#000" stroke-width="0.35">B</text>
</g>
<g id="chartC" filter="url(#soft2)">
<rect x="315.00" y="272.5" width="58.32" height="8.50" fill="#ed7d31"/>
<rect x="373.32" y="272.5" width="67.83" height="8.50" fill="#a5a5a5"/>
<rect x="441.14" y="272.5" width="68.59" height="8.50" fill="#ffc000"/>
<rect x="509.73" y="272.5" width="33.98" height="8.50" fill="#92d050"/>
<text x="342" y="270.4" text-anchor="middle" font-family="Liberation Serif, serif" font-weight="bold" font-size="7.0" fill="#111" stroke="#111" stroke-width="0.2">Region 1</text>
<text x="406" y="270.4" text-anchor="middle" font-family="Liberation Serif, serif" font-weight="bold" font-size="7.0" fill="#111" stroke="#111" stroke-width="0.2">Region 2</text>
<text x="474.9" y="270.4" text-anchor="middle" font-family="Liberation Serif, serif" font-weight="bold" font-size="7.0" fill="#111" stroke="#111" stroke-width="0.2">Region 3</text>
<text x="526.7" y="270.4" text-anchor="middle" font-family="Liberation Serif, serif" font-weight="bold" font-size="7.0" fill="#111" stroke="#111" stroke-width="0.2">Region 3’</text>
<rect x="315" y="281.3" width="228.20000000000005" height="179.5" fill="#fff"/>
<line x1="340.36" y1="281.3" x2="340.36" y2="460.8" stroke="#dedede" stroke-width="0.6"/>
<line x1="365.71" y1="281.3" x2="365.71" y2="460.8" stroke="#dedede" stroke-width="0.6"/>
<line x1="391.07" y1="281.3" x2="391.07" y2="460.8" stroke="#dedede" stroke-width="0.6"/>
<line x1="416.42" y1="281.3" x2="416.42" y2="460.8" stroke="#dedede" stroke-width="0.6"/>
<line x1="441.78" y1="281.3" x2="441.78" y2="460.8" stroke="#dedede" stroke-width="0.6"/>
<line x1="467.13" y1="281.3" x2="467.13" y2="460.8" stroke="#dedede" stroke-width="0.6"/>
<line x1="492.49" y1="281.3" x2="492.49" y2="460.8" stroke="#dedede" stroke-width="0.6"/>
<line x1="517.84" y1="281.3" x2="517.84" y2="460.8" stroke="#dedede" stroke-width="0.6"/>
<line x1="315" y1="435.16" x2="543.2" y2="435.16" stroke="#dedede" stroke-width="0.6"/>
<line x1="315" y1="409.51" x2="543.2" y2="409.51" stroke="#dedede" stroke-width="0.6"/>
<line x1="315" y1="383.87" x2="543.2" y2="383.87" stroke="#dedede" stroke-width="0.6"/>
<line x1="315" y1="358.23" x2="543.2" y2="358.23" stroke="#dedede" stroke-width="0.6"/>
<line x1="315" y1="332.59" x2="543.2" y2="332.59" stroke="#dedede" stroke-width="0.6"/>
<line x1="315" y1="306.94" x2="543.2" y2="306.94" stroke="#dedede" stroke-width="0.6"/>
<polyline points="317.54,435.16 320.07,444.52 322.61,445.54 325.14,377.85 327.68,350.92 330.21,364.64 332.75,390.28 335.28,351.82 337.82,336.82 340.36,421.57 342.89,368.49 345.43,364.00 347.96,304.76 350.50,349.25 353.03,393.49 355.57,364.90 358.10,364.90 360.64,432.08 363.18,419.90 365.71,424.90 368.25,440.29 370.78,425.80 373.32,449.77 375.85,439.39 378.39,455.03 380.92,451.82 383.46,436.18 386.00,450.80 388.53,457.72 391.07,455.42 393.60,454.39 396.14,456.95 398.67,456.06 401.21,456.57 403.74,455.67 406.28,432.08 408.82,456.06 411.35,457.72 413.89,458.24 416.42,445.54 418.96,456.95 421.49,454.52 424.03,456.95 426.56,444.52 429.10,456.95 431.64,457.72 434.17,456.44 436.71,455.42 439.24,459.13 441.78,456.95 444.31,416.44 446.85,394.51 449.38,440.29 451.92,426.82 454.46,433.11 456.99,450.80 459.53,421.57 462.06,444.13 464.60,442.47 467.13,439.39 469.67,442.47 472.20,433.11 474.74,439.39 477.28,434.13 479.81,442.47 482.35,447.72 484.88,437.21 487.42,434.13 489.95,449.77 492.49,430.03 495.02,440.29 497.56,439.39 500.10,425.80 502.63,412.21 505.17,425.80 507.70,434.13 510.24,436.18 512.77,425.80 515.31,410.16 517.84,428.87 520.38,382.97 522.92,387.21 525.45,432.08 527.99,432.08 530.52,423.62" fill="none" stroke="#3f86c8" stroke-width="0.8" stroke-linejoin="round"/>
<polyline points="317.54,435.16 320.07,394.51 322.61,381.95 325.14,434.13 327.68,437.21 330.21,427.85 332.75,439.39 335.28,430.03 337.82,423.23 340.36,441.57 342.89,427.85 345.43,445.54 347.96,434.13 350.50,438.23 353.03,420.54 355.57,436.18 358.10,402.85 360.64,403.87 363.18,428.75 365.71,406.95 368.25,388.23 370.78,436.18 373.32,369.77 375.85,368.49 378.39,392.46 380.92,415.41 383.46,331.94 386.00,430.03 388.53,438.23 391.07,406.95 393.60,364.64 396.14,434.13 398.67,441.57 401.21,433.88 403.74,406.95 406.28,388.23 408.82,364.64 411.35,396.69 413.89,400.80 416.42,401.82 418.96,442.47 421.49,416.44 424.03,427.85 426.56,426.18 429.10,434.13 431.64,433.11 434.17,425.80 436.71,445.54 439.24,426.82 441.78,437.21 444.31,358.23 446.85,313.35 449.38,403.10 451.92,310.15 454.46,296.69 456.99,345.41 459.53,404.90 462.06,440.29 464.60,437.21 467.13,414.26 469.67,438.23 472.20,436.18 474.74,427.85 477.28,432.08 479.81,440.29 482.35,439.39 484.88,430.93 487.42,436.18 489.95,442.47 492.49,428.87 495.02,458.11 497.56,456.95 500.10,455.03 502.63,447.72 505.17,402.85 507.70,449.77 510.24,450.54 512.77,444.52 515.31,447.72 517.84,450.80 520.38,443.49 522.92,410.16 525.45,432.08 527.99,415.41 530.52,417.46" fill="none" stroke="#e0694a" stroke-width="0.8" stroke-linejoin="round"/>
<rect x="315" y="281.3" width="228.20000000000005" height="179.5" fill="none" stroke="#484848" stroke-width="0.8"/>
<line x1="315.00" y1="460.8" x2="315.00" y2="458.8" stroke="#555" stroke-width="0.5"/>
<line x1="315.00" y1="281.3" x2="315.00" y2="283.3" stroke="#555" stroke-width="0.5"/>
<text x="315.00" y="471.1" text-anchor="middle" font-size="7" fill="#444">0</text>
<line x1="340.36" y1="460.8" x2="340.36" y2="458.8" stroke="#555" stroke-width="0.5"/>
<line x1="340.36" y1="281.3" x2="340.36" y2="283.3" stroke="#555" stroke-width="0.5"/>
<text x="340.36" y="471.1" text-anchor="middle" font-size="7" fill="#444">10</text>
<line x1="365.71" y1="460.8" x2="365.71" y2="458.8" stroke="#555" stroke-width="0.5"/>
<line x1="365.71" y1="281.3" x2="365.71" y2="283.3" stroke="#555" stroke-width="0.5"/>
<text x="365.71" y="471.1" text-anchor="middle" font-size="7" fill="#444">20</text>
<line x1="391.07" y1="460.8" x2="391.07" y2="458.8" stroke="#555" stroke-width="0.5"/>
<line x1="391.07" y1="281.3" x2="391.07" y2="283.3" stroke="#555" stroke-width="0.5"/>
<text x="391.07" y="471.1" text-anchor="middle" font-size="7" fill="#444">30</text>
<line x1="416.42" y1="460.8" x2="416.42" y2="458.8" stroke="#555" stroke-width="0.5"/>
<line x1="416.42" y1="281.3" x2="416.42" y2="283.3" stroke="#555" stroke-width="0.5"/>
<text x="416.42" y="471.1" text-anchor="middle" font-size="7" fill="#444">40</text>
<line x1="441.78" y1="460.8" x2="441.78" y2="458.8" stroke="#555" stroke-width="0.5"/>
<line x1="441.78" y1="281.3" x2="441.78" y2="283.3" stroke="#555" stroke-width="0.5"/>
<text x="441.78" y="471.1" text-anchor="middle" font-size="7" fill="#444">50</text>
<line x1="467.13" y1="460.8" x2="467.13" y2="458.8" stroke="#555" stroke-width="0.5"/>
<line x1="467.13" y1="281.3" x2="467.13" y2="283.3" stroke="#555" stroke-width="0.5"/>
<text x="467.13" y="471.1" text-anchor="middle" font-size="7" fill="#444">60</text>
<line x1="492.49" y1="460.8" x2="492.49" y2="458.8" stroke="#555" stroke-width="0.5"/>
<line x1="492.49" y1="281.3" x2="492.49" y2="283.3" stroke="#555" stroke-width="0.5"/>
<text x="492.49" y="471.1" text-anchor="middle" font-size="7" fill="#444">70</text>
<line x1="517.84" y1="460.8" x2="517.84" y2="458.8" stroke="#555" stroke-width="0.5"/>
<line x1="517.84" y1="281.3" x2="517.84" y2="283.3" stroke="#555" stroke-width="0.5"/>
<text x="517.84" y="471.1" text-anchor="middle" font-size="7" fill="#444">80</text>
<line x1="543.20" y1="460.8" x2="543.20" y2="458.8" stroke="#555" stroke-width="0.5"/>
<line x1="543.20" y1="281.3" x2="543.20" y2="283.3" stroke="#555" stroke-width="0.5"/>
<text x="543.20" y="471.1" text-anchor="middle" font-size="7" fill="#444">90</text>
<line x1="315" y1="460.80" x2="317" y2="460.80" stroke="#555" stroke-width="0.5"/>
<line x1="543.2" y1="460.80" x2="541.2" y2="460.80" stroke="#555" stroke-width="0.5"/>
<text x="312.5" y="463.30" text-anchor="end" font-size="7" fill="#444">0</text>
<line x1="315" y1="435.16" x2="317" y2="435.16" stroke="#555" stroke-width="0.5"/>
<line x1="543.2" y1="435.16" x2="541.2" y2="435.16" stroke="#555" stroke-width="0.5"/>
<text x="312.5" y="437.66" text-anchor="end" font-size="7" fill="#444">2</text>
<line x1="315" y1="409.51" x2="317" y2="409.51" stroke="#555" stroke-width="0.5"/>
<line x1="543.2" y1="409.51" x2="541.2" y2="409.51" stroke="#555" stroke-width="0.5"/>
<text x="312.5" y="412.01" text-anchor="end" font-size="7" fill="#444">4</text>
<line x1="315" y1="383.87" x2="317" y2="383.87" stroke="#555" stroke-width="0.5"/>
<line x1="543.2" y1="383.87" x2="541.2" y2="383.87" stroke="#555" stroke-width="0.5"/>
<text x="312.5" y="386.37" text-anchor="end" font-size="7" fill="#444">6</text>
<line x1="315" y1="358.23" x2="317" y2="358.23" stroke="#555" stroke-width="0.5"/>
<line x1="543.2" y1="358.23" x2="541.2" y2="358.23" stroke="#555" stroke-width="0.5"/>
<text x="312.5" y="360.73" text-anchor="end" font-size="7" fill="#444">8</text>
<line x1="315" y1="332.59" x2="317" y2="332.59" stroke="#555" stroke-width="0.5"/>
<line x1="543.2" y1="332.59" x2="541.2" y2="332.59" stroke="#555" stroke-width="0.5"/>
<text x="312.5" y="335.09" text-anchor="end" font-size="7" fill="#444">10</text>
<line x1="315" y1="306.94" x2="317" y2="306.94" stroke="#555" stroke-width="0.5"/>
<line x1="543.2" y1="306.94" x2="541.2" y2="306.94" stroke="#555" stroke-width="0.5"/>
<text x="312.5" y="309.44" text-anchor="end" font-size="7" fill="#444">12</text>
<line x1="315" y1="281.30" x2="317" y2="281.30" stroke="#555" stroke-width="0.5"/>
<line x1="543.2" y1="281.30" x2="541.2" y2="281.30" stroke="#555" stroke-width="0.5"/>
<text x="312.5" y="283.80" text-anchor="end" font-size="7" fill="#444">14</text>
<text x="429.1" y="481.6" text-anchor="middle" font-size="7.9" fill="#444">Index of Interface Contact</text>
<text transform="translate(300.4,371.1) rotate(-90)" text-anchor="middle" font-size="7.95" fill="#444">Mean Square Fluctuation of Distance (Å<tspan dy="-2.6" font-size="5.2">2</tspan><tspan dy="2.6">)</tspan></text>
<rect x="358.4" y="284.4" width="80.20000000000005" height="19.200000000000045" fill="#fff" stroke="#555" stroke-width="0.6"/>
<line x1="363.0" y1="290.16" x2="383.4" y2="290.16" stroke="#3f86c8" stroke-width="0.75"/>
<line x1="363.0" y1="298.22" x2="383.4" y2="298.22" stroke="#e0694a" stroke-width="0.75"/>
<text x="385.7" y="292.46" font-size="6.25" fill="#333">hMTP complex</text>
<text x="385.7" y="300.52" font-size="6.25" fill="#333">hMTP-E2 complex</text>
<text x="289.8" y="269" font-weight="bold" font-size="10" fill="#000" stroke="#000" stroke-width="0.35">C</text>
</g>
</svg>
</body></html>
